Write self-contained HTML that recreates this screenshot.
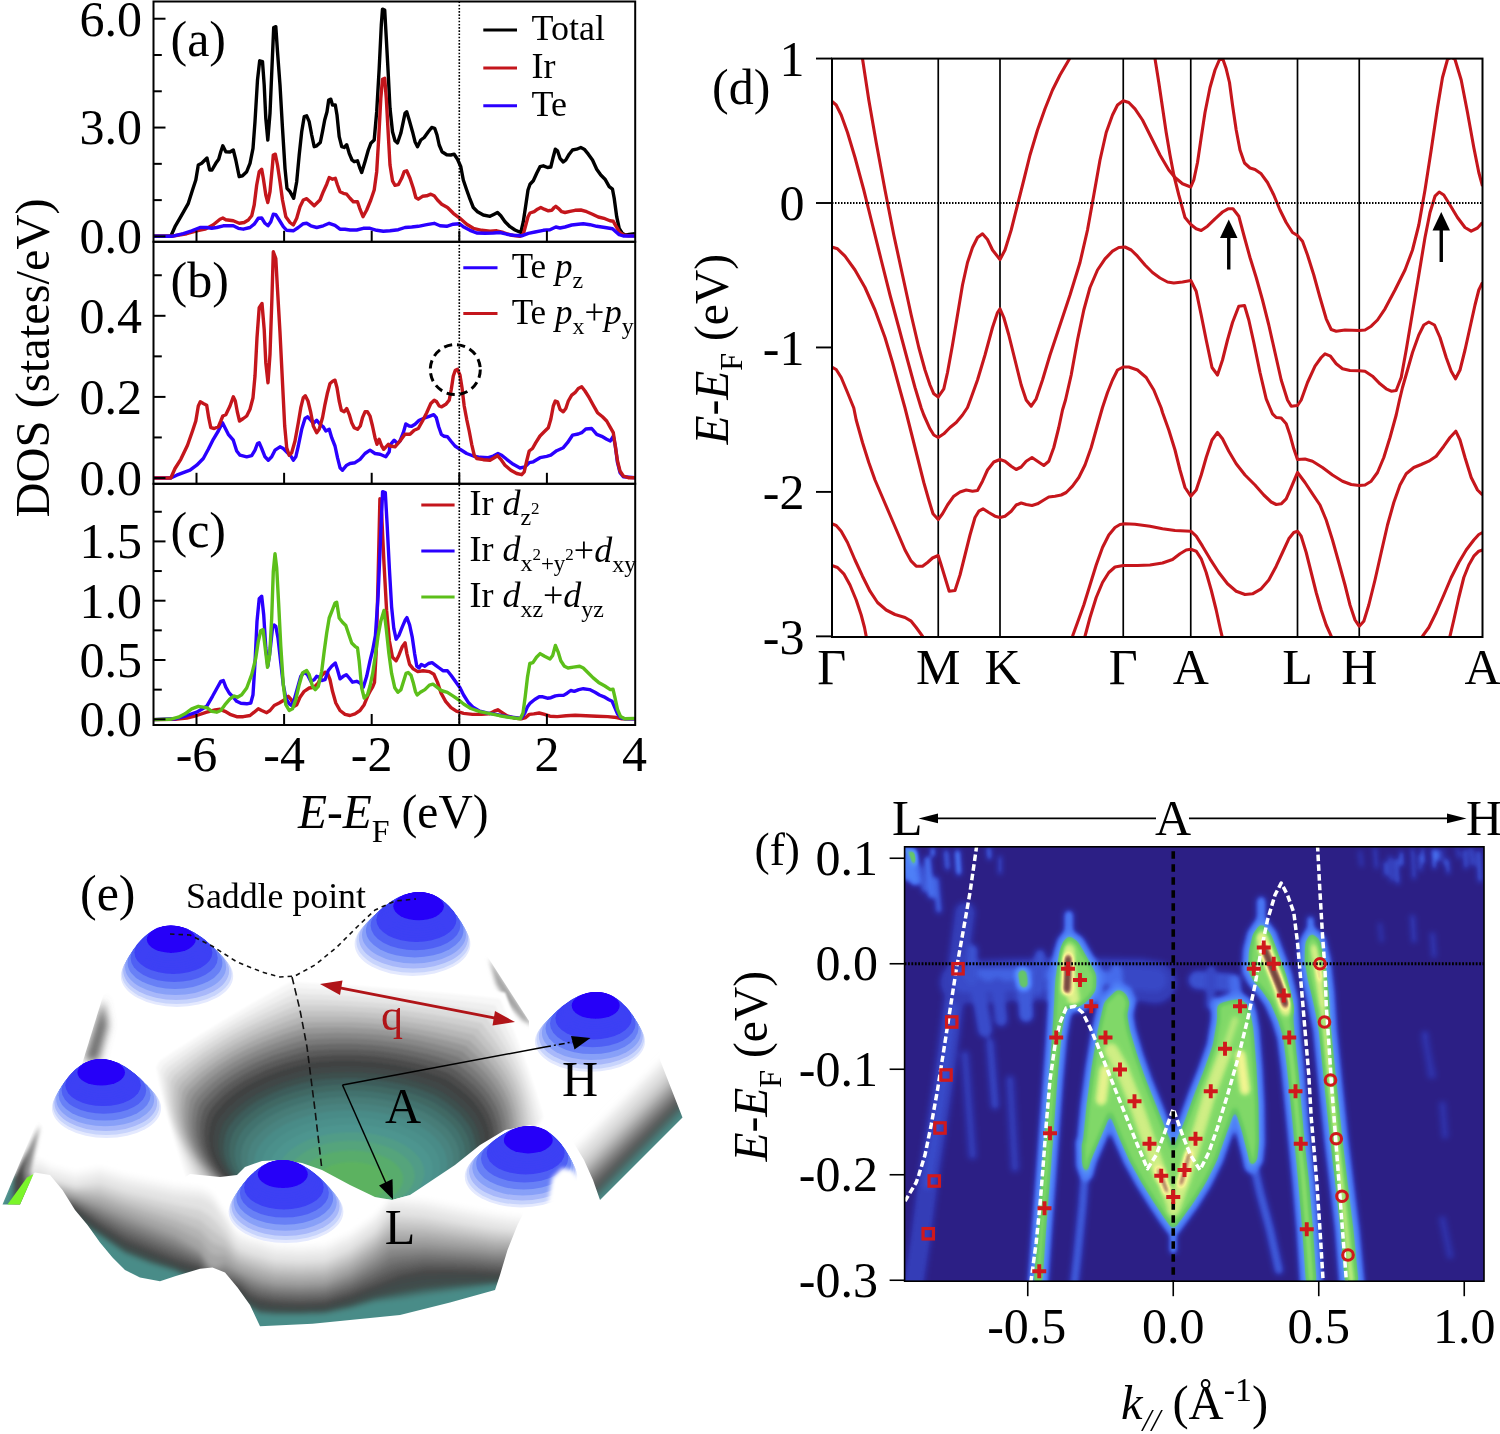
<!DOCTYPE html><html><head><meta charset="utf-8"><title>Figure</title>
<style>html,body{margin:0;padding:0;background:#fff}svg{display:block}text{font-family:"Liberation Serif",serif}</style></head><body>
<svg width="1500" height="1434" viewBox="0 0 1500 1434">
<rect width="1500" height="1434" fill="#fff"/>
<defs><clipPath id="ca"><rect x="153.5" y="1.5" width="481.70000000000005" height="240.3"/></clipPath><clipPath id="cb"><rect x="153.5" y="241.8" width="481.70000000000005" height="242.0"/></clipPath><clipPath id="cc"><rect x="153.5" y="483.8" width="481.70000000000005" height="241.2"/></clipPath></defs>
<g clip-path="url(#ca)">
<path d="M150.0 236.3 L170.8 236.3 L175.0 226.7 L180.8 216.7 L188.3 203.3 L192.5 190.0 L195.8 180.0 L198.3 165.0 L201.7 163.3 L204.2 160.8 L207.0 158.0 L209.7 170.0 L212.0 170.0 L215.8 163.3 L218.7 159.2 L220.8 151.7 L222.8 145.8 L225.8 151.7 L230.0 152.0 L233.3 150.0 L235.8 160.0 L239.2 176.7 L242.5 175.8 L246.7 171.7 L250.0 163.3 L253.0 148.3 L255.0 121.7 L257.5 80.0 L259.7 60.8 L262.5 61.7 L264.2 85.0 L265.8 118.3 L267.8 140.0 L270.0 113.3 L272.5 55.0 L273.7 27.5 L275.8 26.7 L277.5 51.7 L280.0 85.0 L282.5 128.3 L285.0 168.3 L287.0 188.3 L290.0 191.7 L293.7 198.3 L296.7 181.7 L299.2 155.0 L301.7 131.7 L304.2 116.7 L306.7 115.8 L309.2 121.7 L311.7 135.0 L314.2 146.7 L316.7 145.8 L320.3 142.5 L322.5 131.7 L324.7 120.0 L327.0 111.7 L328.7 100.0 L330.8 99.2 L332.5 105.0 L335.3 105.0 L337.0 115.0 L339.2 136.7 L341.7 146.7 L344.2 147.5 L346.7 144.7 L349.2 153.3 L352.0 160.0 L354.2 161.7 L357.5 160.8 L359.7 167.5 L361.7 172.5 L365.0 161.7 L368.3 150.0 L370.8 143.3 L374.2 140.0 L376.7 111.7 L379.2 68.3 L381.3 25.0 L382.5 9.2 L384.7 10.0 L386.3 38.3 L388.3 75.0 L390.0 108.3 L392.5 131.7 L395.0 140.8 L397.5 143.0 L400.8 133.3 L403.3 121.7 L405.0 113.3 L406.7 111.7 L409.2 120.0 L412.5 131.7 L415.0 141.7 L417.5 146.7 L420.8 140.0 L424.2 137.5 L428.3 131.7 L431.7 127.5 L434.7 128.3 L437.0 135.0 L439.2 145.0 L442.0 151.7 L446.7 154.7 L450.8 155.0 L454.2 154.2 L457.5 159.2 L460.8 166.7 L463.3 180.0 L466.7 190.0 L470.0 199.2 L473.3 207.5 L477.5 211.7 L483.3 215.0 L490.0 216.3 L494.2 214.2 L497.5 212.5 L500.8 215.8 L505.0 221.7 L510.0 226.7 L515.0 230.0 L520.8 232.5 L523.3 221.7 L525.8 205.0 L528.0 190.0 L530.0 184.2 L533.3 180.8 L536.7 173.3 L540.0 166.7 L543.3 165.8 L547.5 167.5 L550.8 167.0 L553.3 156.7 L555.3 149.2 L557.5 150.8 L560.0 158.3 L563.3 162.0 L565.8 160.0 L569.2 154.2 L572.5 150.0 L576.7 149.2 L580.8 147.5 L584.2 149.2 L588.3 154.2 L592.5 160.0 L596.7 169.2 L600.8 175.0 L605.0 179.2 L609.2 186.7 L612.5 189.2 L614.2 198.3 L616.7 216.7 L619.2 228.3 L622.5 233.7 L625.8 235.0 L630.8 234.2 L635.0 233.7" fill="none" stroke="#000" stroke-width="3.4" stroke-linejoin="round" stroke-linecap="butt" />
<path d="M150.0 236.3 L171.7 236.3 L186.7 233.7 L196.7 230.8 L205.0 229.2 L213.3 224.7 L220.0 219.2 L222.8 218.0 L225.8 219.7 L233.3 220.8 L239.2 223.3 L244.2 222.5 L248.3 220.0 L251.7 215.8 L254.2 205.0 L256.7 185.0 L259.2 171.7 L261.7 169.2 L263.3 178.3 L265.8 195.0 L267.8 202.5 L270.0 191.7 L272.5 165.0 L273.3 155.0 L275.3 154.2 L277.5 165.0 L280.0 181.7 L282.5 200.0 L285.8 216.7 L290.0 222.5 L293.3 225.0 L296.7 218.3 L300.0 206.7 L303.3 200.0 L306.7 198.7 L310.0 201.7 L314.2 205.8 L320.0 200.0 L323.3 191.7 L326.7 184.2 L329.2 177.5 L332.5 179.2 L335.3 178.3 L337.5 185.0 L340.0 191.7 L343.3 193.3 L346.7 194.2 L350.0 198.3 L353.3 201.7 L357.5 201.7 L359.7 208.3 L363.0 216.7 L366.7 210.0 L370.8 200.0 L374.2 190.0 L376.7 171.7 L378.7 138.3 L380.8 98.3 L382.5 79.2 L384.7 78.3 L386.3 98.3 L388.3 135.0 L390.0 165.0 L392.5 180.8 L395.0 185.3 L398.3 184.7 L401.7 178.3 L404.2 171.7 L406.7 170.8 L410.0 178.3 L413.3 188.3 L415.8 197.5 L418.3 199.2 L422.5 196.3 L426.7 195.8 L430.8 194.2 L434.2 195.8 L437.5 200.0 L441.7 204.2 L447.5 207.5 L453.3 213.3 L460.0 218.3 L466.7 224.2 L473.3 228.3 L481.7 230.3 L490.0 231.3 L496.7 230.8 L503.3 232.5 L511.7 235.3 L520.0 236.3 L523.3 234.2 L525.8 225.0 L528.0 216.7 L530.0 213.0 L534.2 211.7 L537.5 209.2 L540.8 207.5 L544.2 209.2 L548.3 210.8 L551.7 210.3 L554.2 207.5 L555.8 206.3 L558.3 208.3 L561.7 211.7 L565.0 212.5 L570.0 211.3 L575.0 210.3 L580.8 210.0 L586.7 211.7 L592.5 214.2 L598.3 217.0 L605.0 218.7 L610.0 220.8 L613.3 221.3 L615.8 225.8 L619.2 231.7 L623.3 235.0 L628.3 235.8 L635.0 235.8" fill="none" stroke="#c4161c" stroke-width="3.4" stroke-linejoin="round" stroke-linecap="butt" />
<path d="M150.0 236.3 L171.7 236.3 L183.3 233.7 L191.7 230.8 L200.0 227.5 L206.7 227.5 L211.7 228.3 L216.7 227.5 L223.3 225.8 L233.3 225.8 L238.3 228.3 L243.3 229.2 L250.0 227.5 L254.2 224.2 L258.3 218.3 L261.7 218.0 L265.0 223.3 L268.0 225.8 L270.8 221.7 L273.3 214.2 L275.8 214.7 L279.2 220.0 L283.3 226.7 L286.7 230.3 L293.3 230.8 L298.3 227.5 L303.3 223.7 L306.7 223.3 L310.8 225.8 L316.7 227.5 L323.3 225.8 L329.2 223.3 L335.0 225.3 L340.0 229.2 L345.0 229.2 L350.0 230.0 L356.7 230.0 L363.3 228.3 L370.0 228.3 L376.7 230.3 L383.3 231.3 L390.0 230.7 L398.3 229.7 L405.0 227.5 L411.7 227.0 L418.3 226.3 L426.7 224.7 L434.2 223.3 L440.0 225.8 L446.7 226.3 L453.3 224.2 L459.2 223.7 L463.3 226.7 L470.0 230.3 L476.7 233.0 L485.0 233.3 L493.3 233.0 L500.0 232.5 L506.7 234.2 L513.3 235.3 L521.7 235.8 L528.3 233.3 L535.0 232.0 L543.3 230.3 L550.0 229.7 L555.8 227.0 L560.0 228.0 L565.0 227.0 L571.7 225.0 L578.3 224.2 L583.3 223.7 L590.0 224.7 L596.7 226.3 L605.0 227.5 L612.5 228.7 L615.8 231.7 L619.2 234.7 L623.3 236.0 L635.0 236.0" fill="none" stroke="#2a00ff" stroke-width="3.4" stroke-linejoin="round" stroke-linecap="butt" />
</g>
<g clip-path="url(#cb)">
<path d="M150.0 478.0 L170.8 478.0 L176.7 475.2 L183.3 472.7 L190.0 470.2 L196.7 465.2 L203.3 458.5 L208.3 449.3 L213.3 439.3 L218.3 431.0 L222.5 422.7 L225.0 427.7 L228.3 434.3 L233.3 440.2 L236.7 451.0 L240.0 455.2 L246.7 456.8 L251.7 455.7 L255.0 450.2 L257.5 443.5 L259.2 442.7 L261.7 448.5 L265.0 456.8 L268.3 460.2 L271.7 456.8 L275.0 450.2 L280.0 446.8 L283.3 448.5 L287.5 452.7 L290.8 456.0 L293.3 460.2 L295.8 456.8 L298.3 446.0 L301.7 429.3 L305.0 418.5 L307.5 416.8 L310.0 419.3 L313.3 423.5 L316.7 420.2 L320.0 424.3 L323.3 426.8 L325.8 431.0 L329.2 429.3 L331.7 437.7 L335.0 446.0 L337.5 457.7 L340.0 467.7 L342.5 470.2 L346.7 465.2 L350.0 463.5 L355.0 462.7 L360.0 459.3 L365.0 453.5 L370.0 450.2 L375.0 453.5 L380.0 454.3 L385.8 456.8 L389.2 451.8 L390.0 445.2 L394.2 440.2 L397.5 443.5 L400.0 441.0 L403.3 432.7 L405.8 424.0 L409.2 426.0 L411.7 426.3 L415.0 424.3 L419.2 420.2 L423.3 418.5 L429.2 416.3 L433.7 414.7 L436.3 417.7 L438.7 426.8 L441.3 434.3 L444.2 436.3 L447.5 436.8 L450.8 441.0 L455.0 446.0 L460.0 449.3 L466.7 453.5 L473.3 456.0 L480.0 457.3 L488.3 457.7 L493.3 456.0 L498.0 453.5 L501.7 455.2 L506.7 459.3 L513.3 464.3 L520.0 468.0 L525.0 466.8 L529.2 462.7 L533.3 461.8 L540.0 457.7 L546.7 456.3 L550.8 455.2 L556.7 450.7 L563.3 447.7 L567.5 442.7 L572.5 435.2 L578.3 434.0 L581.7 432.7 L585.8 429.0 L591.7 428.5 L596.7 434.3 L601.7 436.3 L606.7 439.3 L610.3 441.0 L613.3 436.0 L615.3 446.0 L617.5 462.7 L620.0 472.7 L623.3 476.8 L635.0 477.7" fill="none" stroke="#2a00ff" stroke-width="3.4" stroke-linejoin="round" stroke-linecap="butt" />
<path d="M150.0 478.0 L170.8 478.0 L175.0 468.5 L180.8 459.3 L187.5 445.2 L192.5 431.0 L195.8 421.0 L198.3 406.0 L200.3 401.8 L203.3 403.5 L206.7 405.2 L208.7 417.7 L210.8 427.7 L214.2 428.5 L218.3 426.8 L220.8 421.0 L222.8 416.0 L225.8 414.7 L230.0 406.0 L233.3 396.8 L235.3 401.0 L237.5 412.7 L239.5 421.0 L243.3 418.5 L246.7 416.0 L250.0 409.3 L253.0 397.7 L255.0 376.0 L257.0 337.7 L259.2 307.7 L262.0 303.5 L264.2 329.3 L265.8 362.7 L268.0 382.7 L270.0 354.3 L272.0 296.0 L273.3 251.8 L275.8 258.5 L277.5 289.3 L280.0 332.7 L282.5 382.7 L284.7 426.0 L286.7 447.7 L289.2 455.2 L291.7 452.7 L295.0 441.0 L298.3 422.7 L300.8 407.7 L303.3 397.7 L305.3 395.7 L308.0 401.0 L310.8 412.7 L313.3 426.0 L316.7 432.7 L319.2 429.3 L322.5 417.7 L325.0 404.3 L327.5 392.7 L330.0 383.5 L333.0 381.0 L335.0 380.2 L337.0 387.7 L339.2 401.0 L341.3 410.2 L344.2 411.8 L346.7 408.5 L349.2 414.3 L351.7 422.7 L354.2 427.7 L357.5 429.3 L360.3 426.0 L362.5 417.7 L365.0 411.8 L367.5 411.8 L370.0 416.0 L372.5 426.0 L375.0 437.7 L377.0 444.3 L379.2 439.3 L381.7 446.0 L383.7 449.3 L388.3 444.3 L390.0 446.0 L395.0 446.8 L400.0 441.0 L405.0 434.3 L410.0 434.3 L414.2 430.2 L418.3 428.5 L422.5 421.0 L426.7 412.7 L430.8 403.5 L434.2 400.2 L436.7 401.8 L439.2 406.0 L441.7 406.8 L445.8 404.3 L449.2 400.2 L451.3 389.3 L453.3 376.0 L455.3 370.2 L457.5 369.3 L460.0 375.2 L462.0 387.7 L464.2 406.0 L466.7 419.3 L469.2 431.0 L471.7 444.3 L474.2 455.2 L476.7 458.5 L483.3 459.7 L490.0 460.2 L494.2 457.7 L497.5 455.7 L500.8 459.3 L505.0 465.2 L510.8 470.2 L516.7 473.5 L521.7 474.7 L524.2 471.8 L526.7 461.0 L529.2 451.0 L532.5 448.5 L535.8 442.7 L540.0 436.0 L544.2 431.8 L548.3 427.7 L550.8 419.3 L553.3 406.0 L555.3 401.0 L557.5 401.8 L560.0 409.3 L563.3 411.8 L565.8 408.5 L568.3 401.0 L571.7 395.2 L575.0 392.7 L578.3 388.5 L581.7 386.8 L585.0 391.0 L589.2 397.7 L593.3 405.2 L597.5 412.7 L602.5 416.8 L606.7 421.0 L610.0 426.8 L613.3 432.7 L615.3 446.0 L617.5 461.0 L620.0 471.0 L623.3 476.0 L628.3 477.7 L635.0 477.7" fill="none" stroke="#c4161c" stroke-width="3.4" stroke-linejoin="round" stroke-linecap="butt" />
</g>
<g clip-path="url(#cc)">
<path d="M150.0 719.7 L175.0 719.3 L186.7 718.0 L196.7 715.5 L206.7 712.2 L215.0 710.0 L220.0 709.3 L225.0 711.3 L230.0 714.3 L236.7 716.7 L243.3 716.7 L250.0 715.5 L254.2 712.2 L258.3 708.8 L261.7 710.5 L266.7 712.7 L270.0 710.5 L274.2 705.5 L279.2 703.0 L284.2 700.0 L288.3 696.3 L291.3 699.7 L294.2 706.3 L296.7 704.7 L300.0 697.2 L304.2 691.3 L309.2 688.0 L314.2 687.2 L318.3 683.0 L321.7 675.5 L325.0 672.2 L327.5 673.0 L330.0 679.7 L332.5 691.3 L335.8 703.0 L340.0 710.5 L345.0 714.3 L350.0 715.5 L355.0 713.8 L360.0 710.5 L364.2 704.7 L368.3 694.7 L370.0 691.4 L372.7 686.9 L374.5 682.4 L376.3 650.0 L378.1 578.0 L379.9 498.8 L381.7 515.0 L384.0 563.6 L386.6 610.4 L389.4 641.0 L392.5 657.2 L396.1 660.8 L398.8 655.4 L402.4 646.4 L405.1 642.8 L406.9 653.6 L409.6 664.4 L413.2 668.9 L417.7 671.6 L423.1 670.7 L429.4 671.6 L433.9 674.3 L437.5 682.4 L441.1 693.2 L445.6 701.3 L451.0 707.6 L456.4 711.2 L463.6 713.4 L472.6 714.4 L481.6 714.4 L488.8 713.9 L494.2 711.2 L497.8 709.8 L501.4 712.1 L506.8 715.7 L514.0 718.0 L521.2 718.8 L525.7 717.5 L529.3 714.4 L533.8 713.9 L539.2 713.0 L544.6 714.4 L550.0 716.2 L557.2 716.6 L566.2 715.7 L575.2 715.2 L586.0 715.7 L596.8 716.2 L607.6 716.6 L616.6 717.5 L622.0 718.8 L634.6 718.8" fill="none" stroke="#c4161c" stroke-width="3.4" stroke-linejoin="round" stroke-linecap="butt" />
<path d="M150.0 719.7 L175.0 718.8 L186.7 715.5 L196.7 712.2 L206.7 706.3 L212.5 696.3 L217.5 687.2 L220.8 681.3 L223.3 680.5 L225.8 687.2 L229.2 693.0 L233.3 697.2 L236.7 701.3 L240.8 703.3 L246.7 703.8 L250.8 703.0 L253.0 694.7 L255.0 663.0 L257.0 621.3 L259.2 598.8 L261.7 596.3 L263.7 614.7 L265.8 648.0 L267.8 666.3 L270.0 651.3 L272.5 628.0 L274.2 625.0 L275.8 626.3 L278.0 638.0 L280.8 663.0 L283.3 684.7 L285.8 698.0 L289.2 703.8 L291.7 705.5 L294.2 699.7 L297.5 688.0 L300.8 676.3 L304.2 672.2 L307.5 674.7 L310.8 681.3 L314.2 679.7 L316.7 676.3 L319.2 677.2 L321.7 680.5 L325.0 679.7 L328.3 670.5 L331.7 666.3 L335.3 663.0 L337.5 669.7 L340.0 678.8 L343.3 676.3 L346.3 674.7 L349.2 678.0 L352.5 682.2 L356.7 681.3 L360.0 683.0 L363.3 687.2 L366.7 676.3 L370.0 660.8 L372.7 650.0 L375.4 635.6 L378.1 596.0 L380.4 542.0 L382.6 491.6 L385.3 492.5 L387.1 524.0 L389.4 569.0 L391.6 606.8 L393.8 628.4 L396.1 639.2 L398.8 635.6 L402.4 626.6 L405.1 620.3 L406.9 617.6 L409.6 624.8 L412.3 637.4 L414.6 653.6 L416.8 666.2 L419.0 668.0 L421.3 664.4 L424.9 666.2 L428.5 663.5 L432.1 662.6 L435.7 665.3 L439.3 668.0 L442.9 670.7 L447.4 670.7 L451.0 675.2 L455.5 681.5 L460.0 687.8 L463.6 695.0 L468.1 702.2 L473.5 707.6 L479.8 711.2 L487.0 713.0 L496.0 714.4 L505.0 716.2 L514.0 717.5 L521.2 718.4 L524.8 713.0 L527.5 706.7 L530.2 703.1 L534.7 699.5 L539.2 696.8 L542.8 696.8 L547.3 698.2 L550.9 697.7 L555.4 695.9 L559.0 695.4 L563.5 695.4 L567.1 693.2 L570.7 690.5 L574.3 691.4 L578.8 689.6 L583.3 688.7 L589.6 689.6 L595.0 692.3 L599.5 695.0 L604.0 696.8 L608.5 699.5 L612.1 701.3 L614.4 706.7 L617.5 713.9 L621.1 718.0 L625.6 718.8 L634.6 718.8" fill="none" stroke="#2a00ff" stroke-width="3.4" stroke-linejoin="round" stroke-linecap="butt" />
<path d="M150.0 719.7 L170.0 719.3 L178.3 717.2 L185.0 713.8 L191.7 708.8 L198.3 706.3 L203.3 707.2 L207.5 708.0 L211.7 711.3 L216.7 712.2 L220.8 710.5 L225.0 704.7 L230.0 698.8 L234.2 696.0 L237.5 697.2 L241.7 694.7 L246.7 688.0 L251.7 674.7 L255.8 658.0 L258.3 641.3 L260.8 630.5 L263.0 629.7 L265.0 646.3 L267.5 667.2 L269.7 654.7 L271.7 618.0 L273.3 571.3 L275.0 553.8 L276.7 568.0 L278.7 604.7 L280.8 646.3 L283.3 684.7 L285.8 704.7 L289.2 710.5 L292.5 708.8 L295.8 699.7 L299.2 684.7 L302.5 673.0 L306.7 670.5 L309.2 674.7 L312.5 686.3 L315.3 689.7 L318.3 686.3 L321.7 671.3 L324.2 651.3 L326.7 633.0 L329.2 618.0 L332.5 609.7 L335.0 603.0 L336.7 602.2 L339.2 618.0 L342.5 622.2 L345.8 625.5 L348.3 633.0 L351.7 643.0 L355.0 646.3 L357.5 648.0 L359.2 661.3 L361.7 688.0 L364.2 698.0 L367.5 694.7 L370.0 686.0 L372.7 673.4 L375.4 655.4 L378.1 635.6 L380.8 621.2 L384.0 610.4 L386.2 628.4 L388.9 653.6 L391.6 673.4 L394.8 687.8 L397.9 692.3 L401.0 689.6 L403.8 680.6 L406.0 673.4 L408.2 672.5 L411.0 675.2 L413.2 682.4 L415.4 691.4 L417.2 695.0 L420.4 692.3 L424.9 689.6 L429.4 685.1 L433.0 684.2 L436.6 686.9 L441.1 690.5 L447.4 692.3 L452.8 695.9 L458.2 699.5 L463.6 704.0 L470.8 708.5 L479.8 711.6 L488.8 713.4 L499.6 715.7 L510.4 717.5 L520.3 718.8 L523.0 713.0 L525.2 696.8 L527.5 677.0 L529.8 663.5 L532.9 662.6 L536.5 657.2 L540.1 653.6 L544.6 656.3 L550.0 659.0 L552.7 655.4 L555.4 645.5 L558.1 651.8 L560.8 660.8 L564.4 666.2 L568.0 668.0 L573.4 667.1 L579.7 666.2 L583.3 668.0 L587.8 672.5 L593.2 677.9 L598.6 682.4 L604.9 686.0 L610.3 689.6 L613.0 689.2 L614.8 696.8 L617.5 709.4 L620.6 716.6 L624.7 718.8 L634.6 718.4" fill="none" stroke="#5cbf1a" stroke-width="3.4" stroke-linejoin="round" stroke-linecap="butt" />
</g>
<line x1="459.30" y1="1.50" x2="459.30" y2="725.00" stroke="#000" stroke-width="1.6" stroke-dasharray="1.6 1.6"/>
<rect x="153.5" y="1.5" width="481.70000000000005" height="240.3" fill="none" stroke="#000" stroke-width="2"/>
<rect x="153.5" y="241.8" width="481.70000000000005" height="242.0" fill="none" stroke="#000" stroke-width="2"/>
<rect x="153.5" y="483.8" width="481.70000000000005" height="241.2" fill="none" stroke="#000" stroke-width="2"/>
<line x1="196.50" y1="241.80" x2="196.50" y2="230.80" stroke="#000" stroke-width="2" />
<line x1="284.10" y1="241.80" x2="284.10" y2="230.80" stroke="#000" stroke-width="2" />
<line x1="371.70" y1="241.80" x2="371.70" y2="230.80" stroke="#000" stroke-width="2" />
<line x1="459.30" y1="241.80" x2="459.30" y2="230.80" stroke="#000" stroke-width="2" />
<line x1="546.90" y1="241.80" x2="546.90" y2="230.80" stroke="#000" stroke-width="2" />
<line x1="196.50" y1="483.80" x2="196.50" y2="472.80" stroke="#000" stroke-width="2" />
<line x1="284.10" y1="483.80" x2="284.10" y2="472.80" stroke="#000" stroke-width="2" />
<line x1="371.70" y1="483.80" x2="371.70" y2="472.80" stroke="#000" stroke-width="2" />
<line x1="459.30" y1="483.80" x2="459.30" y2="472.80" stroke="#000" stroke-width="2" />
<line x1="546.90" y1="483.80" x2="546.90" y2="472.80" stroke="#000" stroke-width="2" />
<line x1="196.50" y1="725.00" x2="196.50" y2="714.00" stroke="#000" stroke-width="2" />
<line x1="284.10" y1="725.00" x2="284.10" y2="714.00" stroke="#000" stroke-width="2" />
<line x1="371.70" y1="725.00" x2="371.70" y2="714.00" stroke="#000" stroke-width="2" />
<line x1="459.30" y1="725.00" x2="459.30" y2="714.00" stroke="#000" stroke-width="2" />
<line x1="546.90" y1="725.00" x2="546.90" y2="714.00" stroke="#000" stroke-width="2" />
<line x1="153.50" y1="236.40" x2="165.50" y2="236.40" stroke="#000" stroke-width="2" />
<line x1="153.50" y1="127.56" x2="165.50" y2="127.56" stroke="#000" stroke-width="2" />
<line x1="153.50" y1="18.72" x2="165.50" y2="18.72" stroke="#000" stroke-width="2" />
<line x1="153.50" y1="200.12" x2="161.80" y2="200.12" stroke="#000" stroke-width="2" />
<line x1="153.50" y1="163.84" x2="161.80" y2="163.84" stroke="#000" stroke-width="2" />
<line x1="153.50" y1="91.28" x2="161.80" y2="91.28" stroke="#000" stroke-width="2" />
<line x1="153.50" y1="55.00" x2="161.80" y2="55.00" stroke="#000" stroke-width="2" />
<line x1="153.50" y1="478.00" x2="165.50" y2="478.00" stroke="#000" stroke-width="2" />
<line x1="153.50" y1="396.90" x2="165.50" y2="396.90" stroke="#000" stroke-width="2" />
<line x1="153.50" y1="315.80" x2="165.50" y2="315.80" stroke="#000" stroke-width="2" />
<line x1="153.50" y1="437.45" x2="161.80" y2="437.45" stroke="#000" stroke-width="2" />
<line x1="153.50" y1="356.35" x2="161.80" y2="356.35" stroke="#000" stroke-width="2" />
<line x1="153.50" y1="275.25" x2="161.80" y2="275.25" stroke="#000" stroke-width="2" />
<line x1="153.50" y1="719.30" x2="165.50" y2="719.30" stroke="#000" stroke-width="2" />
<line x1="153.50" y1="660.00" x2="165.50" y2="660.00" stroke="#000" stroke-width="2" />
<line x1="153.50" y1="600.70" x2="165.50" y2="600.70" stroke="#000" stroke-width="2" />
<line x1="153.50" y1="541.40" x2="165.50" y2="541.40" stroke="#000" stroke-width="2" />
<line x1="153.50" y1="689.65" x2="161.80" y2="689.65" stroke="#000" stroke-width="2" />
<line x1="153.50" y1="630.35" x2="161.80" y2="630.35" stroke="#000" stroke-width="2" />
<line x1="153.50" y1="571.05" x2="161.80" y2="571.05" stroke="#000" stroke-width="2" />
<line x1="153.50" y1="511.75" x2="161.80" y2="511.75" stroke="#000" stroke-width="2" />
<text x="142.00" y="253.20" font-size="50" text-anchor="end" fill="#000" >0.0</text>
<text x="142.00" y="144.36" font-size="50" text-anchor="end" fill="#000" >3.0</text>
<text x="142.00" y="35.52" font-size="50" text-anchor="end" fill="#000" >6.0</text>
<text x="142.00" y="494.80" font-size="50" text-anchor="end" fill="#000" >0.0</text>
<text x="142.00" y="413.70" font-size="50" text-anchor="end" fill="#000" >0.2</text>
<text x="142.00" y="332.60" font-size="50" text-anchor="end" fill="#000" >0.4</text>
<text x="142.00" y="736.10" font-size="50" text-anchor="end" fill="#000" >0.0</text>
<text x="142.00" y="676.80" font-size="50" text-anchor="end" fill="#000" >0.5</text>
<text x="142.00" y="617.50" font-size="50" text-anchor="end" fill="#000" >1.0</text>
<text x="142.00" y="558.20" font-size="50" text-anchor="end" fill="#000" >1.5</text>
<text x="196.50" y="771.00" font-size="50" text-anchor="middle" fill="#000" >-6</text>
<text x="284.10" y="771.00" font-size="50" text-anchor="middle" fill="#000" >-4</text>
<text x="371.70" y="771.00" font-size="50" text-anchor="middle" fill="#000" >-2</text>
<text x="459.30" y="771.00" font-size="50" text-anchor="middle" fill="#000" >0</text>
<text x="546.90" y="771.00" font-size="50" text-anchor="middle" fill="#000" >2</text>
<text x="634.50" y="771.00" font-size="50" text-anchor="middle" fill="#000" >4</text>
<text x="170.50" y="56.00" font-size="50" text-anchor="start" fill="#000" >(a)</text>
<text x="170.50" y="297.00" font-size="50" text-anchor="start" fill="#000" >(b)</text>
<text x="170.50" y="547.00" font-size="50" text-anchor="start" fill="#000" >(c)</text>
<text transform="translate(49 517.5) rotate(-90)" font-size="48.5">DOS (states/eV)</text>
<text x="298" y="827.5" font-size="47.5"><tspan font-style="italic">E</tspan>-<tspan font-style="italic">E</tspan><tspan font-size="32" dy="14.5">F</tspan><tspan dy="-14.5"> (eV)</tspan></text>
<line x1="483.30" y1="30.00" x2="517.00" y2="30.00" stroke="#000" stroke-width="3" />
<text x="531.50" y="40.20" font-size="36" text-anchor="start" fill="#000" >Total</text>
<line x1="483.30" y1="67.90" x2="517.00" y2="67.90" stroke="#c4161c" stroke-width="3" />
<text x="531.50" y="78.10" font-size="36" text-anchor="start" fill="#000" >Ir</text>
<line x1="483.30" y1="105.80" x2="517.00" y2="105.80" stroke="#2a00ff" stroke-width="3" />
<text x="531.50" y="116.00" font-size="36" text-anchor="start" fill="#000" >Te</text>
<line x1="463.30" y1="267.70" x2="497.50" y2="267.70" stroke="#2a00ff" stroke-width="3" />
<line x1="463.30" y1="313.50" x2="497.50" y2="313.50" stroke="#c4161c" stroke-width="3" />
<text x="511.7" y="277.7" font-size="35">Te <tspan font-style="italic">p</tspan><tspan font-size="24" dy="10">z</tspan></text>
<text x="511.7" y="323.5" font-size="35">Te <tspan font-style="italic">p</tspan><tspan font-size="24" dy="10">x</tspan><tspan dy="-10">+</tspan><tspan font-style="italic">p</tspan><tspan font-size="24" dy="10">y</tspan></text>
<line x1="421.30" y1="505.10" x2="454.60" y2="505.10" stroke="#c4161c" stroke-width="3" />
<line x1="421.30" y1="551.00" x2="454.60" y2="551.00" stroke="#2a00ff" stroke-width="3" />
<line x1="421.30" y1="596.90" x2="454.60" y2="596.90" stroke="#5cbf1a" stroke-width="3" />
<text x="469.4" y="515" font-size="36">Ir <tspan font-style="italic">d</tspan><tspan font-size="24" dy="10">z</tspan><tspan font-size="17" dy="-11">2</tspan></text>
<text x="469.4" y="560.9" font-size="36">Ir <tspan font-style="italic">d</tspan><tspan font-size="24" dy="10">x</tspan><tspan font-size="17" dy="-11">2</tspan><tspan font-size="23" dy="11">+y</tspan><tspan font-size="17" dy="-11">2</tspan><tspan dy="2">+</tspan><tspan font-style="italic">d</tspan><tspan font-size="24" dy="10">xy</tspan></text>
<text x="469.4" y="606.8" font-size="36">Ir <tspan font-style="italic">d</tspan><tspan font-size="24" dy="10">xz</tspan><tspan dy="-10">+</tspan><tspan font-style="italic">d</tspan><tspan font-size="24" dy="10">yz</tspan></text>
<circle cx="455.3" cy="369.6" r="25" fill="none" stroke="#000" stroke-width="3" stroke-dasharray="8.2 5"/>
<defs>
<filter id="eb1" filterUnits="userSpaceOnUse" x="-50" y="850" width="800" height="600"><feGaussianBlur stdDeviation="1.1"/></filter>
<filter id="eb2" filterUnits="userSpaceOnUse" x="-50" y="850" width="800" height="600"><feGaussianBlur stdDeviation="2.2"/></filter>
<filter id="eb4" filterUnits="userSpaceOnUse" x="-50" y="850" width="800" height="600"><feGaussianBlur stdDeviation="4.5"/></filter>
<filter id="eb07" filterUnits="userSpaceOnUse" x="-50" y="850" width="800" height="600"><feGaussianBlur stdDeviation="0.7"/></filter>
<clipPath id="ce_sil"><path d="M2.5 1205.0 L15.0 1205.0 L25.0 1180.0 L35.0 1172.5 L50.0 1175.0 L62.5 1190.0 L75.0 1210.0 L87.5 1225.0 L100.0 1242.5 L112.5 1257.5 L125.0 1270.0 L140.0 1277.5 L160.0 1281.2 L175.0 1276.2 L187.5 1272.5 L200.0 1268.8 L212.5 1267.5 L225.0 1272.5 L237.5 1287.5 L250.0 1305.0 L260.0 1326.2 L312.5 1323.8 L325.0 1322.5 L400.0 1315.0 L450.0 1302.5 L495.0 1290.0 L500.0 1275.0 L507.5 1250.0 L517.5 1225.0 L525.0 1210.0 L540.0 1200.0 L600.0 1200.0 L600.0 1200.0 L585.0 1178.0 L565.0 1150.0 L550.0 1132.0 L530.0 1125.0 L505.0 1130.0 L480.0 1145.0 L455.0 1165.0 L425.0 1185.0 L410.0 1195.0 L392.0 1200.0 L375.0 1197.0 L350.0 1185.0 L322.0 1170.0 L302.0 1163.0 L282.0 1160.0 L262.0 1161.0 L245.0 1167.0 L237.0 1175.0 L220.0 1177.0 L190.0 1174.0 L150.0 1120.0 L60.0 1100.0 L38.0 1119.0 L2.0 1205.0Z"/></clipPath>
<clipPath id="ce_rf"><path d="M563.0 1128.0 L572.0 1140.0 L584.0 1160.0 L593.0 1180.0 L600.0 1200.0 L682.5 1117.5 L660.0 1060.0 L655.0 1000.0 L540.0 1000.0 L520.0 1100.0Z"/></clipPath>
<clipPath id="ce_br"><path d="M380.0 900.0 L488.0 957.5 L529.0 1021.0 L529.0 1080.0 L380.0 1080.0Z"/></clipPath>
<clipPath id="ce_bl"><path d="M103.0 996.0 L79.0 1074.0 L79.0 1120.0 L220.0 1120.0 L220.0 960.0 L140.0 960.0Z"/></clipPath>
<clipPath id="ce_lc"><path d="M38.0 1119.0 L2.5 1204.5 L20.0 1204.5 L34.0 1173.0 L60.0 1150.0Z"/></clipPath>
<linearGradient id="ge_rf" gradientUnits="userSpaceOnUse" x1="594" y1="1112" x2="641" y2="1158.5"><stop offset="0" stop-color="#fff"/><stop offset="0.22" stop-color="#e2e2e2"/><stop offset="0.48" stop-color="#a4a4a4"/><stop offset="0.70" stop-color="#565656"/><stop offset="0.84" stop-color="#44605e"/><stop offset="1" stop-color="#4c8e8a"/></linearGradient>
</defs>
<g clip-path="url(#ce_br)"><path d="M489 958 L533 1026 L522 1020 L508 1004 L496 984 Z" fill="#a4a4a4" filter="url(#eb2)"/></g>
<g clip-path="url(#ce_bl)"><path d="M103 1000 L84 1060 L98 1062 L108 1025 Z" fill="#6c6c6c" filter="url(#eb4)"/></g>
<g filter="url(#eb1)">
<path d="M539.2 1092.3 L541.6 1099.4 L544.1 1106.7 L546.7 1114.3 L543.2 1121.4 L534.5 1127.5 L526.2 1133.4 L518.2 1139.0 L510.4 1144.5 L502.8 1150.0 L495.2 1155.3 L487.6 1160.7 L480.0 1166.0 L472.3 1171.5 L464.3 1177.1 L456.1 1183.0 L447.5 1189.0 L438.4 1195.4 L428.8 1202.2 L418.4 1209.6 L407.0 1217.6 L393.3 1223.1 L376.6 1220.0 L360.9 1217.1 L346.0 1214.3 L331.8 1211.6 L318.1 1209.1 L304.7 1206.6 L291.5 1204.1 L278.5 1201.7 L265.5 1199.2 L252.4 1196.8 L239.0 1194.3 L225.3 1191.7 L211.1 1189.1 L196.2 1186.3 L183.4 1181.8 L180.9 1172.0 L178.6 1163.0 L176.4 1154.7 L174.4 1146.8 L172.5 1139.4 L170.7 1132.3 L168.9 1125.4 L167.1 1118.7 L165.4 1112.1 L163.7 1105.5 L162.1 1099.0 L160.3 1092.3 L158.6 1085.6 L156.8 1078.6 L155.0 1071.4 L153.0 1063.9 L156.9 1057.0 L166.1 1051.4 L174.9 1045.9 L183.5 1040.7 L191.7 1035.6 L199.9 1030.7 L207.9 1025.7 L215.9 1020.8 L224.0 1015.8 L232.2 1010.8 L240.7 1005.6 L249.4 1000.3 L258.5 994.7 L268.1 988.8 L278.3 982.6 L289.3 976.0 L304.3 977.1 L318.7 978.2 L332.5 979.2 L346.0 980.2 L359.2 981.2 L372.4 982.2 L385.5 983.1 L398.7 984.1 L412.2 985.1 L426.0 986.1 L440.3 987.2 L455.2 988.3 L471.0 989.5 L487.8 990.7 L505.2 992.5 L508.7 1002.8 L511.9 1012.3 L514.9 1021.0 L517.7 1029.2 L520.3 1037.0 L522.9 1044.4 L525.3 1051.5 L527.7 1058.4 L530.0 1065.2 L532.3 1072.0 L534.6 1078.7 L536.9 1085.5Z" fill="#ffffff"/>
<path d="M536.8 1095.4 L538.9 1102.4 L541.0 1109.5 L543.1 1117.0 L539.7 1123.9 L531.6 1130.0 L523.8 1135.9 L516.2 1141.5 L508.7 1147.0 L501.3 1152.4 L493.8 1157.7 L486.3 1163.0 L478.7 1168.3 L470.9 1173.6 L462.9 1179.0 L454.5 1184.6 L445.8 1190.4 L436.7 1196.4 L427.0 1202.7 L416.6 1209.5 L405.3 1216.8 L391.9 1221.8 L375.8 1219.2 L360.6 1216.6 L346.2 1214.2 L332.3 1211.8 L318.9 1209.5 L305.8 1207.1 L292.9 1204.8 L280.2 1202.4 L267.4 1200.0 L254.6 1197.6 L241.7 1195.0 L228.4 1192.4 L214.8 1189.6 L200.6 1186.7 L188.4 1182.2 L185.3 1173.0 L182.4 1164.5 L179.8 1156.6 L177.3 1149.0 L175.0 1141.8 L172.9 1134.9 L170.9 1128.2 L169.0 1121.5 L167.2 1115.0 L165.5 1108.5 L163.9 1102.0 L162.3 1095.4 L160.8 1088.7 L159.3 1081.9 L157.9 1074.8 L156.4 1067.5 L160.2 1060.7 L168.9 1055.0 L177.2 1049.6 L185.4 1044.4 L193.4 1039.3 L201.3 1034.3 L209.3 1029.4 L217.2 1024.5 L225.3 1019.6 L233.6 1014.7 L242.1 1009.7 L250.9 1004.6 L260.1 999.3 L269.7 993.8 L279.9 988.0 L291.0 982.0 L305.5 982.9 L319.5 983.7 L333.0 984.5 L346.2 985.4 L359.2 986.3 L372.1 987.2 L385.0 988.2 L397.9 989.2 L411.1 990.3 L424.5 991.5 L438.3 992.7 L452.7 994.0 L467.7 995.4 L483.7 996.9 L500.1 998.9 L504.1 1008.6 L507.9 1017.4 L511.3 1025.7 L514.5 1033.6 L517.5 1041.0 L520.3 1048.2 L523.0 1055.1 L525.5 1061.9 L528.0 1068.6 L530.3 1075.3 L532.5 1081.9 L534.7 1088.6Z" fill="#f7f7f7"/>
<path d="M534.3 1098.5 L536.1 1105.4 L537.8 1112.4 L539.5 1119.6 L536.2 1126.5 L528.7 1132.5 L521.3 1138.4 L514.1 1144.0 L506.8 1149.5 L499.6 1154.8 L492.3 1160.1 L484.8 1165.3 L477.2 1170.5 L469.4 1175.6 L461.3 1180.9 L452.9 1186.2 L444.2 1191.7 L435.0 1197.3 L425.2 1203.2 L414.9 1209.4 L403.7 1216.1 L390.6 1220.7 L375.1 1218.5 L360.4 1216.3 L346.4 1214.2 L332.9 1212.0 L319.7 1209.9 L306.9 1207.7 L294.3 1205.5 L281.8 1203.2 L269.3 1200.8 L256.9 1198.4 L244.3 1195.8 L231.5 1193.1 L218.4 1190.2 L204.9 1187.2 L193.2 1182.8 L189.6 1174.2 L186.2 1166.1 L183.2 1158.5 L180.3 1151.2 L177.7 1144.3 L175.3 1137.5 L173.1 1130.9 L171.0 1124.4 L169.1 1117.9 L167.4 1111.5 L165.9 1105.0 L164.4 1098.5 L163.2 1091.9 L162.0 1085.2 L160.9 1078.2 L159.9 1071.0 L163.6 1064.4 L171.7 1058.7 L179.6 1053.3 L187.4 1048.0 L195.2 1042.9 L202.9 1038.0 L210.8 1033.1 L218.7 1028.3 L226.8 1023.5 L235.1 1018.7 L243.6 1013.9 L252.4 1009.0 L261.7 1004.0 L271.4 998.9 L281.6 993.5 L292.5 988.0 L306.6 988.5 L320.2 989.2 L333.4 989.8 L346.4 990.6 L359.2 991.4 L371.8 992.3 L384.5 993.3 L397.2 994.3 L410.0 995.5 L423.0 996.7 L436.4 998.1 L450.2 999.6 L464.6 1001.2 L479.7 1002.9 L495.2 1005.2 L499.7 1014.2 L503.9 1022.5 L507.7 1030.4 L511.3 1037.9 L514.6 1045.1 L517.7 1052.0 L520.6 1058.8 L523.3 1065.5 L525.8 1072.1 L528.2 1078.6 L530.3 1085.2 L532.4 1091.8Z" fill="#efefef"/>
<path d="M531.7 1101.6 L533.2 1108.3 L534.6 1115.2 L535.9 1122.3 L532.6 1129.0 L525.7 1135.0 L518.7 1140.8 L511.8 1146.4 L504.8 1151.9 L497.8 1157.2 L490.6 1162.4 L483.2 1167.5 L475.6 1172.6 L467.8 1177.6 L459.7 1182.7 L451.3 1187.8 L442.5 1193.0 L433.3 1198.3 L423.5 1203.7 L413.2 1209.5 L402.1 1215.6 L389.3 1219.8 L374.4 1217.9 L360.2 1216.1 L346.6 1214.2 L333.4 1212.3 L320.6 1210.4 L308.0 1208.3 L295.6 1206.2 L283.4 1204.0 L271.2 1201.7 L259.1 1199.2 L246.9 1196.6 L234.5 1193.8 L222.0 1190.9 L209.1 1187.8 L197.8 1183.4 L193.8 1175.3 L190.0 1167.7 L186.6 1160.4 L183.4 1153.4 L180.5 1146.7 L177.8 1140.0 L175.4 1133.6 L173.2 1127.1 L171.3 1120.8 L169.6 1114.4 L168.1 1108.0 L166.8 1101.6 L165.7 1095.1 L164.8 1088.4 L164.0 1081.6 L163.5 1074.6 L167.1 1068.1 L174.7 1062.4 L182.2 1057.0 L189.7 1051.8 L197.2 1046.7 L204.7 1041.7 L212.4 1036.9 L220.3 1032.1 L228.3 1027.4 L236.6 1022.8 L245.2 1018.1 L254.1 1013.5 L263.3 1008.7 L273.0 1003.9 L283.2 998.9 L294.1 993.8 L307.8 994.2 L321.0 994.6 L333.9 995.2 L346.6 995.8 L359.1 996.5 L371.5 997.4 L383.9 998.4 L396.4 999.4 L408.9 1000.7 L421.6 1002.0 L434.5 1003.5 L447.8 1005.2 L461.6 1007.0 L475.9 1008.9 L490.6 1011.3 L495.5 1019.7 L500.0 1027.6 L504.2 1035.1 L508.1 1042.2 L511.7 1049.2 L515.0 1055.9 L518.1 1062.5 L520.9 1069.1 L523.5 1075.5 L525.9 1082.0 L528.0 1088.5 L529.9 1095.0Z" fill="#e5e5e5"/>
<path d="M528.9 1104.7 L530.2 1111.3 L531.3 1118.0 L532.2 1125.0 L529.1 1131.6 L522.6 1137.5 L516.1 1143.2 L509.5 1148.8 L502.7 1154.2 L495.8 1159.5 L488.8 1164.6 L481.5 1169.7 L474.0 1174.6 L466.2 1179.6 L458.1 1184.4 L449.6 1189.3 L440.8 1194.2 L431.6 1199.2 L421.8 1204.3 L411.6 1209.6 L400.6 1215.1 L388.1 1219.0 L373.8 1217.5 L360.1 1215.9 L346.8 1214.3 L333.9 1212.6 L321.4 1210.9 L309.1 1209.0 L297.0 1206.9 L285.0 1204.8 L273.1 1202.5 L261.3 1200.0 L249.5 1197.4 L237.5 1194.6 L225.5 1191.7 L213.2 1188.5 L202.3 1184.2 L197.9 1176.5 L193.8 1169.3 L190.0 1162.3 L186.5 1155.6 L183.4 1149.0 L180.5 1142.6 L177.9 1136.2 L175.6 1129.9 L173.6 1123.6 L171.9 1117.4 L170.5 1111.0 L169.3 1104.7 L168.4 1098.3 L167.7 1091.7 L167.3 1085.0 L167.1 1078.2 L170.6 1071.8 L177.7 1066.2 L184.8 1060.8 L192.0 1055.5 L199.3 1050.5 L206.7 1045.6 L214.3 1040.8 L222.0 1036.1 L230.0 1031.5 L238.3 1026.9 L246.9 1022.4 L255.8 1018.0 L265.0 1013.5 L274.7 1008.9 L284.9 1004.3 L295.6 999.7 L308.9 999.8 L321.8 1000.1 L334.4 1000.5 L346.8 1001.0 L359.1 1001.7 L371.3 1002.5 L383.4 1003.5 L395.6 1004.6 L407.8 1005.9 L420.1 1007.3 L432.7 1008.9 L445.5 1010.7 L458.6 1012.6 L472.3 1014.8 L486.1 1017.3 L491.4 1025.2 L496.2 1032.6 L500.7 1039.7 L504.9 1046.6 L508.7 1053.3 L512.3 1059.8 L515.5 1066.3 L518.4 1072.6 L521.1 1079.0 L523.4 1085.4 L525.5 1091.7 L527.3 1098.2Z" fill="#dbdbdb"/>
<path d="M526.0 1107.8 L527.1 1114.3 L527.9 1120.9 L528.5 1127.6 L525.5 1134.1 L519.4 1140.0 L513.3 1145.7 L507.0 1151.2 L500.5 1156.5 L493.8 1161.7 L486.8 1166.8 L479.7 1171.8 L472.2 1176.6 L464.4 1181.4 L456.3 1186.1 L447.9 1190.8 L439.1 1195.5 L429.9 1200.2 L420.2 1204.9 L410.0 1209.8 L399.2 1214.8 L387.0 1218.4 L373.2 1217.2 L359.9 1215.9 L347.0 1214.5 L334.5 1213.0 L322.2 1211.4 L310.2 1209.6 L298.3 1207.7 L286.6 1205.6 L275.0 1203.3 L263.5 1200.9 L252.0 1198.3 L240.5 1195.5 L228.9 1192.4 L217.1 1189.2 L206.7 1184.9 L201.9 1177.7 L197.5 1170.9 L193.5 1164.2 L189.7 1157.7 L186.4 1151.4 L183.3 1145.1 L180.6 1138.8 L178.2 1132.7 L176.2 1126.5 L174.5 1120.3 L173.1 1114.0 L172.0 1107.8 L171.2 1101.4 L170.8 1095.0 L170.6 1088.5 L170.7 1081.8 L174.2 1075.5 L180.9 1069.9 L187.6 1064.6 L194.5 1059.4 L201.5 1054.3 L208.8 1049.4 L216.2 1044.7 L223.9 1040.1 L231.8 1035.6 L240.1 1031.1 L248.6 1026.8 L257.5 1022.5 L266.7 1018.3 L276.4 1014.0 L286.5 1009.7 L297.2 1005.5 L310.0 1005.4 L322.5 1005.5 L334.8 1005.8 L347.0 1006.2 L359.0 1006.9 L371.0 1007.6 L382.9 1008.6 L394.8 1009.8 L406.7 1011.1 L418.7 1012.6 L430.8 1014.3 L443.1 1016.2 L455.7 1018.3 L468.7 1020.5 L481.8 1023.2 L487.3 1030.6 L492.5 1037.6 L497.3 1044.4 L501.7 1050.9 L505.7 1057.4 L509.4 1063.7 L512.8 1070.0 L515.8 1076.3 L518.5 1082.5 L520.9 1088.8 L522.9 1095.0 L524.6 1101.4Z" fill="#cfcfcf"/>
<path d="M523.0 1110.9 L523.9 1117.2 L524.5 1123.7 L524.7 1130.3 L521.8 1136.6 L516.2 1142.4 L510.4 1148.0 L504.4 1153.5 L498.1 1158.8 L491.6 1163.9 L484.8 1168.9 L477.7 1173.8 L470.3 1178.6 L462.6 1183.2 L454.5 1187.8 L446.1 1192.3 L437.3 1196.7 L428.1 1201.1 L418.5 1205.6 L408.4 1210.0 L397.7 1214.6 L385.9 1217.9 L372.6 1216.9 L359.7 1215.9 L347.2 1214.7 L335.0 1213.4 L323.0 1211.9 L311.3 1210.3 L299.7 1208.4 L288.2 1206.4 L276.9 1204.2 L265.7 1201.8 L254.5 1199.1 L243.4 1196.3 L232.3 1193.3 L221.0 1190.0 L211.0 1185.8 L206.0 1179.0 L201.3 1172.5 L197.0 1166.1 L193.0 1159.8 L189.4 1153.7 L186.2 1147.5 L183.4 1141.4 L181.0 1135.4 L178.9 1129.3 L177.2 1123.2 L175.9 1117.0 L174.9 1110.9 L174.3 1104.6 L174.0 1098.3 L174.1 1091.9 L174.5 1085.4 L177.9 1079.3 L184.2 1073.7 L190.6 1068.4 L197.2 1063.2 L204.0 1058.2 L211.0 1053.4 L218.3 1048.7 L225.9 1044.2 L233.8 1039.7 L242.0 1035.4 L250.5 1031.2 L259.3 1027.1 L268.5 1023.1 L278.1 1019.1 L288.1 1015.1 L298.7 1011.2 L311.1 1011.0 L323.3 1011.0 L335.3 1011.2 L347.2 1011.5 L359.0 1012.1 L370.7 1012.8 L382.3 1013.8 L393.9 1014.9 L405.6 1016.3 L417.2 1017.9 L429.0 1019.7 L440.9 1021.6 L452.9 1023.8 L465.3 1026.2 L477.7 1029.1 L483.4 1035.9 L488.8 1042.6 L493.8 1049.0 L498.4 1055.3 L502.6 1061.5 L506.5 1067.7 L510.0 1073.8 L513.1 1079.9 L515.8 1086.0 L518.1 1092.2 L520.1 1098.3 L521.7 1104.6Z" fill="#c3c3c3"/>
<path d="M519.9 1114.0 L520.6 1120.2 L521.0 1126.5 L521.0 1132.9 L518.1 1139.1 L512.9 1144.9 L507.4 1150.4 L501.6 1155.8 L495.6 1161.0 L489.3 1166.1 L482.6 1171.0 L475.6 1175.8 L468.3 1180.5 L460.7 1185.0 L452.6 1189.4 L444.3 1193.7 L435.6 1197.9 L426.4 1202.1 L416.9 1206.2 L406.9 1210.3 L396.4 1214.5 L384.8 1217.5 L372.0 1216.8 L359.6 1216.0 L347.4 1215.0 L335.5 1213.8 L323.8 1212.5 L312.3 1210.9 L301.0 1209.2 L289.9 1207.2 L278.8 1205.0 L267.9 1202.6 L257.1 1200.0 L246.3 1197.2 L235.6 1194.1 L224.9 1190.8 L215.2 1186.7 L209.9 1180.3 L205.0 1174.0 L200.5 1167.9 L196.4 1161.9 L192.7 1155.9 L189.3 1150.0 L186.4 1144.0 L183.9 1138.1 L181.8 1132.1 L180.1 1126.1 L178.8 1120.0 L177.9 1114.0 L177.5 1107.8 L177.4 1101.6 L177.7 1095.4 L178.3 1089.0 L181.7 1083.0 L187.5 1077.5 L193.6 1072.2 L199.9 1067.1 L206.5 1062.2 L213.4 1057.4 L220.6 1052.8 L228.1 1048.3 L235.8 1044.0 L244.0 1039.8 L252.4 1035.8 L261.2 1031.8 L270.3 1028.0 L279.8 1024.2 L289.7 1020.5 L300.1 1017.0 L312.2 1016.6 L324.1 1016.5 L335.8 1016.5 L347.4 1016.8 L358.9 1017.3 L370.4 1018.0 L381.7 1019.0 L393.1 1020.2 L404.4 1021.5 L415.8 1023.2 L427.1 1025.0 L438.6 1027.1 L450.2 1029.4 L461.9 1031.9 L473.6 1034.8 L479.6 1041.2 L485.2 1047.5 L490.4 1053.6 L495.1 1059.7 L499.5 1065.7 L503.5 1071.6 L507.0 1077.6 L510.2 1083.6 L512.9 1089.6 L515.3 1095.6 L517.2 1101.7 L518.7 1107.8Z" fill="#b6b6b6"/>
<path d="M516.6 1117.0 L517.2 1123.2 L517.4 1129.3 L517.1 1135.6 L514.4 1141.6 L509.5 1147.3 L504.3 1152.7 L498.8 1158.1 L493.0 1163.2 L486.8 1168.2 L480.3 1173.0 L473.4 1177.7 L466.2 1182.3 L458.6 1186.7 L450.7 1190.9 L442.4 1195.1 L433.7 1199.1 L424.7 1203.0 L415.3 1206.9 L405.4 1210.7 L395.1 1214.5 L383.8 1217.2 L371.5 1216.7 L359.4 1216.1 L347.6 1215.3 L336.0 1214.3 L324.6 1213.0 L313.4 1211.6 L302.4 1209.9 L291.5 1208.0 L280.7 1205.9 L270.1 1203.5 L259.6 1200.9 L249.2 1198.0 L238.9 1195.0 L228.6 1191.7 L219.3 1187.6 L213.9 1181.6 L208.8 1175.6 L204.1 1169.8 L199.8 1164.0 L196.0 1158.2 L192.6 1152.4 L189.6 1146.6 L187.0 1140.7 L184.9 1134.8 L183.2 1128.9 L182.0 1123.0 L181.2 1117.0 L180.8 1111.0 L180.9 1105.0 L181.3 1098.9 L182.2 1092.7 L185.5 1086.8 L191.0 1081.4 L196.8 1076.1 L202.9 1071.1 L209.3 1066.2 L216.0 1061.5 L223.0 1056.9 L230.3 1052.5 L238.0 1048.3 L246.0 1044.2 L254.4 1040.3 L263.1 1036.6 L272.2 1032.9 L281.6 1029.4 L291.4 1026.0 L301.6 1022.7 L313.3 1022.2 L324.8 1021.9 L336.3 1021.9 L347.6 1022.1 L358.9 1022.6 L370.0 1023.3 L381.2 1024.2 L392.2 1025.4 L403.3 1026.8 L414.3 1028.5 L425.3 1030.4 L436.3 1032.5 L447.4 1034.9 L458.6 1037.5 L469.7 1040.4 L475.9 1046.5 L481.6 1052.4 L486.9 1058.2 L491.8 1064.0 L496.3 1069.8 L500.4 1075.6 L504.0 1081.4 L507.2 1087.3 L509.9 1093.1 L512.2 1099.0 L514.1 1105.0 L515.6 1111.0Z" fill="#a7a7a7"/>
<path d="M513.2 1120.1 L513.6 1126.1 L513.7 1132.1 L513.2 1138.2 L510.6 1144.1 L506.0 1149.7 L501.1 1155.1 L495.8 1160.3 L490.2 1165.4 L484.2 1170.3 L477.8 1175.0 L471.1 1179.6 L464.0 1184.0 L456.5 1188.3 L448.7 1192.4 L440.5 1196.4 L431.9 1200.2 L423.0 1203.9 L413.6 1207.5 L403.9 1211.0 L393.8 1214.5 L382.8 1217.0 L370.9 1216.7 L359.3 1216.3 L347.8 1215.6 L336.5 1214.7 L325.4 1213.6 L314.5 1212.2 L303.7 1210.6 L293.1 1208.8 L282.6 1206.7 L272.3 1204.3 L262.1 1201.8 L252.1 1198.9 L242.1 1195.9 L232.3 1192.6 L223.4 1188.5 L217.8 1182.9 L212.5 1177.2 L207.7 1171.6 L203.3 1166.0 L199.4 1160.4 L195.9 1154.7 L192.9 1149.1 L190.3 1143.3 L188.2 1137.6 L186.5 1131.8 L185.3 1126.0 L184.6 1120.1 L184.3 1114.2 L184.5 1108.3 L185.1 1102.3 L186.2 1096.3 L189.4 1090.6 L194.6 1085.2 L200.1 1080.1 L205.9 1075.1 L212.1 1070.3 L218.6 1065.6 L225.5 1061.2 L232.7 1056.8 L240.3 1052.7 L248.2 1048.8 L256.5 1045.0 L265.1 1041.4 L274.1 1037.9 L283.4 1034.6 L293.0 1031.4 L303.1 1028.4 L314.4 1027.8 L325.6 1027.4 L336.7 1027.3 L347.8 1027.5 L358.8 1027.9 L369.7 1028.6 L380.6 1029.5 L391.4 1030.7 L402.1 1032.1 L412.8 1033.8 L423.5 1035.7 L434.1 1037.9 L444.7 1040.3 L455.4 1043.0 L466.0 1046.0 L472.2 1051.7 L478.1 1057.3 L483.5 1062.9 L488.5 1068.4 L493.0 1074.0 L497.2 1079.6 L500.8 1085.3 L504.0 1091.0 L506.8 1096.7 L509.1 1102.5 L510.9 1108.3 L512.3 1114.2Z" fill="#979797"/>
<path d="M509.7 1123.2 L510.0 1129.1 L509.9 1134.9 L509.3 1140.9 L506.7 1146.6 L502.4 1152.1 L497.8 1157.3 L492.7 1162.5 L487.3 1167.5 L481.5 1172.3 L475.3 1176.9 L468.7 1181.4 L461.7 1185.7 L454.3 1189.9 L446.6 1193.9 L438.5 1197.7 L430.0 1201.3 L421.2 1204.8 L412.0 1208.2 L402.4 1211.4 L392.5 1214.6 L381.9 1216.9 L370.4 1216.8 L359.1 1216.5 L348.0 1215.9 L337.0 1215.1 L326.2 1214.1 L315.6 1212.8 L305.1 1211.3 L294.7 1209.5 L284.5 1207.5 L274.5 1205.2 L264.7 1202.6 L254.9 1199.8 L245.4 1196.8 L236.0 1193.5 L227.4 1189.5 L221.7 1184.2 L216.3 1178.8 L211.4 1173.4 L207.0 1168.0 L203.0 1162.6 L199.4 1157.1 L196.3 1151.5 L193.7 1146.0 L191.6 1140.3 L190.0 1134.7 L188.8 1129.0 L188.2 1123.2 L188.0 1117.5 L188.3 1111.7 L189.1 1105.8 L190.3 1100.0 L193.4 1094.4 L198.3 1089.1 L203.6 1084.0 L209.2 1079.1 L215.1 1074.4 L221.5 1069.8 L228.2 1065.4 L235.3 1061.2 L242.7 1057.2 L250.5 1053.4 L258.7 1049.7 L267.2 1046.2 L276.0 1042.9 L285.2 1039.8 L294.7 1036.8 L304.5 1034.0 L315.5 1033.4 L326.4 1032.9 L337.2 1032.8 L348.0 1032.9 L358.7 1033.3 L369.4 1033.9 L380.0 1034.8 L390.5 1036.0 L400.9 1037.4 L411.3 1039.1 L421.6 1041.1 L431.9 1043.3 L442.1 1045.8 L452.3 1048.5 L462.3 1051.6 L468.6 1056.9 L474.5 1062.2 L480.0 1067.5 L485.1 1072.8 L489.7 1078.2 L493.9 1083.7 L497.5 1089.2 L500.8 1094.7 L503.5 1100.3 L505.8 1106.0 L507.6 1111.7 L508.8 1117.4Z" fill="#888888"/>
<path d="M506.0 1126.3 L506.2 1132.0 L506.0 1137.7 L505.2 1143.5 L502.8 1149.1 L498.7 1154.4 L494.3 1159.6 L489.5 1164.6 L484.3 1169.5 L478.6 1174.2 L472.6 1178.8 L466.1 1183.2 L459.2 1187.4 L452.0 1191.4 L444.4 1195.3 L436.4 1198.9 L428.1 1202.4 L419.4 1205.7 L410.4 1208.9 L401.0 1211.9 L391.3 1214.7 L380.9 1216.8 L369.9 1216.9 L359.0 1216.7 L348.2 1216.3 L337.6 1215.6 L327.1 1214.7 L316.7 1213.5 L306.5 1212.0 L296.4 1210.3 L286.5 1208.3 L276.8 1206.0 L267.2 1203.5 L257.8 1200.7 L248.6 1197.7 L239.6 1194.4 L231.4 1190.6 L225.6 1185.5 L220.2 1180.3 L215.2 1175.2 L210.7 1170.0 L206.6 1164.7 L203.1 1159.4 L200.0 1154.0 L197.4 1148.5 L195.2 1143.0 L193.6 1137.5 L192.5 1131.9 L191.9 1126.3 L191.8 1120.7 L192.2 1115.0 L193.1 1109.3 L194.5 1103.7 L197.5 1098.2 L202.1 1093.0 L207.1 1088.0 L212.5 1083.2 L218.3 1078.6 L224.5 1074.1 L231.0 1069.8 L237.9 1065.7 L245.3 1061.7 L252.9 1058.0 L260.9 1054.5 L269.3 1051.2 L278.0 1048.0 L287.0 1045.1 L296.3 1042.3 L306.0 1039.7 L316.6 1039.0 L327.2 1038.5 L337.7 1038.3 L348.2 1038.3 L358.6 1038.7 L369.0 1039.3 L379.3 1040.2 L389.6 1041.4 L399.7 1042.8 L409.8 1044.5 L419.8 1046.5 L429.6 1048.7 L439.4 1051.2 L449.1 1054.0 L458.7 1057.0 L465.0 1062.0 L471.0 1067.1 L476.5 1072.1 L481.6 1077.3 L486.3 1082.5 L490.4 1087.7 L494.1 1093.1 L497.4 1098.5 L500.1 1103.9 L502.3 1109.5 L504.0 1115.0 L505.3 1120.6Z" fill="#797979"/>
<path d="M502.2 1129.4 L502.3 1134.9 L502.0 1140.5 L501.1 1146.1 L498.7 1151.6 L495.0 1156.8 L490.8 1161.8 L486.1 1166.8 L481.1 1171.5 L475.6 1176.2 L469.7 1180.6 L463.4 1184.9 L456.7 1189.0 L449.6 1192.9 L442.1 1196.6 L434.3 1200.1 L426.1 1203.4 L417.6 1206.6 L408.7 1209.5 L399.6 1212.3 L390.0 1214.9 L380.0 1216.8 L369.4 1217.0 L358.8 1216.9 L348.4 1216.6 L338.1 1216.0 L327.9 1215.2 L317.8 1214.0 L307.9 1212.6 L298.1 1210.9 L288.5 1209.0 L279.0 1206.8 L269.8 1204.3 L260.7 1201.6 L251.9 1198.6 L243.3 1195.3 L235.3 1191.6 L229.5 1186.8 L224.0 1181.9 L219.0 1176.9 L214.5 1171.9 L210.4 1166.8 L206.9 1161.6 L203.8 1156.4 L201.2 1151.1 L199.1 1145.7 L197.5 1140.3 L196.4 1134.9 L195.9 1129.4 L195.8 1123.9 L196.3 1118.4 L197.3 1112.9 L198.8 1107.4 L201.7 1102.0 L206.1 1097.0 L210.8 1092.1 L216.0 1087.4 L221.6 1082.8 L227.6 1078.4 L234.0 1074.2 L240.8 1070.2 L247.9 1066.4 L255.4 1062.8 L263.3 1059.4 L271.5 1056.1 L280.0 1053.2 L288.9 1050.4 L298.0 1047.8 L307.5 1045.4 L317.7 1044.6 L328.0 1044.1 L338.2 1043.8 L348.4 1043.8 L358.6 1044.1 L368.7 1044.7 L378.7 1045.6 L388.7 1046.8 L398.5 1048.2 L408.3 1049.9 L417.9 1051.9 L427.4 1054.1 L436.8 1056.6 L446.1 1059.4 L455.1 1062.5 L461.5 1067.2 L467.5 1072.0 L473.0 1076.8 L478.1 1081.7 L482.8 1086.7 L486.9 1091.8 L490.6 1097.0 L493.8 1102.3 L496.5 1107.6 L498.7 1113.0 L500.4 1118.4 L501.5 1123.9Z" fill="#696969"/>
<path d="M498.2 1132.5 L498.3 1137.9 L497.8 1143.3 L496.9 1148.7 L494.6 1154.0 L491.0 1159.1 L487.1 1164.0 L482.6 1168.8 L477.8 1173.5 L472.5 1178.0 L466.7 1182.4 L460.6 1186.5 L454.0 1190.5 L447.1 1194.3 L439.8 1197.8 L432.1 1201.2 L424.1 1204.4 L415.7 1207.4 L407.1 1210.1 L398.1 1212.7 L388.8 1215.1 L379.1 1216.8 L368.9 1217.1 L358.7 1217.2 L348.6 1216.9 L338.6 1216.4 L328.7 1215.6 L318.9 1214.6 L309.3 1213.2 L299.8 1211.6 L290.4 1209.7 L281.3 1207.5 L272.4 1205.1 L263.6 1202.4 L255.1 1199.5 L246.9 1196.3 L239.2 1192.6 L233.4 1188.1 L228.0 1183.4 L223.0 1178.7 L218.4 1173.8 L214.4 1168.9 L210.8 1163.9 L207.7 1158.8 L205.1 1153.6 L203.1 1148.4 L201.5 1143.1 L200.5 1137.8 L200.0 1132.5 L200.0 1127.1 L200.6 1121.8 L201.6 1116.4 L203.2 1111.1 L206.1 1105.9 L210.2 1101.0 L214.7 1096.2 L219.7 1091.5 L225.1 1087.1 L230.9 1082.8 L237.1 1078.7 L243.7 1074.8 L250.7 1071.1 L258.0 1067.6 L265.7 1064.3 L273.8 1061.2 L282.1 1058.4 L290.8 1055.7 L299.7 1053.3 L309.0 1051.1 L318.9 1050.3 L328.8 1049.7 L338.7 1049.4 L348.6 1049.4 L358.5 1049.7 L368.3 1050.2 L378.0 1051.1 L387.7 1052.2 L397.3 1053.7 L406.7 1055.4 L416.0 1057.3 L425.1 1059.6 L434.1 1062.1 L443.0 1064.8 L451.6 1067.9 L458.0 1072.3 L463.9 1076.9 L469.4 1081.5 L474.5 1086.2 L479.1 1091.0 L483.3 1096.0 L486.9 1101.0 L490.1 1106.1 L492.8 1111.2 L494.9 1116.5 L496.5 1121.8 L497.6 1127.1Z" fill="#5a5a5a"/>
<path d="M494.1 1135.6 L494.1 1140.8 L493.6 1146.1 L492.6 1151.3 L490.3 1156.4 L487.0 1161.4 L483.2 1166.2 L479.0 1170.9 L474.3 1175.4 L469.2 1179.8 L463.6 1184.0 L457.6 1188.1 L451.3 1191.9 L444.5 1195.6 L437.3 1199.0 L429.8 1202.3 L422.0 1205.3 L413.8 1208.1 L405.4 1210.7 L396.6 1213.1 L387.6 1215.3 L378.2 1216.9 L368.4 1217.3 L358.6 1217.4 L348.8 1217.2 L339.1 1216.8 L329.5 1216.1 L320.1 1215.1 L310.7 1213.8 L301.5 1212.2 L292.5 1210.4 L283.6 1208.3 L275.0 1205.9 L266.6 1203.2 L258.4 1200.4 L250.5 1197.2 L243.2 1193.7 L237.4 1189.3 L232.0 1184.9 L227.0 1180.3 L222.5 1175.7 L218.5 1170.9 L214.9 1166.1 L211.9 1161.1 L209.3 1156.1 L207.3 1151.1 L205.8 1145.9 L204.8 1140.8 L204.3 1135.6 L204.4 1130.4 L205.0 1125.2 L206.1 1120.0 L207.7 1114.8 L210.5 1109.8 L214.4 1105.0 L218.7 1100.3 L223.5 1095.8 L228.7 1091.4 L234.3 1087.3 L240.3 1083.3 L246.8 1079.5 L253.6 1075.9 L260.8 1072.5 L268.3 1069.3 L276.1 1066.4 L284.3 1063.6 L292.7 1061.2 L301.5 1058.9 L310.5 1056.9 L320.0 1056.0 L329.6 1055.4 L339.2 1055.0 L348.8 1055.0 L358.4 1055.3 L367.9 1055.8 L377.3 1056.6 L386.7 1057.8 L396.0 1059.2 L405.1 1060.9 L414.0 1062.8 L422.8 1065.0 L431.5 1067.5 L439.9 1070.3 L448.1 1073.3 L454.4 1077.5 L460.3 1081.8 L465.8 1086.2 L470.8 1090.7 L475.4 1095.4 L479.5 1100.1 L483.1 1105.0 L486.3 1109.9 L488.9 1114.9 L491.0 1120.0 L492.5 1125.2 L493.6 1130.4Z" fill="#4c4c4c"/>
<path d="M489.8 1138.7 L489.8 1143.7 L489.2 1148.8 L488.1 1153.9 L486.0 1158.9 L482.8 1163.7 L479.3 1168.3 L475.2 1172.9 L470.7 1177.3 L465.7 1181.6 L460.4 1185.7 L454.6 1189.6 L448.3 1193.3 L441.8 1196.8 L434.8 1200.2 L427.5 1203.3 L419.8 1206.2 L411.9 1208.8 L403.7 1211.3 L395.2 1213.5 L386.4 1215.5 L377.3 1217.0 L367.9 1217.4 L358.4 1217.6 L349.0 1217.5 L339.7 1217.1 L330.4 1216.5 L321.2 1215.5 L312.2 1214.3 L303.3 1212.8 L294.5 1211.0 L286.0 1208.9 L277.7 1206.6 L269.6 1204.0 L261.7 1201.2 L254.2 1198.1 L247.1 1194.7 L241.4 1190.6 L236.0 1186.3 L231.1 1182.0 L226.7 1177.5 L222.7 1172.9 L219.2 1168.2 L216.2 1163.5 L213.7 1158.6 L211.7 1153.7 L210.2 1148.7 L209.3 1143.7 L208.8 1138.7 L209.0 1133.6 L209.6 1128.6 L210.7 1123.5 L212.4 1118.5 L215.1 1113.7 L218.8 1109.0 L222.9 1104.5 L227.5 1100.1 L232.5 1095.8 L237.9 1091.8 L243.8 1087.9 L250.0 1084.2 L256.6 1080.7 L263.6 1077.5 L270.9 1074.4 L278.6 1071.6 L286.5 1069.0 L294.8 1066.6 L303.2 1064.5 L312.0 1062.6 L321.2 1061.7 L330.4 1061.1 L339.7 1060.8 L349.0 1060.7 L358.3 1060.9 L367.5 1061.5 L376.6 1062.3 L385.7 1063.4 L394.6 1064.7 L403.4 1066.4 L412.1 1068.3 L420.5 1070.5 L428.8 1073.0 L436.9 1075.7 L444.7 1078.7 L450.9 1082.6 L456.7 1086.7 L462.1 1090.9 L467.1 1095.3 L471.6 1099.7 L475.6 1104.3 L479.2 1109.0 L482.2 1113.8 L484.8 1118.7 L486.8 1123.6 L488.4 1128.6 L489.4 1133.6Z" fill="#414343"/>
<path d="M485.4 1141.8 L485.3 1146.7 L484.6 1151.6 L483.5 1156.5 L481.4 1161.2 L478.5 1165.9 L475.1 1170.4 L471.2 1174.9 L466.9 1179.1 L462.1 1183.3 L456.9 1187.2 L451.3 1191.0 L445.3 1194.6 L438.9 1198.0 L432.1 1201.2 L425.0 1204.2 L417.6 1206.9 L409.9 1209.5 L401.9 1211.8 L393.7 1213.8 L385.2 1215.7 L376.4 1217.0 L367.3 1217.5 L358.3 1217.8 L349.2 1217.7 L340.2 1217.4 L331.2 1216.8 L322.4 1215.9 L313.7 1214.7 L305.1 1213.3 L296.6 1211.5 L288.4 1209.6 L280.4 1207.3 L272.6 1204.8 L265.1 1202.0 L257.9 1199.0 L251.1 1195.7 L245.5 1191.8 L240.2 1187.8 L235.4 1183.6 L231.0 1179.3 L227.1 1174.9 L223.6 1170.4 L220.7 1165.8 L218.2 1161.1 L216.3 1156.3 L214.9 1151.5 L214.0 1146.6 L213.6 1141.8 L213.7 1136.9 L214.4 1132.0 L215.6 1127.1 L217.2 1122.3 L219.8 1117.6 L223.3 1113.1 L227.2 1108.7 L231.6 1104.4 L236.4 1100.3 L241.7 1096.4 L247.3 1092.6 L253.4 1089.1 L259.8 1085.7 L266.6 1082.5 L273.7 1079.6 L281.1 1076.9 L288.8 1074.4 L296.8 1072.2 L305.0 1070.2 L313.5 1068.5 L322.4 1067.5 L331.3 1066.9 L340.2 1066.5 L349.2 1066.5 L358.1 1066.7 L367.1 1067.2 L375.9 1068.0 L384.6 1069.0 L393.2 1070.4 L401.7 1072.0 L410.0 1073.9 L418.2 1076.1 L426.1 1078.5 L433.8 1081.1 L441.2 1084.1 L447.3 1087.8 L453.0 1091.7 L458.3 1095.7 L463.2 1099.9 L467.6 1104.2 L471.6 1108.6 L475.0 1113.1 L478.0 1117.7 L480.5 1122.4 L482.5 1127.2 L484.0 1132.0 L484.9 1136.9Z" fill="#3f4646"/>
<path d="M480.7 1144.8 L480.6 1149.6 L479.9 1154.3 L478.8 1159.0 L476.8 1163.6 L474.0 1168.1 L470.8 1172.5 L467.1 1176.8 L462.9 1180.9 L458.4 1184.9 L453.3 1188.7 L447.9 1192.4 L442.1 1195.8 L435.9 1199.1 L429.4 1202.2 L422.5 1205.0 L415.3 1207.6 L407.8 1210.0 L400.1 1212.2 L392.2 1214.1 L384.0 1215.8 L375.5 1217.1 L366.8 1217.6 L358.1 1217.9 L349.4 1217.9 L340.7 1217.6 L332.1 1217.0 L323.6 1216.2 L315.2 1215.1 L306.9 1213.7 L298.8 1212.0 L290.9 1210.1 L283.2 1207.9 L275.7 1205.5 L268.5 1202.8 L261.6 1199.9 L255.2 1196.7 L249.6 1193.0 L244.5 1189.1 L239.8 1185.1 L235.5 1181.0 L231.6 1176.8 L228.3 1172.4 L225.4 1168.0 L223.0 1163.5 L221.1 1158.9 L219.7 1154.2 L218.9 1149.6 L218.5 1144.8 L218.7 1140.1 L219.4 1135.4 L220.5 1130.7 L222.2 1126.1 L224.7 1121.6 L228.0 1117.2 L231.8 1112.9 L236.0 1108.8 L240.6 1104.9 L245.6 1101.0 L251.1 1097.4 L256.9 1094.0 L263.1 1090.7 L269.7 1087.7 L276.6 1084.9 L283.8 1082.3 L291.2 1080.0 L298.9 1077.8 L306.9 1076.0 L315.1 1074.4 L323.6 1073.4 L332.2 1072.8 L340.8 1072.4 L349.4 1072.3 L358.0 1072.5 L366.6 1073.0 L375.1 1073.8 L383.5 1074.8 L391.8 1076.1 L400.0 1077.7 L407.9 1079.6 L415.7 1081.7 L423.3 1084.0 L430.6 1086.6 L437.7 1089.5 L443.6 1093.0 L449.2 1096.7 L454.4 1100.5 L459.2 1104.5 L463.5 1108.6 L467.3 1112.9 L470.7 1117.2 L473.7 1121.6 L476.1 1126.2 L478.0 1130.8 L479.4 1135.4 L480.3 1140.1Z" fill="#3d4f4e"/>
<path d="M475.8 1147.9 L475.7 1152.5 L475.0 1157.0 L473.8 1161.5 L471.9 1166.0 L469.3 1170.3 L466.3 1174.5 L462.8 1178.6 L458.8 1182.6 L454.4 1186.4 L449.6 1190.1 L444.3 1193.6 L438.7 1197.0 L432.8 1200.1 L426.5 1203.0 L419.8 1205.7 L412.9 1208.2 L405.7 1210.5 L398.3 1212.5 L390.6 1214.3 L382.7 1215.9 L374.6 1217.1 L366.3 1217.7 L357.9 1218.0 L349.6 1218.0 L341.3 1217.7 L333.0 1217.2 L324.8 1216.4 L316.8 1215.4 L308.8 1214.0 L301.0 1212.4 L293.4 1210.6 L286.1 1208.5 L278.9 1206.1 L272.1 1203.5 L265.5 1200.7 L259.3 1197.6 L253.9 1194.1 L248.9 1190.4 L244.3 1186.6 L240.1 1182.7 L236.4 1178.6 L233.1 1174.5 L230.3 1170.2 L228.0 1165.9 L226.2 1161.4 L224.8 1157.0 L224.0 1152.5 L223.7 1147.9 L223.9 1143.4 L224.6 1138.9 L225.7 1134.4 L227.4 1129.9 L229.8 1125.6 L232.9 1121.4 L236.5 1117.3 L240.5 1113.3 L244.9 1109.5 L249.8 1105.8 L255.0 1102.3 L260.6 1099.0 L266.6 1095.9 L272.9 1093.0 L279.6 1090.3 L286.5 1087.8 L293.7 1085.6 L301.1 1083.6 L308.8 1081.8 L316.7 1080.3 L324.8 1079.4 L333.0 1078.8 L341.3 1078.4 L349.6 1078.3 L357.9 1078.5 L366.1 1078.9 L374.3 1079.6 L382.4 1080.7 L390.3 1081.9 L398.1 1083.5 L405.8 1085.3 L413.2 1087.3 L420.4 1089.6 L427.4 1092.2 L434.1 1094.9 L439.9 1098.3 L445.3 1101.8 L450.4 1105.4 L455.0 1109.2 L459.2 1113.1 L462.9 1117.2 L466.2 1121.4 L469.1 1125.6 L471.4 1130.0 L473.3 1134.4 L474.6 1138.9 L475.5 1143.4Z" fill="#3c5c5a"/>
<path d="M470.7 1151.0 L470.5 1155.4 L469.9 1159.7 L468.7 1164.0 L466.9 1168.3 L464.5 1172.4 L461.6 1176.5 L458.2 1180.4 L454.4 1184.2 L450.2 1187.9 L445.6 1191.5 L440.6 1194.8 L435.2 1198.0 L429.5 1201.0 L423.4 1203.8 L417.1 1206.4 L410.4 1208.7 L403.5 1210.9 L396.3 1212.8 L389.0 1214.5 L381.4 1215.9 L373.7 1217.0 L365.7 1217.6 L357.8 1217.9 L349.8 1218.0 L341.8 1217.8 L333.9 1217.3 L326.1 1216.5 L318.4 1215.5 L310.8 1214.3 L303.3 1212.7 L296.1 1210.9 L289.0 1208.9 L282.2 1206.6 L275.7 1204.1 L269.4 1201.4 L263.5 1198.5 L258.3 1195.2 L253.5 1191.7 L249.0 1188.1 L245.0 1184.3 L241.4 1180.4 L238.2 1176.4 L235.5 1172.4 L233.2 1168.2 L231.5 1164.0 L230.2 1159.7 L229.4 1155.4 L229.1 1151.0 L229.3 1146.7 L230.0 1142.3 L231.2 1138.0 L232.8 1133.8 L235.1 1129.6 L238.1 1125.6 L241.4 1121.6 L245.2 1117.8 L249.5 1114.1 L254.1 1110.6 L259.1 1107.3 L264.5 1104.1 L270.2 1101.1 L276.3 1098.3 L282.7 1095.8 L289.3 1093.4 L296.3 1091.3 L303.4 1089.4 L310.8 1087.8 L318.3 1086.4 L326.1 1085.5 L334.0 1084.8 L341.9 1084.5 L349.8 1084.4 L357.7 1084.5 L365.6 1085.0 L373.4 1085.7 L381.2 1086.6 L388.8 1087.9 L396.2 1089.3 L403.5 1091.1 L410.6 1093.1 L417.5 1095.3 L424.1 1097.8 L430.5 1100.4 L436.1 1103.6 L441.3 1106.9 L446.2 1110.3 L450.7 1114.0 L454.7 1117.7 L458.3 1121.6 L461.5 1125.6 L464.2 1129.7 L466.5 1133.8 L468.3 1138.1 L469.6 1142.3 L470.4 1146.7Z" fill="#3f6764"/>
<path d="M465.3 1154.1 L465.1 1158.3 L464.5 1162.4 L463.3 1166.5 L461.6 1170.6 L459.3 1174.5 L456.6 1178.4 L453.4 1182.2 L449.8 1185.8 L445.8 1189.3 L441.4 1192.7 L436.6 1195.9 L431.5 1198.9 L426.0 1201.8 L420.2 1204.4 L414.1 1206.9 L407.8 1209.1 L401.2 1211.2 L394.3 1213.0 L387.3 1214.5 L380.1 1215.9 L372.7 1216.9 L365.2 1217.5 L357.6 1217.8 L350.0 1217.9 L342.4 1217.7 L334.9 1217.2 L327.4 1216.5 L320.1 1215.6 L312.8 1214.4 L305.7 1212.9 L298.8 1211.2 L292.1 1209.3 L285.6 1207.1 L279.4 1204.7 L273.5 1202.1 L267.9 1199.3 L262.9 1196.1 L258.2 1192.9 L253.9 1189.4 L250.0 1185.9 L246.6 1182.2 L243.5 1178.4 L240.9 1174.5 L238.8 1170.5 L237.1 1166.5 L235.9 1162.4 L235.1 1158.3 L234.8 1154.1 L235.0 1150.0 L235.7 1145.8 L236.9 1141.7 L238.5 1137.7 L240.7 1133.7 L243.4 1129.8 L246.6 1126.1 L250.2 1122.4 L254.2 1118.9 L258.7 1115.6 L263.4 1112.4 L268.6 1109.3 L274.1 1106.5 L279.9 1103.8 L286.0 1101.4 L292.3 1099.2 L298.9 1097.2 L305.8 1095.4 L312.8 1093.9 L320.0 1092.6 L327.4 1091.7 L334.9 1091.0 L342.4 1090.7 L350.0 1090.6 L357.6 1090.7 L365.1 1091.1 L372.5 1091.8 L379.9 1092.7 L387.2 1093.9 L394.3 1095.3 L401.2 1097.0 L407.9 1098.9 L414.4 1101.1 L420.7 1103.4 L426.7 1106.0 L432.1 1109.0 L437.1 1112.1 L441.8 1115.4 L446.1 1118.8 L450.0 1122.3 L453.5 1126.0 L456.6 1129.8 L459.2 1133.7 L461.3 1137.7 L463.0 1141.7 L464.3 1145.8 L465.0 1150.0Z" fill="#43726e"/>
<path d="M459.6 1157.2 L459.5 1161.1 L458.8 1165.1 L457.7 1169.0 L456.1 1172.8 L453.9 1176.6 L451.3 1180.2 L448.3 1183.8 L444.9 1187.3 L441.1 1190.6 L437.0 1193.8 L432.4 1196.9 L427.6 1199.7 L422.3 1202.4 L416.8 1205.0 L411.0 1207.3 L405.0 1209.4 L398.7 1211.3 L392.2 1213.0 L385.5 1214.4 L378.7 1215.7 L371.7 1216.6 L364.6 1217.2 L357.4 1217.5 L350.2 1217.6 L343.0 1217.5 L335.9 1217.0 L328.8 1216.4 L321.8 1215.5 L314.9 1214.3 L308.2 1212.9 L301.7 1211.3 L295.3 1209.5 L289.2 1207.4 L283.3 1205.1 L277.7 1202.7 L272.4 1200.0 L267.6 1197.0 L263.2 1193.9 L259.1 1190.7 L255.4 1187.3 L252.0 1183.8 L249.1 1180.2 L246.7 1176.5 L244.6 1172.8 L243.0 1168.9 L241.8 1165.0 L241.1 1161.1 L240.9 1157.2 L241.1 1153.3 L241.7 1149.3 L242.8 1145.5 L244.4 1141.6 L246.5 1137.8 L249.1 1134.2 L252.1 1130.6 L255.5 1127.1 L259.3 1123.8 L263.5 1120.6 L268.0 1117.6 L272.9 1114.7 L278.1 1112.0 L283.6 1109.5 L289.4 1107.2 L295.5 1105.1 L301.8 1103.2 L308.3 1101.5 L314.9 1100.1 L321.8 1098.9 L328.8 1098.0 L335.9 1097.4 L343.0 1097.0 L350.2 1096.9 L357.4 1097.1 L364.5 1097.4 L371.6 1098.1 L378.6 1099.0 L385.4 1100.1 L392.2 1101.5 L398.7 1103.1 L405.1 1104.9 L411.3 1106.9 L417.2 1109.2 L422.8 1111.6 L428.0 1114.4 L432.8 1117.4 L437.3 1120.5 L441.4 1123.7 L445.1 1127.1 L448.4 1130.6 L451.3 1134.2 L453.8 1137.9 L455.9 1141.6 L457.5 1145.5 L458.7 1149.3 L459.4 1153.3Z" fill="#467b77"/>
<path d="M453.6 1160.3 L453.4 1164.0 L452.8 1167.7 L451.7 1171.4 L450.2 1175.0 L448.2 1178.5 L445.8 1182.0 L443.0 1185.4 L439.8 1188.7 L436.2 1191.8 L432.2 1194.8 L428.0 1197.7 L423.4 1200.4 L418.4 1203.0 L413.2 1205.3 L407.8 1207.5 L402.1 1209.5 L396.1 1211.3 L390.0 1212.8 L383.7 1214.2 L377.2 1215.3 L370.6 1216.2 L363.9 1216.8 L357.2 1217.1 L350.4 1217.2 L343.6 1217.1 L336.9 1216.7 L330.2 1216.1 L323.6 1215.2 L317.2 1214.1 L310.8 1212.8 L304.7 1211.3 L298.7 1209.5 L292.9 1207.6 L287.4 1205.4 L282.1 1203.1 L277.2 1200.6 L272.6 1197.8 L268.4 1194.9 L264.5 1191.9 L261.0 1188.7 L257.8 1185.4 L255.1 1182.0 L252.7 1178.5 L250.8 1175.0 L249.3 1171.4 L248.2 1167.7 L247.5 1164.0 L247.3 1160.3 L247.5 1156.6 L248.1 1152.9 L249.2 1149.2 L250.6 1145.6 L252.6 1142.0 L255.0 1138.6 L257.9 1135.2 L261.1 1131.9 L264.6 1128.8 L268.6 1125.8 L272.9 1122.9 L277.5 1120.2 L282.4 1117.6 L287.6 1115.3 L293.1 1113.1 L298.8 1111.1 L304.7 1109.4 L310.9 1107.8 L317.2 1106.4 L323.6 1105.3 L330.2 1104.5 L336.9 1103.9 L343.6 1103.6 L350.4 1103.5 L357.2 1103.6 L363.9 1104.0 L370.6 1104.6 L377.1 1105.4 L383.6 1106.5 L390.0 1107.8 L396.1 1109.3 L402.1 1111.0 L407.9 1112.9 L413.5 1115.1 L418.8 1117.4 L423.6 1120.0 L428.2 1122.8 L432.4 1125.7 L436.3 1128.7 L439.9 1131.9 L443.0 1135.2 L445.8 1138.6 L448.1 1142.0 L450.1 1145.6 L451.6 1149.2 L452.7 1152.9 L453.4 1156.6Z" fill="#48837f"/>
<path d="M447.2 1163.4 L447.0 1166.9 L446.4 1170.3 L445.4 1173.7 L443.9 1177.1 L442.1 1180.5 L439.8 1183.7 L437.2 1186.9 L434.2 1189.9 L430.9 1192.9 L427.2 1195.7 L423.2 1198.4 L418.9 1200.9 L414.3 1203.3 L409.4 1205.5 L404.3 1207.6 L398.9 1209.4 L393.4 1211.1 L387.6 1212.5 L381.7 1213.8 L375.7 1214.8 L369.5 1215.6 L363.2 1216.2 L356.9 1216.5 L350.6 1216.6 L344.3 1216.5 L338.0 1216.1 L331.7 1215.5 L325.6 1214.7 L319.5 1213.7 L313.6 1212.5 L307.8 1211.1 L302.3 1209.4 L296.9 1207.6 L291.7 1205.6 L286.8 1203.4 L282.2 1201.0 L277.9 1198.5 L273.9 1195.7 L270.3 1192.9 L266.9 1189.9 L264.0 1186.9 L261.4 1183.7 L259.2 1180.4 L257.4 1177.1 L255.9 1173.7 L254.9 1170.3 L254.3 1166.8 L254.1 1163.4 L254.3 1159.9 L254.9 1156.4 L255.9 1153.0 L257.3 1149.6 L259.1 1146.3 L261.4 1143.1 L264.0 1139.9 L267.0 1136.8 L270.3 1133.9 L274.0 1131.1 L278.0 1128.4 L282.4 1125.8 L287.0 1123.5 L291.8 1121.3 L297.0 1119.2 L302.3 1117.4 L307.9 1115.7 L313.6 1114.3 L319.5 1113.0 L325.6 1112.0 L331.7 1111.2 L338.0 1110.7 L344.3 1110.3 L350.6 1110.2 L356.9 1110.3 L363.2 1110.7 L369.5 1111.3 L375.6 1112.0 L381.7 1113.0 L387.6 1114.3 L393.4 1115.7 L399.0 1117.3 L404.4 1119.1 L409.5 1121.1 L414.5 1123.3 L419.0 1125.7 L423.3 1128.3 L427.3 1131.0 L431.0 1133.8 L434.3 1136.8 L437.2 1139.9 L439.8 1143.1 L442.0 1146.3 L443.9 1149.6 L445.3 1153.0 L446.3 1156.4 L446.9 1159.9Z" fill="#4a8b87"/>
<path d="M440.2 1166.5 L440.0 1169.7 L439.5 1172.9 L438.5 1176.1 L437.2 1179.2 L435.5 1182.3 L433.4 1185.3 L431.0 1188.2 L428.2 1191.1 L425.1 1193.8 L421.7 1196.4 L418.0 1198.9 L414.0 1201.2 L409.8 1203.4 L405.2 1205.5 L400.5 1207.4 L395.5 1209.1 L390.4 1210.6 L385.1 1211.9 L379.6 1213.1 L374.0 1214.1 L368.3 1214.8 L362.5 1215.3 L356.7 1215.6 L350.8 1215.7 L344.9 1215.6 L339.1 1215.3 L333.3 1214.7 L327.6 1214.0 L322.0 1213.1 L316.6 1211.9 L311.2 1210.6 L306.1 1209.1 L301.1 1207.4 L296.3 1205.5 L291.8 1203.5 L287.5 1201.3 L283.5 1198.9 L279.8 1196.4 L276.4 1193.8 L273.3 1191.1 L270.6 1188.2 L268.2 1185.3 L266.1 1182.3 L264.5 1179.2 L263.1 1176.1 L262.2 1172.9 L261.6 1169.7 L261.4 1166.5 L261.6 1163.3 L262.2 1160.0 L263.1 1156.9 L264.4 1153.7 L266.1 1150.7 L268.2 1147.6 L270.6 1144.7 L273.4 1141.9 L276.5 1139.2 L279.9 1136.5 L283.6 1134.1 L287.6 1131.7 L291.9 1129.5 L296.4 1127.5 L301.1 1125.6 L306.1 1123.9 L311.2 1122.4 L316.6 1121.0 L322.0 1119.9 L327.6 1118.9 L333.3 1118.2 L339.1 1117.7 L344.9 1117.4 L350.8 1117.3 L356.7 1117.4 L362.5 1117.7 L368.3 1118.2 L374.0 1118.9 L379.6 1119.9 L385.0 1121.0 L390.4 1122.3 L395.6 1123.8 L400.5 1125.5 L405.3 1127.4 L409.9 1129.4 L414.1 1131.6 L418.1 1134.0 L421.8 1136.5 L425.2 1139.1 L428.3 1141.9 L431.0 1144.7 L433.4 1147.6 L435.5 1150.7 L437.2 1153.7 L438.5 1156.9 L439.4 1160.0 L440.0 1163.3Z" fill="#4c908b"/>
<path d="M432.6 1169.6 L432.5 1172.5 L432.0 1175.4 L431.1 1178.3 L429.9 1181.2 L428.3 1184.0 L426.4 1186.7 L424.2 1189.4 L421.7 1192.0 L418.9 1194.5 L415.8 1196.9 L412.4 1199.2 L408.7 1201.3 L404.8 1203.3 L400.7 1205.2 L396.4 1206.9 L391.8 1208.4 L387.1 1209.8 L382.3 1211.1 L377.3 1212.1 L372.2 1213.0 L366.9 1213.6 L361.7 1214.1 L356.3 1214.4 L351.0 1214.5 L345.7 1214.4 L340.3 1214.1 L335.1 1213.6 L329.9 1212.9 L324.7 1212.1 L319.7 1211.1 L314.9 1209.8 L310.2 1208.5 L305.6 1206.9 L301.3 1205.2 L297.1 1203.3 L293.2 1201.3 L289.6 1199.2 L286.2 1196.9 L283.1 1194.5 L280.3 1192.0 L277.8 1189.4 L275.6 1186.7 L273.7 1184.0 L272.2 1181.2 L270.9 1178.3 L270.1 1175.4 L269.6 1172.5 L269.4 1169.6 L269.5 1166.6 L270.1 1163.7 L270.9 1160.8 L272.1 1157.9 L273.7 1155.1 L275.6 1152.4 L277.8 1149.7 L280.3 1147.1 L283.1 1144.6 L286.2 1142.2 L289.6 1140.0 L293.3 1137.8 L297.2 1135.8 L301.3 1133.9 L305.6 1132.2 L310.2 1130.7 L314.9 1129.3 L319.8 1128.1 L324.7 1127.0 L329.9 1126.2 L335.1 1125.5 L340.3 1125.0 L345.7 1124.7 L351.0 1124.6 L356.3 1124.7 L361.7 1125.0 L366.9 1125.5 L372.1 1126.2 L377.2 1127.0 L382.3 1128.1 L387.1 1129.3 L391.8 1130.6 L396.4 1132.2 L400.7 1133.9 L404.9 1135.8 L408.8 1137.8 L412.4 1139.9 L415.8 1142.2 L418.9 1144.6 L421.7 1147.1 L424.2 1149.7 L426.4 1152.4 L428.3 1155.1 L429.9 1157.9 L431.1 1160.8 L431.9 1163.7 L432.5 1166.6Z" fill="#4e958f"/>
<path d="M424.2 1172.6 L424.1 1175.3 L423.6 1177.9 L422.8 1180.5 L421.7 1183.0 L420.4 1185.6 L418.7 1188.0 L416.7 1190.4 L414.4 1192.7 L411.9 1195.0 L409.1 1197.1 L406.1 1199.1 L402.8 1201.0 L399.3 1202.8 L395.7 1204.5 L391.8 1206.0 L387.7 1207.4 L383.5 1208.7 L379.2 1209.8 L374.7 1210.7 L370.1 1211.5 L365.5 1212.1 L360.7 1212.5 L356.0 1212.7 L351.2 1212.8 L346.4 1212.7 L341.7 1212.5 L337.0 1212.0 L332.3 1211.4 L327.7 1210.7 L323.2 1209.8 L318.9 1208.7 L314.7 1207.4 L310.6 1206.0 L306.7 1204.5 L303.0 1202.9 L299.5 1201.1 L296.3 1199.1 L293.3 1197.1 L290.5 1195.0 L288.0 1192.7 L285.7 1190.4 L283.7 1188.0 L282.1 1185.6 L280.7 1183.0 L279.6 1180.5 L278.8 1177.9 L278.3 1175.3 L278.2 1172.6 L278.3 1170.0 L278.8 1167.4 L279.6 1164.8 L280.7 1162.2 L282.0 1159.7 L283.7 1157.3 L285.7 1154.9 L288.0 1152.6 L290.5 1150.3 L293.3 1148.2 L296.3 1146.2 L299.6 1144.2 L303.1 1142.5 L306.7 1140.8 L310.6 1139.3 L314.7 1137.9 L318.9 1136.6 L323.3 1135.5 L327.7 1134.6 L332.3 1133.8 L337.0 1133.2 L341.7 1132.8 L346.4 1132.6 L351.2 1132.5 L356.0 1132.6 L360.7 1132.8 L365.4 1133.2 L370.1 1133.8 L374.7 1134.6 L379.2 1135.5 L383.5 1136.6 L387.7 1137.9 L391.8 1139.2 L395.7 1140.8 L399.4 1142.4 L402.9 1144.2 L406.1 1146.2 L409.1 1148.2 L411.9 1150.3 L414.4 1152.6 L416.7 1154.9 L418.7 1157.3 L420.3 1159.7 L421.7 1162.2 L422.8 1164.8 L423.6 1167.4 L424.1 1170.0Z" fill="#519c87"/>
<path d="M414.6 1175.7 L414.5 1178.0 L414.1 1180.3 L413.4 1182.5 L412.5 1184.7 L411.3 1186.9 L409.8 1189.0 L408.1 1191.1 L406.2 1193.1 L404.0 1195.1 L401.6 1196.9 L398.9 1198.7 L396.1 1200.3 L393.1 1201.9 L389.9 1203.3 L386.5 1204.7 L383.0 1205.9 L379.4 1206.9 L375.6 1207.9 L371.7 1208.7 L367.8 1209.3 L363.7 1209.9 L359.7 1210.2 L355.5 1210.4 L351.4 1210.5 L347.3 1210.4 L343.1 1210.2 L339.1 1209.9 L335.0 1209.3 L331.1 1208.7 L327.2 1207.9 L323.4 1206.9 L319.8 1205.9 L316.3 1204.7 L312.9 1203.3 L309.7 1201.9 L306.7 1200.3 L303.8 1198.7 L301.2 1196.9 L298.8 1195.1 L296.6 1193.1 L294.7 1191.1 L293.0 1189.0 L291.5 1186.9 L290.3 1184.7 L289.4 1182.5 L288.7 1180.3 L288.3 1178.0 L288.2 1175.7 L288.3 1173.5 L288.7 1171.2 L289.4 1168.9 L290.3 1166.7 L291.5 1164.6 L293.0 1162.4 L294.7 1160.3 L296.6 1158.3 L298.8 1156.4 L301.2 1154.6 L303.9 1152.8 L306.7 1151.1 L309.7 1149.6 L312.9 1148.1 L316.3 1146.8 L319.8 1145.6 L323.4 1144.5 L327.2 1143.6 L331.1 1142.8 L335.0 1142.1 L339.1 1141.6 L343.1 1141.2 L347.3 1141.0 L351.4 1140.9 L355.5 1141.0 L359.7 1141.2 L363.7 1141.6 L367.8 1142.1 L371.7 1142.8 L375.6 1143.6 L379.4 1144.5 L383.0 1145.6 L386.5 1146.8 L389.9 1148.1 L393.1 1149.6 L396.1 1151.1 L399.0 1152.8 L401.6 1154.6 L404.0 1156.4 L406.2 1158.3 L408.1 1160.3 L409.8 1162.4 L411.3 1164.6 L412.5 1166.7 L413.4 1168.9 L414.1 1171.2 L414.5 1173.5Z" fill="#54a47c"/>
<path d="M403.2 1178.8 L403.1 1180.7 L402.8 1182.5 L402.2 1184.4 L401.5 1186.2 L400.5 1188.0 L399.3 1189.7 L397.9 1191.4 L396.3 1193.0 L394.5 1194.6 L392.6 1196.1 L390.4 1197.5 L388.1 1198.9 L385.6 1200.2 L383.0 1201.4 L380.3 1202.4 L377.4 1203.4 L374.4 1204.3 L371.4 1205.1 L368.2 1205.7 L365.0 1206.3 L361.7 1206.7 L358.3 1207.0 L355.0 1207.2 L351.6 1207.2 L348.2 1207.2 L344.9 1207.0 L341.5 1206.7 L338.2 1206.3 L335.0 1205.7 L331.8 1205.1 L328.8 1204.3 L325.8 1203.4 L322.9 1202.4 L320.2 1201.4 L317.6 1200.2 L315.1 1198.9 L312.8 1197.5 L310.6 1196.1 L308.7 1194.6 L306.9 1193.0 L305.3 1191.4 L303.9 1189.7 L302.7 1188.0 L301.7 1186.2 L301.0 1184.4 L300.4 1182.5 L300.1 1180.7 L300.0 1178.8 L300.1 1177.0 L300.4 1175.1 L301.0 1173.3 L301.7 1171.5 L302.7 1169.7 L303.9 1168.0 L305.3 1166.3 L306.9 1164.6 L308.7 1163.0 L310.6 1161.5 L312.8 1160.1 L315.1 1158.7 L317.6 1157.5 L320.2 1156.3 L322.9 1155.2 L325.8 1154.2 L328.8 1153.3 L331.8 1152.6 L335.0 1151.9 L338.2 1151.4 L341.5 1151.0 L344.9 1150.7 L348.2 1150.5 L351.6 1150.4 L355.0 1150.5 L358.3 1150.7 L361.7 1151.0 L365.0 1151.4 L368.2 1151.9 L371.4 1152.6 L374.4 1153.3 L377.4 1154.2 L380.3 1155.2 L383.0 1156.3 L385.7 1157.5 L388.1 1158.7 L390.4 1160.1 L392.6 1161.5 L394.5 1163.0 L396.3 1164.6 L397.9 1166.3 L399.3 1168.0 L400.5 1169.7 L401.5 1171.5 L402.2 1173.3 L402.8 1175.1 L403.1 1177.0Z" fill="#58ac6c"/>
<path d="M388.3 1181.9 L388.2 1183.2 L388.0 1184.5 L387.6 1185.8 L387.1 1187.1 L386.4 1188.4 L385.5 1189.6 L384.5 1190.8 L383.4 1192.0 L382.2 1193.1 L380.8 1194.1 L379.3 1195.2 L377.6 1196.1 L375.9 1197.0 L374.0 1197.8 L372.1 1198.6 L370.1 1199.3 L368.0 1199.9 L365.8 1200.5 L363.5 1200.9 L361.3 1201.3 L358.9 1201.6 L356.6 1201.8 L354.2 1202.0 L351.8 1202.0 L349.4 1202.0 L347.0 1201.8 L344.7 1201.6 L342.3 1201.3 L340.1 1200.9 L337.8 1200.5 L335.6 1199.9 L333.5 1199.3 L331.5 1198.6 L329.6 1197.8 L327.7 1197.0 L326.0 1196.1 L324.3 1195.2 L322.8 1194.1 L321.4 1193.1 L320.2 1192.0 L319.1 1190.8 L318.1 1189.6 L317.2 1188.4 L316.5 1187.1 L316.0 1185.8 L315.6 1184.5 L315.4 1183.2 L315.3 1181.9 L315.4 1180.6 L315.6 1179.3 L316.0 1178.0 L316.5 1176.7 L317.2 1175.5 L318.1 1174.2 L319.1 1173.0 L320.2 1171.9 L321.4 1170.8 L322.8 1169.7 L324.3 1168.7 L326.0 1167.7 L327.7 1166.8 L329.6 1166.0 L331.5 1165.2 L333.5 1164.5 L335.6 1163.9 L337.8 1163.4 L340.1 1162.9 L342.3 1162.5 L344.7 1162.2 L347.0 1162.0 L349.4 1161.9 L351.8 1161.8 L354.2 1161.9 L356.6 1162.0 L358.9 1162.2 L361.3 1162.5 L363.5 1162.9 L365.8 1163.4 L368.0 1163.9 L370.1 1164.5 L372.1 1165.2 L374.0 1166.0 L375.9 1166.8 L377.6 1167.7 L379.3 1168.7 L380.8 1169.7 L382.2 1170.8 L383.4 1171.9 L384.5 1173.0 L385.5 1174.2 L386.4 1175.5 L387.1 1176.7 L387.6 1178.0 L388.0 1179.3 L388.2 1180.6Z" fill="#5bb261"/>
</g>
<g filter="url(#eb07)">
<ellipse cx="177.0" cy="976.0" rx="56.2" ry="30.9" fill="#e4e9fe"/>
<ellipse cx="176.8" cy="974.5" rx="55.3" ry="30.4" fill="#e4e9fe"/>
<ellipse cx="176.7" cy="973.8" rx="54.9" ry="30.2" fill="#c8d4fc"/>
<ellipse cx="176.6" cy="973.1" rx="54.4" ry="29.9" fill="#c8d4fc"/>
<ellipse cx="176.3" cy="971.6" rx="53.5" ry="29.4" fill="#c8d4fc"/>
<ellipse cx="176.2" cy="970.8" rx="52.9" ry="29.1" fill="#a8b8fa"/>
<ellipse cx="176.1" cy="970.2" rx="52.5" ry="28.9" fill="#a8b8fa"/>
<ellipse cx="175.9" cy="968.7" rx="51.5" ry="28.3" fill="#a8b8fa"/>
<ellipse cx="175.7" cy="967.3" rx="50.5" ry="27.8" fill="#a8b8fa"/>
<ellipse cx="175.6" cy="967.2" rx="50.5" ry="27.8" fill="#88a0f8"/>
<ellipse cx="175.4" cy="965.8" rx="49.5" ry="27.2" fill="#88a0f8"/>
<ellipse cx="175.2" cy="964.4" rx="48.5" ry="26.7" fill="#88a0f8"/>
<ellipse cx="175.0" cy="962.9" rx="47.4" ry="26.1" fill="#88a0f8"/>
<ellipse cx="175.0" cy="962.9" rx="47.4" ry="26.1" fill="#6880f6"/>
<ellipse cx="174.8" cy="961.5" rx="46.4" ry="25.5" fill="#6880f6"/>
<ellipse cx="174.5" cy="960.0" rx="45.2" ry="24.9" fill="#6880f6"/>
<ellipse cx="174.3" cy="958.6" rx="44.1" ry="24.3" fill="#6880f6"/>
<ellipse cx="174.2" cy="958.0" rx="43.6" ry="24.0" fill="#5060f4"/>
<ellipse cx="174.1" cy="957.1" rx="42.9" ry="23.6" fill="#5060f4"/>
<ellipse cx="173.9" cy="955.7" rx="41.7" ry="23.0" fill="#5060f4"/>
<ellipse cx="173.6" cy="954.2" rx="40.5" ry="22.3" fill="#5060f4"/>
<ellipse cx="173.4" cy="952.8" rx="39.2" ry="21.6" fill="#5060f4"/>
<ellipse cx="173.4" cy="952.5" rx="39.0" ry="21.4" fill="#3c40f4"/>
<ellipse cx="173.2" cy="951.3" rx="37.9" ry="20.9" fill="#3c40f4"/>
<ellipse cx="173.0" cy="949.9" rx="36.6" ry="20.1" fill="#3c40f4"/>
<ellipse cx="172.7" cy="948.4" rx="35.1" ry="19.3" fill="#3c40f4"/>
<ellipse cx="172.5" cy="947.0" rx="33.7" ry="18.5" fill="#3c40f4"/>
<ellipse cx="172.3" cy="945.5" rx="32.1" ry="17.7" fill="#3c40f4"/>
<ellipse cx="172.1" cy="944.1" rx="30.5" ry="16.8" fill="#3c40f4"/>
<ellipse cx="171.8" cy="942.6" rx="28.8" ry="15.8" fill="#3c40f4"/>
<ellipse cx="171.6" cy="941.2" rx="27.0" ry="14.8" fill="#3c40f4"/>
<ellipse cx="171.4" cy="939.7" rx="25.0" ry="13.8" fill="#3c40f4"/>
<ellipse cx="171.3" cy="939.4" rx="24.5" ry="13.5" fill="#2800f8"/>
<ellipse cx="171.2" cy="938.3" rx="22.9" ry="12.6" fill="#2800f8"/>
<ellipse cx="170.9" cy="936.8" rx="20.6" ry="11.3" fill="#2800f8"/>
<ellipse cx="170.7" cy="935.4" rx="17.9" ry="9.9" fill="#2800f8"/>
<ellipse cx="170.5" cy="933.9" rx="14.8" ry="8.2" fill="#2800f8"/>
<ellipse cx="170.3" cy="932.5" rx="10.9" ry="6.0" fill="#2800f8"/>
</g>
<g filter="url(#eb07)">
<ellipse cx="412.5" cy="944.0" rx="57.9" ry="31.9" fill="#e4e9fe"/>
<ellipse cx="412.7" cy="942.5" rx="57.0" ry="31.4" fill="#e4e9fe"/>
<ellipse cx="412.9" cy="941.7" rx="56.5" ry="31.1" fill="#c8d4fc"/>
<ellipse cx="413.0" cy="941.0" rx="56.0" ry="30.8" fill="#c8d4fc"/>
<ellipse cx="413.2" cy="939.5" rx="55.1" ry="30.3" fill="#c8d4fc"/>
<ellipse cx="413.4" cy="938.6" rx="54.5" ry="30.0" fill="#a8b8fa"/>
<ellipse cx="413.5" cy="938.0" rx="54.1" ry="29.8" fill="#a8b8fa"/>
<ellipse cx="413.7" cy="936.5" rx="53.1" ry="29.2" fill="#a8b8fa"/>
<ellipse cx="413.9" cy="935.0" rx="52.1" ry="28.6" fill="#a8b8fa"/>
<ellipse cx="414.0" cy="934.9" rx="52.0" ry="28.6" fill="#88a0f8"/>
<ellipse cx="414.2" cy="933.5" rx="51.0" ry="28.1" fill="#88a0f8"/>
<ellipse cx="414.4" cy="932.1" rx="50.0" ry="27.5" fill="#88a0f8"/>
<ellipse cx="414.7" cy="930.6" rx="48.9" ry="26.9" fill="#88a0f8"/>
<ellipse cx="414.7" cy="930.5" rx="48.8" ry="26.9" fill="#6880f6"/>
<ellipse cx="414.9" cy="929.1" rx="47.7" ry="26.3" fill="#6880f6"/>
<ellipse cx="415.1" cy="927.6" rx="46.6" ry="25.6" fill="#6880f6"/>
<ellipse cx="415.4" cy="926.1" rx="45.4" ry="25.0" fill="#6880f6"/>
<ellipse cx="415.5" cy="925.5" rx="44.9" ry="24.7" fill="#5060f4"/>
<ellipse cx="415.6" cy="924.6" rx="44.2" ry="24.3" fill="#5060f4"/>
<ellipse cx="415.9" cy="923.1" rx="43.0" ry="23.7" fill="#5060f4"/>
<ellipse cx="416.1" cy="921.6" rx="41.7" ry="23.0" fill="#5060f4"/>
<ellipse cx="416.3" cy="920.1" rx="40.4" ry="22.2" fill="#5060f4"/>
<ellipse cx="416.4" cy="919.8" rx="40.1" ry="22.1" fill="#3c40f4"/>
<ellipse cx="416.6" cy="918.6" rx="39.1" ry="21.5" fill="#3c40f4"/>
<ellipse cx="416.8" cy="917.1" rx="37.7" ry="20.7" fill="#3c40f4"/>
<ellipse cx="417.1" cy="915.6" rx="36.2" ry="19.9" fill="#3c40f4"/>
<ellipse cx="417.3" cy="914.1" rx="34.7" ry="19.1" fill="#3c40f4"/>
<ellipse cx="417.6" cy="912.6" rx="33.1" ry="18.2" fill="#3c40f4"/>
<ellipse cx="417.8" cy="911.1" rx="31.4" ry="17.3" fill="#3c40f4"/>
<ellipse cx="418.0" cy="909.6" rx="29.7" ry="16.3" fill="#3c40f4"/>
<ellipse cx="418.3" cy="908.2" rx="27.8" ry="15.3" fill="#3c40f4"/>
<ellipse cx="418.5" cy="906.7" rx="25.8" ry="14.2" fill="#3c40f4"/>
<ellipse cx="418.6" cy="906.3" rx="25.3" ry="13.9" fill="#2800f8"/>
<ellipse cx="418.8" cy="905.2" rx="23.6" ry="13.0" fill="#2800f8"/>
<ellipse cx="419.0" cy="903.7" rx="21.2" ry="11.7" fill="#2800f8"/>
<ellipse cx="419.2" cy="902.2" rx="18.5" ry="10.2" fill="#2800f8"/>
<ellipse cx="419.5" cy="900.7" rx="15.3" ry="8.4" fill="#2800f8"/>
<ellipse cx="419.7" cy="899.2" rx="11.2" ry="6.2" fill="#2800f8"/>
</g>
<g filter="url(#eb07)">
<ellipse cx="106.5" cy="1108.0" rx="54.6" ry="30.0" fill="#e4e9fe"/>
<ellipse cx="106.3" cy="1106.6" rx="53.7" ry="29.5" fill="#e4e9fe"/>
<ellipse cx="106.2" cy="1105.8" rx="53.2" ry="29.3" fill="#c8d4fc"/>
<ellipse cx="106.1" cy="1105.2" rx="52.8" ry="29.0" fill="#c8d4fc"/>
<ellipse cx="105.9" cy="1103.8" rx="51.9" ry="28.5" fill="#c8d4fc"/>
<ellipse cx="105.8" cy="1102.9" rx="51.3" ry="28.2" fill="#a8b8fa"/>
<ellipse cx="105.7" cy="1102.3" rx="50.9" ry="28.0" fill="#a8b8fa"/>
<ellipse cx="105.5" cy="1100.9" rx="50.0" ry="27.5" fill="#a8b8fa"/>
<ellipse cx="105.2" cy="1099.5" rx="49.0" ry="27.0" fill="#a8b8fa"/>
<ellipse cx="105.2" cy="1099.4" rx="49.0" ry="26.9" fill="#88a0f8"/>
<ellipse cx="105.0" cy="1098.1" rx="48.0" ry="26.4" fill="#88a0f8"/>
<ellipse cx="104.8" cy="1096.7" rx="47.0" ry="25.9" fill="#88a0f8"/>
<ellipse cx="104.6" cy="1095.3" rx="46.0" ry="25.3" fill="#88a0f8"/>
<ellipse cx="104.6" cy="1095.3" rx="46.0" ry="25.3" fill="#6880f6"/>
<ellipse cx="104.4" cy="1093.9" rx="45.0" ry="24.7" fill="#6880f6"/>
<ellipse cx="104.2" cy="1092.5" rx="43.9" ry="24.1" fill="#6880f6"/>
<ellipse cx="104.0" cy="1091.1" rx="42.8" ry="23.5" fill="#6880f6"/>
<ellipse cx="103.9" cy="1090.5" rx="42.3" ry="23.3" fill="#5060f4"/>
<ellipse cx="103.8" cy="1089.7" rx="41.7" ry="22.9" fill="#5060f4"/>
<ellipse cx="103.6" cy="1088.3" rx="40.5" ry="22.3" fill="#5060f4"/>
<ellipse cx="103.4" cy="1086.9" rx="39.3" ry="21.6" fill="#5060f4"/>
<ellipse cx="103.2" cy="1085.5" rx="38.1" ry="20.9" fill="#5060f4"/>
<ellipse cx="103.1" cy="1085.2" rx="37.8" ry="20.8" fill="#3c40f4"/>
<ellipse cx="103.0" cy="1084.1" rx="36.8" ry="20.2" fill="#3c40f4"/>
<ellipse cx="102.7" cy="1082.7" rx="35.5" ry="19.5" fill="#3c40f4"/>
<ellipse cx="102.5" cy="1081.2" rx="34.1" ry="18.8" fill="#3c40f4"/>
<ellipse cx="102.3" cy="1079.8" rx="32.7" ry="18.0" fill="#3c40f4"/>
<ellipse cx="102.1" cy="1078.4" rx="31.2" ry="17.1" fill="#3c40f4"/>
<ellipse cx="101.9" cy="1077.0" rx="29.6" ry="16.3" fill="#3c40f4"/>
<ellipse cx="101.7" cy="1075.6" rx="27.9" ry="15.4" fill="#3c40f4"/>
<ellipse cx="101.5" cy="1074.2" rx="26.2" ry="14.4" fill="#3c40f4"/>
<ellipse cx="101.3" cy="1072.8" rx="24.3" ry="13.4" fill="#3c40f4"/>
<ellipse cx="101.2" cy="1072.5" rx="23.8" ry="13.1" fill="#2800f8"/>
<ellipse cx="101.1" cy="1071.4" rx="22.2" ry="12.2" fill="#2800f8"/>
<ellipse cx="100.9" cy="1070.0" rx="20.0" ry="11.0" fill="#2800f8"/>
<ellipse cx="100.7" cy="1068.6" rx="17.4" ry="9.6" fill="#2800f8"/>
<ellipse cx="100.5" cy="1067.2" rx="14.4" ry="7.9" fill="#2800f8"/>
<ellipse cx="100.2" cy="1065.8" rx="10.6" ry="5.8" fill="#2800f8"/>
</g>
<g filter="url(#eb07)">
<ellipse cx="590.0" cy="1041.5" rx="55.1" ry="30.3" fill="#e4e9fe"/>
<ellipse cx="590.2" cy="1040.1" rx="54.2" ry="29.8" fill="#e4e9fe"/>
<ellipse cx="590.3" cy="1039.3" rx="53.8" ry="29.6" fill="#c8d4fc"/>
<ellipse cx="590.4" cy="1038.6" rx="53.3" ry="29.3" fill="#c8d4fc"/>
<ellipse cx="590.7" cy="1037.2" rx="52.4" ry="28.8" fill="#c8d4fc"/>
<ellipse cx="590.8" cy="1036.4" rx="51.9" ry="28.5" fill="#a8b8fa"/>
<ellipse cx="590.9" cy="1035.8" rx="51.5" ry="28.3" fill="#a8b8fa"/>
<ellipse cx="591.1" cy="1034.4" rx="50.5" ry="27.8" fill="#a8b8fa"/>
<ellipse cx="591.3" cy="1032.9" rx="49.5" ry="27.2" fill="#a8b8fa"/>
<ellipse cx="591.4" cy="1032.9" rx="49.5" ry="27.2" fill="#88a0f8"/>
<ellipse cx="591.6" cy="1031.5" rx="48.5" ry="26.7" fill="#88a0f8"/>
<ellipse cx="591.8" cy="1030.1" rx="47.5" ry="26.1" fill="#88a0f8"/>
<ellipse cx="592.0" cy="1028.7" rx="46.5" ry="25.6" fill="#88a0f8"/>
<ellipse cx="592.0" cy="1028.6" rx="46.5" ry="25.5" fill="#6880f6"/>
<ellipse cx="592.2" cy="1027.3" rx="45.4" ry="25.0" fill="#6880f6"/>
<ellipse cx="592.5" cy="1025.8" rx="44.3" ry="24.4" fill="#6880f6"/>
<ellipse cx="592.7" cy="1024.4" rx="43.2" ry="23.8" fill="#6880f6"/>
<ellipse cx="592.8" cy="1023.8" rx="42.8" ry="23.5" fill="#5060f4"/>
<ellipse cx="592.9" cy="1023.0" rx="42.1" ry="23.1" fill="#5060f4"/>
<ellipse cx="593.1" cy="1021.6" rx="40.9" ry="22.5" fill="#5060f4"/>
<ellipse cx="593.4" cy="1020.2" rx="39.7" ry="21.8" fill="#5060f4"/>
<ellipse cx="593.6" cy="1018.7" rx="38.5" ry="21.2" fill="#5060f4"/>
<ellipse cx="593.6" cy="1018.4" rx="38.2" ry="21.0" fill="#3c40f4"/>
<ellipse cx="593.8" cy="1017.3" rx="37.2" ry="20.4" fill="#3c40f4"/>
<ellipse cx="594.0" cy="1015.9" rx="35.8" ry="19.7" fill="#3c40f4"/>
<ellipse cx="594.3" cy="1014.5" rx="34.4" ry="18.9" fill="#3c40f4"/>
<ellipse cx="594.5" cy="1013.1" rx="33.0" ry="18.2" fill="#3c40f4"/>
<ellipse cx="594.7" cy="1011.6" rx="31.5" ry="17.3" fill="#3c40f4"/>
<ellipse cx="594.9" cy="1010.2" rx="29.9" ry="16.4" fill="#3c40f4"/>
<ellipse cx="595.2" cy="1008.8" rx="28.2" ry="15.5" fill="#3c40f4"/>
<ellipse cx="595.4" cy="1007.4" rx="26.4" ry="14.5" fill="#3c40f4"/>
<ellipse cx="595.6" cy="1006.0" rx="24.5" ry="13.5" fill="#3c40f4"/>
<ellipse cx="595.7" cy="1005.6" rx="24.0" ry="13.2" fill="#2800f8"/>
<ellipse cx="595.8" cy="1004.5" rx="22.5" ry="12.4" fill="#2800f8"/>
<ellipse cx="596.1" cy="1003.1" rx="20.2" ry="11.1" fill="#2800f8"/>
<ellipse cx="596.3" cy="1001.7" rx="17.6" ry="9.7" fill="#2800f8"/>
<ellipse cx="596.5" cy="1000.3" rx="14.6" ry="8.0" fill="#2800f8"/>
<ellipse cx="596.7" cy="998.8" rx="10.7" ry="5.9" fill="#2800f8"/>
</g>
<path d="M190.0 1174.0 L220.0 1177.0 L237.0 1175.0 L245.0 1167.0 L262.0 1161.0 L282.0 1160.0 L302.0 1163.0 L322.0 1170.0 L350.0 1185.0 L375.0 1197.0 L392.0 1200.0 L410.0 1195.0 L425.0 1185.0 L455.0 1165.0 L480.0 1145.0 L505.0 1130.0 L530.0 1125.0 L550.0 1132.0 L565.0 1150.0 L585.0 1178.0 L600.0 1200.0 L640.0 1200.0 L640.0 1345.0 L120.0 1345.0 L120.0 1220.0 L150.0 1200.0Z" fill="#fff"/>
<g clip-path="url(#ce_sil)"><g filter="url(#eb2)">
<path d="M40.0 1157.0 L45.0 1160.0 L50.0 1163.0 L55.0 1164.4 L60.0 1165.8 L65.0 1167.2 L70.0 1168.6 L75.0 1170.0 L80.0 1169.0 L85.0 1168.0 L90.0 1167.0 L95.0 1166.0 L100.0 1165.0 L105.0 1166.5 L110.0 1168.0 L115.0 1169.5 L120.0 1171.0 L125.0 1172.5 L130.0 1173.5 L135.0 1174.5 L140.0 1175.5 L145.0 1176.5 L150.0 1177.5 L155.0 1178.5 L160.0 1179.5 L165.0 1180.5 L170.0 1181.5 L175.0 1182.5 L180.0 1183.0 L185.0 1183.5 L190.0 1184.0 L195.0 1184.5 L200.0 1185.0 L205.0 1187.1 L210.0 1189.2 L215.0 1194.6 L220.0 1202.3 L225.0 1210.0 L230.0 1218.3 L235.0 1226.7 L240.0 1231.2 L245.0 1233.1 L250.0 1235.0 L255.0 1236.2 L260.0 1237.5 L265.0 1239.2 L270.0 1240.8 L275.0 1242.5 L280.0 1242.8 L285.0 1243.0 L290.0 1243.2 L295.0 1243.5 L300.0 1243.8 L305.0 1243.5 L310.0 1243.2 L315.0 1243.0 L320.0 1242.8 L325.0 1242.5 L330.0 1240.2 L335.0 1237.9 L340.0 1235.6 L345.0 1233.3 L350.0 1231.0 L355.0 1227.4 L360.0 1223.8 L365.0 1220.2 L370.0 1216.6 L375.0 1213.0 L380.0 1207.0 L385.0 1201.0 L390.0 1195.0 L395.0 1195.0 L400.0 1195.0 L405.0 1195.5 L410.0 1196.0 L415.0 1196.5 L420.0 1197.0 L425.0 1197.5 L430.0 1198.5 L435.0 1199.5 L440.0 1200.5 L445.0 1201.5 L450.0 1202.5 L455.0 1203.5 L460.0 1204.5 L465.0 1205.5 L470.0 1206.5 L475.0 1207.5 L480.0 1208.4 L485.0 1209.2 L490.0 1210.1 L495.0 1211.0 L500.0 1211.6 L505.0 1212.2 L510.0 1212.9 L515.0 1213.4 L520.0 1214.0 L525.0 1214.6 L530.0 1215.2 L535.0 1215.8 L540.0 1216.4 L545.0 1217.0 L560.0 1217.0 L560.0 1400.0 L20.0 1400.0 L20.0 1157.0Z" fill="#fcfcfc"/>
<path d="M40.0 1160.0 L45.0 1163.0 L50.0 1166.0 L55.0 1167.4 L60.0 1168.8 L65.0 1170.2 L70.0 1171.6 L75.0 1173.0 L80.0 1172.0 L85.0 1171.0 L90.0 1170.0 L95.0 1169.0 L100.0 1168.0 L105.0 1169.5 L110.0 1171.0 L115.0 1172.5 L120.0 1174.0 L125.0 1175.5 L130.0 1176.5 L135.0 1177.5 L140.0 1178.5 L145.0 1179.5 L150.0 1180.5 L155.0 1181.5 L160.0 1182.5 L165.0 1183.5 L170.0 1184.5 L175.0 1185.5 L180.0 1186.0 L185.0 1186.5 L190.0 1187.0 L195.0 1187.5 L200.0 1188.0 L205.0 1190.1 L210.0 1192.2 L215.0 1197.6 L220.0 1205.3 L225.0 1213.0 L230.0 1221.3 L235.0 1229.7 L240.0 1234.2 L245.0 1236.1 L250.0 1238.0 L255.0 1239.2 L260.0 1240.5 L265.0 1242.2 L270.0 1243.8 L275.0 1245.5 L280.0 1245.8 L285.0 1246.0 L290.0 1246.2 L295.0 1246.5 L300.0 1246.8 L305.0 1246.5 L310.0 1246.2 L315.0 1246.0 L320.0 1245.8 L325.0 1245.5 L330.0 1243.2 L335.0 1240.9 L340.0 1238.6 L345.0 1236.3 L350.0 1234.0 L355.0 1230.4 L360.0 1226.8 L365.0 1223.2 L370.0 1219.6 L375.0 1216.0 L380.0 1210.0 L385.0 1204.0 L390.0 1198.0 L395.0 1198.0 L400.0 1198.0 L405.0 1198.5 L410.0 1199.0 L415.0 1199.5 L420.0 1200.0 L425.0 1200.5 L430.0 1201.5 L435.0 1202.5 L440.0 1203.5 L445.0 1204.5 L450.0 1205.5 L455.0 1206.5 L460.0 1207.5 L465.0 1208.5 L470.0 1209.5 L475.0 1210.5 L480.0 1211.4 L485.0 1212.2 L490.0 1213.1 L495.0 1214.0 L500.0 1214.6 L505.0 1215.2 L510.0 1215.9 L515.0 1216.4 L520.0 1217.0 L525.0 1217.6 L530.0 1218.2 L535.0 1218.8 L540.0 1219.4 L545.0 1220.0 L560.0 1220.0 L560.0 1400.0 L20.0 1400.0 L20.0 1160.0Z" fill="#f7f7f7"/>
<path d="M40.0 1163.0 L45.0 1166.0 L50.0 1169.0 L55.0 1170.4 L60.0 1171.8 L65.0 1173.2 L70.0 1174.6 L75.0 1176.0 L80.0 1175.0 L85.0 1174.0 L90.0 1173.0 L95.0 1172.0 L100.0 1171.0 L105.0 1172.5 L110.0 1174.0 L115.0 1175.5 L120.0 1177.0 L125.0 1178.5 L130.0 1179.5 L135.0 1180.5 L140.0 1181.5 L145.0 1182.5 L150.0 1183.5 L155.0 1184.5 L160.0 1185.5 L165.0 1186.5 L170.0 1187.5 L175.0 1188.5 L180.0 1189.0 L185.0 1189.5 L190.0 1190.0 L195.0 1190.5 L200.0 1191.0 L205.0 1193.1 L210.0 1195.2 L215.0 1200.6 L220.0 1208.3 L225.0 1216.0 L230.0 1224.3 L235.0 1232.7 L240.0 1237.2 L245.0 1239.1 L250.0 1241.0 L255.0 1242.2 L260.0 1243.5 L265.0 1245.2 L270.0 1246.8 L275.0 1248.5 L280.0 1248.8 L285.0 1249.0 L290.0 1249.2 L295.0 1249.5 L300.0 1249.8 L305.0 1249.5 L310.0 1249.2 L315.0 1249.0 L320.0 1248.8 L325.0 1248.5 L330.0 1246.2 L335.0 1243.9 L340.0 1241.6 L345.0 1239.3 L350.0 1237.0 L355.0 1233.4 L360.0 1229.8 L365.0 1226.2 L370.0 1222.6 L375.0 1219.0 L380.0 1213.0 L385.0 1207.0 L390.0 1201.0 L395.0 1201.0 L400.0 1201.0 L405.0 1201.5 L410.0 1202.0 L415.0 1202.5 L420.0 1203.0 L425.0 1203.5 L430.0 1204.5 L435.0 1205.5 L440.0 1206.5 L445.0 1207.5 L450.0 1208.5 L455.0 1209.5 L460.0 1210.5 L465.0 1211.5 L470.0 1212.5 L475.0 1213.5 L480.0 1214.4 L485.0 1215.2 L490.0 1216.1 L495.0 1217.0 L500.0 1217.6 L505.0 1218.2 L510.0 1218.9 L515.0 1219.4 L520.0 1220.0 L525.0 1220.6 L530.0 1221.2 L535.0 1221.8 L540.0 1222.4 L545.0 1223.0 L560.0 1223.0 L560.0 1400.0 L20.0 1400.0 L20.0 1163.0Z" fill="#f2f2f2"/>
<path d="M40.0 1166.0 L45.0 1169.0 L50.0 1172.0 L55.0 1173.4 L60.0 1174.8 L65.0 1176.2 L70.0 1177.6 L75.0 1179.0 L80.0 1178.0 L85.0 1177.0 L90.0 1176.0 L95.0 1175.0 L100.0 1174.0 L105.0 1175.5 L110.0 1177.0 L115.0 1178.5 L120.0 1180.0 L125.0 1181.5 L130.0 1182.5 L135.0 1183.5 L140.0 1184.5 L145.0 1185.5 L150.0 1186.5 L155.0 1187.5 L160.0 1188.5 L165.0 1189.5 L170.0 1190.5 L175.0 1191.5 L180.0 1192.0 L185.0 1192.5 L190.0 1193.0 L195.0 1193.5 L200.0 1194.0 L205.0 1196.1 L210.0 1198.2 L215.0 1203.6 L220.0 1211.3 L225.0 1219.0 L230.0 1227.3 L235.0 1235.7 L240.0 1240.2 L245.0 1242.1 L250.0 1244.0 L255.0 1245.2 L260.0 1246.5 L265.0 1248.2 L270.0 1249.8 L275.0 1251.5 L280.0 1251.8 L285.0 1252.0 L290.0 1252.2 L295.0 1252.5 L300.0 1252.8 L305.0 1252.5 L310.0 1252.2 L315.0 1252.0 L320.0 1251.8 L325.0 1251.5 L330.0 1249.2 L335.0 1246.9 L340.0 1244.6 L345.0 1242.3 L350.0 1240.0 L355.0 1236.4 L360.0 1232.8 L365.0 1229.2 L370.0 1225.6 L375.0 1222.0 L380.0 1216.0 L385.0 1210.0 L390.0 1204.0 L395.0 1204.0 L400.0 1204.0 L405.0 1204.5 L410.0 1205.0 L415.0 1205.5 L420.0 1206.0 L425.0 1206.5 L430.0 1207.5 L435.0 1208.5 L440.0 1209.5 L445.0 1210.5 L450.0 1211.5 L455.0 1212.5 L460.0 1213.5 L465.0 1214.5 L470.0 1215.5 L475.0 1216.5 L480.0 1217.4 L485.0 1218.2 L490.0 1219.1 L495.0 1220.0 L500.0 1220.6 L505.0 1221.2 L510.0 1221.9 L515.0 1222.4 L520.0 1223.0 L525.0 1223.6 L530.0 1224.2 L535.0 1224.8 L540.0 1225.4 L545.0 1226.0 L560.0 1226.0 L560.0 1400.0 L20.0 1400.0 L20.0 1166.0Z" fill="#ececec"/>
<path d="M40.0 1169.0 L45.0 1172.0 L50.0 1175.0 L55.0 1176.4 L60.0 1177.8 L65.0 1179.2 L70.0 1180.6 L75.0 1182.0 L80.0 1181.0 L85.0 1180.0 L90.0 1179.0 L95.0 1178.0 L100.0 1177.0 L105.0 1178.5 L110.0 1180.0 L115.0 1181.5 L120.0 1183.0 L125.0 1184.5 L130.0 1185.5 L135.0 1186.5 L140.0 1187.5 L145.0 1188.5 L150.0 1189.5 L155.0 1190.5 L160.0 1191.5 L165.0 1192.5 L170.0 1193.5 L175.0 1194.5 L180.0 1195.0 L185.0 1195.5 L190.0 1196.0 L195.0 1196.5 L200.0 1197.0 L205.0 1199.1 L210.0 1201.2 L215.0 1206.6 L220.0 1214.3 L225.0 1222.0 L230.0 1230.3 L235.0 1238.7 L240.0 1243.2 L245.0 1245.1 L250.0 1247.0 L255.0 1248.2 L260.0 1249.5 L265.0 1251.2 L270.0 1252.8 L275.0 1254.5 L280.0 1254.8 L285.0 1255.0 L290.0 1255.2 L295.0 1255.5 L300.0 1255.8 L305.0 1255.5 L310.0 1255.2 L315.0 1255.0 L320.0 1254.8 L325.0 1254.5 L330.0 1252.2 L335.0 1249.9 L340.0 1247.6 L345.0 1245.3 L350.0 1243.0 L355.0 1239.4 L360.0 1235.8 L365.0 1232.2 L370.0 1228.6 L375.0 1225.0 L380.0 1219.0 L385.0 1213.0 L390.0 1207.0 L395.0 1207.0 L400.0 1207.0 L405.0 1207.5 L410.0 1208.0 L415.0 1208.5 L420.0 1209.0 L425.0 1209.5 L430.0 1210.5 L435.0 1211.5 L440.0 1212.5 L445.0 1213.5 L450.0 1214.5 L455.0 1215.5 L460.0 1216.5 L465.0 1217.5 L470.0 1218.5 L475.0 1219.5 L480.0 1220.4 L485.0 1221.2 L490.0 1222.1 L495.0 1223.0 L500.0 1223.6 L505.0 1224.2 L510.0 1224.9 L515.0 1225.4 L520.0 1226.0 L525.0 1226.6 L530.0 1227.2 L535.0 1227.8 L540.0 1228.4 L545.0 1229.0 L560.0 1229.0 L560.0 1400.0 L20.0 1400.0 L20.0 1169.0Z" fill="#e7e7e7"/>
<path d="M40.0 1172.0 L45.0 1175.0 L50.0 1178.0 L55.0 1179.4 L60.0 1180.8 L65.0 1182.2 L70.0 1183.6 L75.0 1185.0 L80.0 1184.0 L85.0 1183.0 L90.0 1182.0 L95.0 1181.0 L100.0 1180.0 L105.0 1181.5 L110.0 1183.0 L115.0 1184.5 L120.0 1186.0 L125.0 1187.5 L130.0 1188.5 L135.0 1189.5 L140.0 1190.5 L145.0 1191.5 L150.0 1192.5 L155.0 1193.5 L160.0 1194.5 L165.0 1195.5 L170.0 1196.5 L175.0 1197.5 L180.0 1198.0 L185.0 1198.5 L190.0 1199.0 L195.0 1199.5 L200.0 1200.0 L205.0 1202.1 L210.0 1204.2 L215.0 1209.6 L220.0 1217.3 L225.0 1225.0 L230.0 1233.3 L235.0 1241.7 L240.0 1246.2 L245.0 1248.1 L250.0 1250.0 L255.0 1251.2 L260.0 1252.5 L265.0 1254.2 L270.0 1255.8 L275.0 1257.5 L280.0 1257.8 L285.0 1258.0 L290.0 1258.2 L295.0 1258.5 L300.0 1258.8 L305.0 1258.5 L310.0 1258.2 L315.0 1258.0 L320.0 1257.8 L325.0 1257.5 L330.0 1255.2 L335.0 1252.9 L340.0 1250.6 L345.0 1248.3 L350.0 1246.0 L355.0 1242.4 L360.0 1238.8 L365.0 1235.2 L370.0 1231.6 L375.0 1228.0 L380.0 1222.0 L385.0 1216.0 L390.0 1210.0 L395.0 1210.0 L400.0 1210.0 L405.0 1210.5 L410.0 1211.0 L415.0 1211.5 L420.0 1212.0 L425.0 1212.5 L430.0 1213.5 L435.0 1214.5 L440.0 1215.5 L445.0 1216.5 L450.0 1217.5 L455.0 1218.5 L460.0 1219.5 L465.0 1220.5 L470.0 1221.5 L475.0 1222.5 L480.0 1223.4 L485.0 1224.2 L490.0 1225.1 L495.0 1226.0 L500.0 1226.6 L505.0 1227.2 L510.0 1227.9 L515.0 1228.4 L520.0 1229.0 L525.0 1229.6 L530.0 1230.2 L535.0 1230.8 L540.0 1231.4 L545.0 1232.0 L560.0 1232.0 L560.0 1400.0 L20.0 1400.0 L20.0 1172.0Z" fill="#e2e2e2"/>
<path d="M40.0 1174.4 L45.0 1177.4 L50.0 1180.4 L55.0 1181.8 L60.0 1183.2 L65.0 1184.7 L70.0 1186.1 L75.0 1187.5 L80.0 1187.0 L85.0 1186.5 L90.0 1186.0 L95.0 1185.5 L100.0 1185.0 L105.0 1186.6 L110.0 1188.2 L115.0 1189.8 L120.0 1191.4 L125.0 1193.0 L130.0 1194.2 L135.0 1195.4 L140.0 1196.6 L145.0 1197.8 L150.0 1199.0 L155.0 1200.2 L160.0 1201.4 L165.0 1202.6 L170.0 1203.8 L175.0 1205.0 L180.0 1206.0 L185.0 1207.0 L190.0 1208.0 L195.0 1209.0 L200.0 1210.0 L205.0 1213.2 L210.0 1216.3 L215.0 1221.0 L220.0 1226.8 L225.0 1232.5 L230.0 1239.8 L235.0 1247.1 L240.0 1251.2 L245.0 1253.1 L250.0 1255.0 L255.0 1256.4 L260.0 1257.8 L265.0 1259.3 L270.0 1260.9 L275.0 1262.5 L280.0 1262.8 L285.0 1263.0 L290.0 1263.2 L295.0 1263.5 L300.0 1263.8 L305.0 1263.5 L310.0 1263.2 L315.0 1263.0 L320.0 1262.8 L325.0 1262.5 L330.0 1260.2 L335.0 1258.0 L340.0 1255.7 L345.0 1253.5 L350.0 1251.2 L355.0 1247.6 L360.0 1244.1 L365.0 1240.5 L370.0 1237.0 L375.0 1233.4 L380.0 1227.8 L385.0 1222.1 L390.0 1216.5 L395.0 1216.5 L400.0 1216.5 L405.0 1216.9 L410.0 1217.3 L415.0 1217.7 L420.0 1218.1 L425.0 1218.5 L430.0 1219.4 L435.0 1220.3 L440.0 1221.2 L445.0 1222.1 L450.0 1223.0 L455.0 1223.9 L460.0 1224.8 L465.0 1225.7 L470.0 1226.6 L475.0 1227.5 L480.0 1228.3 L485.0 1229.2 L490.0 1230.0 L495.0 1230.8 L500.0 1231.3 L505.0 1231.8 L510.0 1232.3 L515.0 1232.9 L520.0 1233.5 L525.0 1234.1 L530.0 1234.7 L535.0 1235.2 L540.0 1235.8 L545.0 1236.4 L560.0 1236.4 L560.0 1400.0 L20.0 1400.0 L20.0 1174.4Z" fill="#d3d3d3"/>
<path d="M40.0 1176.8 L45.0 1179.8 L50.0 1182.8 L55.0 1184.2 L60.0 1185.7 L65.0 1187.1 L70.0 1188.6 L75.0 1190.0 L80.0 1190.0 L85.0 1190.0 L90.0 1190.0 L95.0 1190.0 L100.0 1190.0 L105.0 1191.7 L110.0 1193.4 L115.0 1195.1 L120.0 1196.8 L125.0 1198.5 L130.0 1199.9 L135.0 1201.3 L140.0 1202.7 L145.0 1204.1 L150.0 1205.5 L155.0 1206.9 L160.0 1208.3 L165.0 1209.7 L170.0 1211.1 L175.0 1212.5 L180.0 1214.0 L185.0 1215.5 L190.0 1217.0 L195.0 1218.5 L200.0 1220.0 L205.0 1224.2 L210.0 1228.5 L215.0 1232.5 L220.0 1236.2 L225.0 1240.0 L230.0 1246.2 L235.0 1252.5 L240.0 1256.2 L245.0 1258.1 L250.0 1260.0 L255.0 1261.5 L260.0 1263.0 L265.0 1264.5 L270.0 1266.0 L275.0 1267.5 L280.0 1267.8 L285.0 1268.0 L290.0 1268.2 L295.0 1268.5 L300.0 1268.8 L305.0 1268.5 L310.0 1268.2 L315.0 1268.0 L320.0 1267.8 L325.0 1267.5 L330.0 1265.3 L335.0 1263.1 L340.0 1260.8 L345.0 1258.6 L350.0 1256.4 L355.0 1252.9 L360.0 1249.4 L365.0 1245.8 L370.0 1242.3 L375.0 1238.8 L380.0 1233.5 L385.0 1228.3 L390.0 1223.0 L395.0 1223.0 L400.0 1223.0 L405.0 1223.3 L410.0 1223.6 L415.0 1223.9 L420.0 1224.2 L425.0 1224.5 L430.0 1225.3 L435.0 1226.1 L440.0 1226.9 L445.0 1227.7 L450.0 1228.5 L455.0 1229.3 L460.0 1230.1 L465.0 1230.9 L470.0 1231.7 L475.0 1232.5 L480.0 1233.3 L485.0 1234.0 L490.0 1234.8 L495.0 1235.6 L500.0 1236.0 L505.0 1236.3 L510.0 1236.8 L515.0 1237.4 L520.0 1238.0 L525.0 1238.5 L530.0 1239.1 L535.0 1239.7 L540.0 1240.2 L545.0 1240.8 L560.0 1240.8 L560.0 1400.0 L20.0 1400.0 L20.0 1176.8Z" fill="#c4c4c4"/>
<path d="M40.0 1179.2 L45.0 1182.2 L50.0 1185.2 L55.0 1186.7 L60.0 1188.1 L65.0 1189.6 L70.0 1191.0 L75.0 1192.5 L80.0 1193.0 L85.0 1193.5 L90.0 1194.0 L95.0 1194.5 L100.0 1195.0 L105.0 1196.8 L110.0 1198.6 L115.0 1200.4 L120.0 1202.2 L125.0 1204.0 L130.0 1205.6 L135.0 1207.2 L140.0 1208.8 L145.0 1210.4 L150.0 1212.0 L155.0 1213.6 L160.0 1215.2 L165.0 1216.8 L170.0 1218.4 L175.0 1220.0 L180.0 1222.0 L185.0 1224.0 L190.0 1226.0 L195.0 1228.0 L200.0 1230.0 L205.0 1235.3 L210.0 1240.7 L215.0 1243.9 L220.0 1245.7 L225.0 1247.5 L230.0 1252.7 L235.0 1257.9 L240.0 1261.2 L245.0 1263.1 L250.0 1265.0 L255.0 1266.6 L260.0 1268.2 L265.0 1269.7 L270.0 1271.1 L275.0 1272.5 L280.0 1272.8 L285.0 1273.0 L290.0 1273.2 L295.0 1273.5 L300.0 1273.8 L305.0 1273.5 L310.0 1273.2 L315.0 1273.0 L320.0 1272.8 L325.0 1272.5 L330.0 1270.3 L335.0 1268.1 L340.0 1266.0 L345.0 1263.8 L350.0 1261.6 L355.0 1258.1 L360.0 1254.6 L365.0 1251.2 L370.0 1247.7 L375.0 1244.2 L380.0 1239.3 L385.0 1234.4 L390.0 1229.5 L395.0 1229.5 L400.0 1229.5 L405.0 1229.7 L410.0 1229.9 L415.0 1230.1 L420.0 1230.3 L425.0 1230.5 L430.0 1231.2 L435.0 1231.9 L440.0 1232.6 L445.0 1233.3 L450.0 1234.0 L455.0 1234.7 L460.0 1235.4 L465.0 1236.1 L470.0 1236.8 L475.0 1237.5 L480.0 1238.2 L485.0 1239.0 L490.0 1239.7 L495.0 1240.4 L500.0 1240.7 L505.0 1240.9 L510.0 1241.3 L515.0 1241.9 L520.0 1242.4 L525.0 1243.0 L530.0 1243.5 L535.0 1244.1 L540.0 1244.6 L545.0 1245.2 L560.0 1245.2 L560.0 1400.0 L20.0 1400.0 L20.0 1179.2Z" fill="#b4b4b4"/>
<path d="M40.0 1181.6 L45.0 1184.6 L50.0 1187.6 L55.0 1189.1 L60.0 1190.6 L65.0 1192.0 L70.0 1193.5 L75.0 1195.0 L80.0 1196.0 L85.0 1197.0 L90.0 1198.0 L95.0 1199.0 L100.0 1200.0 L105.0 1201.9 L110.0 1203.8 L115.0 1205.7 L120.0 1207.6 L125.0 1209.5 L130.0 1211.3 L135.0 1213.1 L140.0 1214.9 L145.0 1216.7 L150.0 1218.5 L155.0 1220.3 L160.0 1222.1 L165.0 1223.9 L170.0 1225.7 L175.0 1227.5 L180.0 1230.0 L185.0 1232.5 L190.0 1235.0 L195.0 1237.5 L200.0 1240.0 L205.0 1246.4 L210.0 1252.8 L215.0 1255.3 L220.0 1255.2 L225.0 1255.0 L230.0 1259.2 L235.0 1263.3 L240.0 1266.2 L245.0 1268.1 L250.0 1270.0 L255.0 1271.8 L260.0 1273.5 L265.0 1274.8 L270.0 1276.2 L275.0 1277.5 L280.0 1277.8 L285.0 1278.0 L290.0 1278.2 L295.0 1278.5 L300.0 1278.8 L305.0 1278.5 L310.0 1278.2 L315.0 1278.0 L320.0 1277.8 L325.0 1277.5 L330.0 1275.4 L335.0 1273.2 L340.0 1271.1 L345.0 1268.9 L350.0 1266.8 L355.0 1263.4 L360.0 1259.9 L365.0 1256.5 L370.0 1253.0 L375.0 1249.6 L380.0 1245.1 L385.0 1240.5 L390.0 1236.0 L395.0 1236.0 L400.0 1236.0 L405.0 1236.1 L410.0 1236.2 L415.0 1236.3 L420.0 1236.4 L425.0 1236.5 L430.0 1237.1 L435.0 1237.7 L440.0 1238.3 L445.0 1238.9 L450.0 1239.5 L455.0 1240.1 L460.0 1240.7 L465.0 1241.3 L470.0 1241.9 L475.0 1242.5 L480.0 1243.2 L485.0 1243.8 L490.0 1244.5 L495.0 1245.2 L500.0 1245.3 L505.0 1245.5 L510.0 1245.8 L515.0 1246.4 L520.0 1246.9 L525.0 1247.4 L530.0 1248.0 L535.0 1248.5 L540.0 1249.1 L545.0 1249.6 L560.0 1249.6 L560.0 1400.0 L20.0 1400.0 L20.0 1181.6Z" fill="#a5a5a5"/>
<path d="M40.0 1184.0 L45.0 1187.0 L50.0 1190.0 L55.0 1191.5 L60.0 1193.0 L65.0 1194.5 L70.0 1196.0 L75.0 1197.5 L80.0 1199.0 L85.0 1200.5 L90.0 1202.0 L95.0 1203.5 L100.0 1205.0 L105.0 1207.0 L110.0 1209.0 L115.0 1211.0 L120.0 1213.0 L125.0 1215.0 L130.0 1217.0 L135.0 1219.0 L140.0 1221.0 L145.0 1223.0 L150.0 1225.0 L155.0 1227.0 L160.0 1229.0 L165.0 1231.0 L170.0 1233.0 L175.0 1235.0 L180.0 1238.0 L185.0 1241.0 L190.0 1244.0 L195.0 1247.0 L200.0 1250.0 L205.0 1257.5 L210.0 1265.0 L215.0 1266.7 L220.0 1264.6 L225.0 1262.5 L230.0 1265.6 L235.0 1268.8 L240.0 1271.2 L245.0 1273.1 L250.0 1275.0 L255.0 1276.9 L260.0 1278.8 L265.0 1280.0 L270.0 1281.2 L275.0 1282.5 L280.0 1282.8 L285.0 1283.0 L290.0 1283.2 L295.0 1283.5 L300.0 1283.8 L305.0 1283.5 L310.0 1283.2 L315.0 1283.0 L320.0 1282.8 L325.0 1282.5 L330.0 1280.4 L335.0 1278.3 L340.0 1276.2 L345.0 1274.1 L350.0 1272.0 L355.0 1268.6 L360.0 1265.2 L365.0 1261.8 L370.0 1258.4 L375.0 1255.0 L380.0 1250.8 L385.0 1246.7 L390.0 1242.5 L395.0 1242.5 L400.0 1242.5 L405.0 1242.5 L410.0 1242.5 L415.0 1242.5 L420.0 1242.5 L425.0 1242.5 L430.0 1243.0 L435.0 1243.5 L440.0 1244.0 L445.0 1244.5 L450.0 1245.0 L455.0 1245.5 L460.0 1246.0 L465.0 1246.5 L470.0 1247.0 L475.0 1247.5 L480.0 1248.1 L485.0 1248.8 L490.0 1249.4 L495.0 1250.0 L500.0 1250.0 L505.0 1250.0 L510.0 1250.3 L515.0 1250.8 L520.0 1251.4 L525.0 1251.9 L530.0 1252.4 L535.0 1252.9 L540.0 1253.5 L545.0 1254.0 L560.0 1254.0 L560.0 1400.0 L20.0 1400.0 L20.0 1184.0Z" fill="#969696"/>
<path d="M40.0 1186.0 L45.0 1189.0 L50.0 1192.0 L55.0 1193.5 L60.0 1195.0 L65.0 1196.5 L70.0 1198.0 L75.0 1199.5 L80.0 1201.4 L85.0 1203.3 L90.0 1205.2 L95.0 1207.1 L100.0 1209.0 L105.0 1211.2 L110.0 1213.4 L115.0 1215.6 L120.0 1217.8 L125.0 1220.0 L130.0 1222.0 L135.0 1224.0 L140.0 1226.0 L145.0 1228.0 L150.0 1230.0 L155.0 1232.0 L160.0 1234.0 L165.0 1236.0 L170.0 1238.0 L175.0 1240.0 L180.0 1242.7 L185.0 1245.4 L190.0 1248.1 L195.0 1250.8 L200.0 1253.5 L205.0 1260.8 L210.0 1268.1 L215.0 1270.1 L220.0 1268.5 L225.0 1267.0 L230.0 1269.5 L235.0 1272.0 L240.0 1274.4 L245.0 1276.8 L250.0 1279.2 L255.0 1281.1 L260.0 1283.0 L265.0 1284.2 L270.0 1285.3 L275.0 1286.5 L280.0 1286.8 L285.0 1287.0 L290.0 1287.2 L295.0 1287.5 L300.0 1287.8 L305.0 1287.5 L310.0 1287.2 L315.0 1287.0 L320.0 1286.8 L325.0 1286.5 L330.0 1284.5 L335.0 1282.5 L340.0 1280.6 L345.0 1278.6 L350.0 1276.6 L355.0 1273.5 L360.0 1270.4 L365.0 1267.2 L370.0 1264.1 L375.0 1261.0 L380.0 1257.3 L385.0 1253.5 L390.0 1249.8 L395.0 1249.4 L400.0 1249.0 L405.0 1248.8 L410.0 1248.6 L415.0 1248.4 L420.0 1248.2 L425.0 1248.0 L430.0 1248.4 L435.0 1248.8 L440.0 1249.2 L445.0 1249.6 L450.0 1250.0 L455.0 1250.4 L460.0 1250.9 L465.0 1251.3 L470.0 1251.8 L475.0 1252.2 L480.0 1252.8 L485.0 1253.3 L490.0 1253.9 L495.0 1254.5 L500.0 1254.5 L505.0 1254.6 L510.0 1254.9 L515.0 1255.4 L520.0 1256.0 L525.0 1256.5 L530.0 1257.0 L535.0 1257.5 L540.0 1258.1 L545.0 1258.6 L560.0 1258.6 L560.0 1400.0 L20.0 1400.0 L20.0 1186.0Z" fill="#868686"/>
<path d="M40.0 1188.0 L45.0 1191.0 L50.0 1194.0 L55.0 1195.5 L60.0 1197.0 L65.0 1198.5 L70.0 1200.0 L75.0 1201.5 L80.0 1203.8 L85.0 1206.1 L90.0 1208.4 L95.0 1210.7 L100.0 1213.0 L105.0 1215.4 L110.0 1217.8 L115.0 1220.2 L120.0 1222.6 L125.0 1225.0 L130.0 1227.0 L135.0 1229.0 L140.0 1231.0 L145.0 1233.0 L150.0 1235.0 L155.0 1237.0 L160.0 1239.0 L165.0 1241.0 L170.0 1243.0 L175.0 1245.0 L180.0 1247.4 L185.0 1249.8 L190.0 1252.2 L195.0 1254.6 L200.0 1257.0 L205.0 1264.1 L210.0 1271.2 L215.0 1273.4 L220.0 1272.5 L225.0 1271.5 L230.0 1273.4 L235.0 1275.2 L240.0 1277.7 L245.0 1280.6 L250.0 1283.4 L255.0 1285.3 L260.0 1287.2 L265.0 1288.3 L270.0 1289.4 L275.0 1290.5 L280.0 1290.8 L285.0 1291.0 L290.0 1291.2 L295.0 1291.5 L300.0 1291.8 L305.0 1291.5 L310.0 1291.2 L315.0 1291.0 L320.0 1290.8 L325.0 1290.5 L330.0 1288.6 L335.0 1286.8 L340.0 1284.9 L345.0 1283.1 L350.0 1281.2 L355.0 1278.4 L360.0 1275.5 L365.0 1272.7 L370.0 1269.8 L375.0 1267.0 L380.0 1263.7 L385.0 1260.4 L390.0 1257.1 L395.0 1256.3 L400.0 1255.5 L405.0 1255.1 L410.0 1254.7 L415.0 1254.3 L420.0 1253.9 L425.0 1253.5 L430.0 1253.8 L435.0 1254.1 L440.0 1254.4 L445.0 1254.7 L450.0 1255.0 L455.0 1255.4 L460.0 1255.8 L465.0 1256.1 L470.0 1256.5 L475.0 1256.9 L480.0 1257.4 L485.0 1258.0 L490.0 1258.5 L495.0 1259.0 L500.0 1259.1 L505.0 1259.2 L510.0 1259.5 L515.0 1260.0 L520.0 1260.6 L525.0 1261.1 L530.0 1261.6 L535.0 1262.1 L540.0 1262.7 L545.0 1263.2 L560.0 1263.2 L560.0 1400.0 L20.0 1400.0 L20.0 1188.0Z" fill="#767676"/>
<path d="M40.0 1190.0 L45.0 1193.0 L50.0 1196.0 L55.0 1197.5 L60.0 1199.0 L65.0 1200.5 L70.0 1202.0 L75.0 1203.5 L80.0 1206.2 L85.0 1208.9 L90.0 1211.6 L95.0 1214.3 L100.0 1217.0 L105.0 1219.6 L110.0 1222.2 L115.0 1224.8 L120.0 1227.4 L125.0 1230.0 L130.0 1232.0 L135.0 1234.0 L140.0 1236.0 L145.0 1238.0 L150.0 1240.0 L155.0 1242.0 L160.0 1244.0 L165.0 1246.0 L170.0 1248.0 L175.0 1250.0 L180.0 1252.1 L185.0 1254.2 L190.0 1256.3 L195.0 1258.4 L200.0 1260.5 L205.0 1267.4 L210.0 1274.2 L215.0 1276.8 L220.0 1276.4 L225.0 1276.0 L230.0 1277.2 L235.0 1278.5 L240.0 1281.0 L245.0 1284.3 L250.0 1287.6 L255.0 1289.5 L260.0 1291.5 L265.0 1292.5 L270.0 1293.5 L275.0 1294.5 L280.0 1294.8 L285.0 1295.0 L290.0 1295.2 L295.0 1295.5 L300.0 1295.8 L305.0 1295.5 L310.0 1295.2 L315.0 1295.0 L320.0 1294.8 L325.0 1294.5 L330.0 1292.8 L335.0 1291.0 L340.0 1289.3 L345.0 1287.5 L350.0 1285.8 L355.0 1283.2 L360.0 1280.7 L365.0 1278.1 L370.0 1275.6 L375.0 1273.0 L380.0 1270.1 L385.0 1267.3 L390.0 1264.4 L395.0 1263.2 L400.0 1262.0 L405.0 1261.4 L410.0 1260.8 L415.0 1260.2 L420.0 1259.6 L425.0 1259.0 L430.0 1259.2 L435.0 1259.4 L440.0 1259.6 L445.0 1259.8 L450.0 1260.0 L455.0 1260.3 L460.0 1260.6 L465.0 1261.0 L470.0 1261.3 L475.0 1261.6 L480.0 1262.1 L485.0 1262.5 L490.0 1263.0 L495.0 1263.5 L500.0 1263.6 L505.0 1263.8 L510.0 1264.1 L515.0 1264.6 L520.0 1265.2 L525.0 1265.7 L530.0 1266.2 L535.0 1266.7 L540.0 1267.3 L545.0 1267.8 L560.0 1267.8 L560.0 1400.0 L20.0 1400.0 L20.0 1190.0Z" fill="#666666"/>
<path d="M40.0 1192.0 L45.0 1195.0 L50.0 1198.0 L55.0 1199.5 L60.0 1201.0 L65.0 1202.5 L70.0 1204.0 L75.0 1205.5 L80.0 1208.6 L85.0 1211.7 L90.0 1214.8 L95.0 1217.9 L100.0 1221.0 L105.0 1223.8 L110.0 1226.6 L115.0 1229.4 L120.0 1232.2 L125.0 1235.0 L130.0 1237.0 L135.0 1239.0 L140.0 1241.0 L145.0 1243.0 L150.0 1245.0 L155.0 1247.0 L160.0 1249.0 L165.0 1251.0 L170.0 1253.0 L175.0 1255.0 L180.0 1256.8 L185.0 1258.6 L190.0 1260.4 L195.0 1262.2 L200.0 1264.0 L205.0 1270.7 L210.0 1277.3 L215.0 1280.1 L220.0 1280.3 L225.0 1280.5 L230.0 1281.1 L235.0 1281.8 L240.0 1284.3 L245.0 1288.0 L250.0 1291.8 L255.0 1293.8 L260.0 1295.8 L265.0 1296.7 L270.0 1297.6 L275.0 1298.5 L280.0 1298.8 L285.0 1299.0 L290.0 1299.2 L295.0 1299.5 L300.0 1299.8 L305.0 1299.5 L310.0 1299.2 L315.0 1299.0 L320.0 1298.8 L325.0 1298.5 L330.0 1296.9 L335.0 1295.3 L340.0 1293.6 L345.0 1292.0 L350.0 1290.4 L355.0 1288.1 L360.0 1285.8 L365.0 1283.6 L370.0 1281.3 L375.0 1279.0 L380.0 1276.6 L385.0 1274.1 L390.0 1271.7 L395.0 1270.1 L400.0 1268.5 L405.0 1267.7 L410.0 1266.9 L415.0 1266.1 L420.0 1265.3 L425.0 1264.5 L430.0 1264.6 L435.0 1264.7 L440.0 1264.8 L445.0 1264.9 L450.0 1265.0 L455.0 1265.3 L460.0 1265.5 L465.0 1265.8 L470.0 1266.0 L475.0 1266.3 L480.0 1266.7 L485.0 1267.2 L490.0 1267.6 L495.0 1268.0 L500.0 1268.2 L505.0 1268.3 L510.0 1268.7 L515.0 1269.2 L520.0 1269.8 L525.0 1270.3 L530.0 1270.8 L535.0 1271.3 L540.0 1271.9 L545.0 1272.4 L560.0 1272.4 L560.0 1400.0 L20.0 1400.0 L20.0 1192.0Z" fill="#565656"/>
<path d="M40.0 1194.0 L45.0 1197.0 L50.0 1200.0 L55.0 1201.5 L60.0 1203.0 L65.0 1204.5 L70.0 1206.0 L75.0 1207.5 L80.0 1211.0 L85.0 1214.5 L90.0 1218.0 L95.0 1221.5 L100.0 1225.0 L105.0 1228.0 L110.0 1231.0 L115.0 1234.0 L120.0 1237.0 L125.0 1240.0 L130.0 1242.0 L135.0 1244.0 L140.0 1246.0 L145.0 1248.0 L150.0 1250.0 L155.0 1252.0 L160.0 1254.0 L165.0 1256.0 L170.0 1258.0 L175.0 1260.0 L180.0 1261.5 L185.0 1263.0 L190.0 1264.5 L195.0 1266.0 L200.0 1267.5 L205.0 1274.0 L210.0 1280.4 L215.0 1283.5 L220.0 1284.2 L225.0 1285.0 L230.0 1285.0 L235.0 1285.0 L240.0 1287.5 L245.0 1291.8 L250.0 1296.0 L255.0 1298.0 L260.0 1300.0 L265.0 1300.8 L270.0 1301.7 L275.0 1302.5 L280.0 1302.8 L285.0 1303.0 L290.0 1303.2 L295.0 1303.5 L300.0 1303.8 L305.0 1303.5 L310.0 1303.2 L315.0 1303.0 L320.0 1302.8 L325.0 1302.5 L330.0 1301.0 L335.0 1299.5 L340.0 1298.0 L345.0 1296.5 L350.0 1295.0 L355.0 1293.0 L360.0 1291.0 L365.0 1289.0 L370.0 1287.0 L375.0 1285.0 L380.0 1283.0 L385.0 1281.0 L390.0 1279.0 L395.0 1277.0 L400.0 1275.0 L405.0 1274.0 L410.0 1273.0 L415.0 1272.0 L420.0 1271.0 L425.0 1270.0 L430.0 1270.0 L435.0 1270.0 L440.0 1270.0 L445.0 1270.0 L450.0 1270.0 L455.0 1270.2 L460.0 1270.4 L465.0 1270.6 L470.0 1270.8 L475.0 1271.0 L480.0 1271.4 L485.0 1271.8 L490.0 1272.1 L495.0 1272.5 L500.0 1272.7 L505.0 1272.9 L510.0 1273.3 L515.0 1273.8 L520.0 1274.4 L525.0 1274.9 L530.0 1275.4 L535.0 1275.9 L540.0 1276.5 L545.0 1277.0 L560.0 1277.0 L560.0 1400.0 L20.0 1400.0 L20.0 1194.0Z" fill="#464646"/>
<path d="M40.0 1195.7 L45.0 1198.7 L50.0 1201.8 L55.0 1203.3 L60.0 1204.8 L65.0 1206.3 L70.0 1207.8 L75.0 1209.2 L80.0 1212.7 L85.0 1216.1 L90.0 1219.6 L95.0 1223.0 L100.0 1226.5 L105.0 1229.6 L110.0 1232.6 L115.0 1235.7 L120.0 1238.7 L125.0 1241.8 L130.0 1243.8 L135.0 1245.8 L140.0 1247.8 L145.0 1249.8 L150.0 1251.8 L155.0 1253.7 L160.0 1255.7 L165.0 1257.6 L170.0 1259.6 L175.0 1261.5 L180.0 1263.1 L185.0 1264.7 L190.0 1266.4 L195.0 1268.0 L200.0 1269.6 L205.0 1275.8 L210.0 1282.0 L215.0 1285.0 L220.0 1285.9 L225.0 1286.8 L230.0 1287.0 L235.0 1287.1 L240.0 1289.6 L245.0 1293.6 L250.0 1297.7 L255.0 1299.7 L260.0 1301.8 L265.0 1302.6 L270.0 1303.3 L275.0 1304.1 L280.0 1304.3 L285.0 1304.6 L290.0 1304.8 L295.0 1305.0 L300.0 1305.2 L305.0 1305.0 L310.0 1304.7 L315.0 1304.5 L320.0 1304.2 L325.0 1304.0 L330.0 1302.6 L335.0 1301.1 L340.0 1299.7 L345.0 1298.2 L350.0 1296.8 L355.0 1294.9 L360.0 1292.9 L365.0 1291.0 L370.0 1289.1 L375.0 1287.2 L380.0 1285.3 L385.0 1283.5 L390.0 1281.7 L395.0 1279.8 L400.0 1278.0 L405.0 1277.0 L410.0 1276.0 L415.0 1275.1 L420.0 1274.1 L425.0 1273.1 L430.0 1273.0 L435.0 1273.0 L440.0 1272.9 L445.0 1272.8 L450.0 1272.7 L455.0 1272.8 L460.0 1272.9 L465.0 1273.0 L470.0 1273.1 L475.0 1273.2 L480.0 1273.4 L485.0 1273.6 L490.0 1273.9 L495.0 1274.1 L500.0 1274.3 L505.0 1274.5 L510.0 1274.9 L515.0 1275.4 L520.0 1275.9 L525.0 1276.5 L530.0 1277.0 L535.0 1277.5 L540.0 1278.0 L545.0 1278.6 L560.0 1278.6 L560.0 1400.0 L20.0 1400.0 L20.0 1195.7Z" fill="#444848"/>
<path d="M40.0 1197.4 L45.0 1200.5 L50.0 1203.6 L55.0 1205.1 L60.0 1206.6 L65.0 1208.0 L70.0 1209.5 L75.0 1211.0 L80.0 1214.4 L85.0 1217.8 L90.0 1221.2 L95.0 1224.6 L100.0 1228.0 L105.0 1231.1 L110.0 1234.2 L115.0 1237.4 L120.0 1240.5 L125.0 1243.6 L130.0 1245.6 L135.0 1247.6 L140.0 1249.6 L145.0 1251.6 L150.0 1253.6 L155.0 1255.5 L160.0 1257.4 L165.0 1259.2 L170.0 1261.1 L175.0 1263.0 L180.0 1264.7 L185.0 1266.5 L190.0 1268.2 L195.0 1270.0 L200.0 1271.7 L205.0 1277.6 L210.0 1283.5 L215.0 1286.5 L220.0 1287.6 L225.0 1288.6 L230.0 1288.9 L235.0 1289.2 L240.0 1291.6 L245.0 1295.5 L250.0 1299.4 L255.0 1301.5 L260.0 1303.6 L265.0 1304.3 L270.0 1305.0 L275.0 1305.7 L280.0 1305.9 L285.0 1306.1 L290.0 1306.3 L295.0 1306.5 L300.0 1306.7 L305.0 1306.5 L310.0 1306.2 L315.0 1306.0 L320.0 1305.7 L325.0 1305.5 L330.0 1304.1 L335.0 1302.7 L340.0 1301.4 L345.0 1300.0 L350.0 1298.6 L355.0 1296.7 L360.0 1294.9 L365.0 1293.0 L370.0 1291.2 L375.0 1289.3 L380.0 1287.7 L385.0 1286.0 L390.0 1284.3 L395.0 1282.7 L400.0 1281.0 L405.0 1280.0 L410.0 1279.1 L415.0 1278.1 L420.0 1277.2 L425.0 1276.2 L430.0 1276.1 L435.0 1275.9 L440.0 1275.7 L445.0 1275.6 L450.0 1275.4 L455.0 1275.4 L460.0 1275.4 L465.0 1275.4 L470.0 1275.3 L475.0 1275.3 L480.0 1275.4 L485.0 1275.5 L490.0 1275.6 L495.0 1275.7 L500.0 1275.9 L505.0 1276.1 L510.0 1276.4 L515.0 1277.0 L520.0 1277.5 L525.0 1278.0 L530.0 1278.5 L535.0 1279.1 L540.0 1279.6 L545.0 1280.1 L560.0 1280.1 L560.0 1400.0 L20.0 1400.0 L20.0 1197.4Z" fill="#434a49"/>
<path d="M40.0 1199.0 L45.0 1202.2 L50.0 1205.4 L55.0 1206.9 L60.0 1208.3 L65.0 1209.8 L70.0 1211.3 L75.0 1212.7 L80.0 1216.1 L85.0 1219.4 L90.0 1222.8 L95.0 1226.1 L100.0 1229.5 L105.0 1232.7 L110.0 1235.9 L115.0 1239.0 L120.0 1242.2 L125.0 1245.4 L130.0 1247.4 L135.0 1249.4 L140.0 1251.4 L145.0 1253.4 L150.0 1255.4 L155.0 1257.2 L160.0 1259.0 L165.0 1260.9 L170.0 1262.7 L175.0 1264.5 L180.0 1266.4 L185.0 1268.2 L190.0 1270.1 L195.0 1271.9 L200.0 1273.8 L205.0 1279.4 L210.0 1285.1 L215.0 1288.0 L220.0 1289.2 L225.0 1290.4 L230.0 1290.8 L235.0 1291.3 L240.0 1293.7 L245.0 1297.4 L250.0 1301.0 L255.0 1303.2 L260.0 1305.4 L265.0 1306.1 L270.0 1306.7 L275.0 1307.4 L280.0 1307.5 L285.0 1307.7 L290.0 1307.8 L295.0 1308.0 L300.0 1308.2 L305.0 1307.9 L310.0 1307.7 L315.0 1307.5 L320.0 1307.2 L325.0 1307.0 L330.0 1305.7 L335.0 1304.4 L340.0 1303.0 L345.0 1301.7 L350.0 1300.4 L355.0 1298.6 L360.0 1296.8 L365.0 1295.0 L370.0 1293.3 L375.0 1291.5 L380.0 1290.0 L385.0 1288.5 L390.0 1287.0 L395.0 1285.5 L400.0 1284.0 L405.0 1283.1 L410.0 1282.1 L415.0 1281.2 L420.0 1280.3 L425.0 1279.4 L430.0 1279.1 L435.0 1278.9 L440.0 1278.6 L445.0 1278.4 L450.0 1278.1 L455.0 1278.0 L460.0 1277.9 L465.0 1277.7 L470.0 1277.6 L475.0 1277.5 L480.0 1277.5 L485.0 1277.4 L490.0 1277.4 L495.0 1277.4 L500.0 1277.5 L505.0 1277.6 L510.0 1278.0 L515.0 1278.5 L520.0 1279.0 L525.0 1279.6 L530.0 1280.1 L535.0 1280.6 L540.0 1281.2 L545.0 1281.7 L560.0 1281.7 L560.0 1400.0 L20.0 1400.0 L20.0 1199.0Z" fill="#414c4b"/>
<path d="M40.0 1200.7 L45.0 1204.0 L50.0 1207.2 L55.0 1208.7 L60.0 1210.1 L65.0 1211.6 L70.0 1213.0 L75.0 1214.5 L80.0 1217.8 L85.0 1221.1 L90.0 1224.4 L95.0 1227.7 L100.0 1231.0 L105.0 1234.2 L110.0 1237.5 L115.0 1240.7 L120.0 1244.0 L125.0 1247.2 L130.0 1249.2 L135.0 1251.2 L140.0 1253.2 L145.0 1255.2 L150.0 1257.2 L155.0 1259.0 L160.0 1260.7 L165.0 1262.5 L170.0 1264.2 L175.0 1266.0 L180.0 1268.0 L185.0 1270.0 L190.0 1271.9 L195.0 1273.9 L200.0 1275.9 L205.0 1281.3 L210.0 1286.6 L215.0 1289.6 L220.0 1290.9 L225.0 1292.2 L230.0 1292.8 L235.0 1293.4 L240.0 1295.7 L245.0 1299.2 L250.0 1302.7 L255.0 1305.0 L260.0 1307.2 L265.0 1307.8 L270.0 1308.4 L275.0 1309.0 L280.0 1309.1 L285.0 1309.2 L290.0 1309.4 L295.0 1309.5 L300.0 1309.6 L305.0 1309.4 L310.0 1309.2 L315.0 1309.0 L320.0 1308.7 L325.0 1308.5 L330.0 1307.2 L335.0 1306.0 L340.0 1304.7 L345.0 1303.5 L350.0 1302.2 L355.0 1300.5 L360.0 1298.8 L365.0 1297.1 L370.0 1295.4 L375.0 1293.6 L380.0 1292.3 L385.0 1291.0 L390.0 1289.7 L395.0 1288.3 L400.0 1287.0 L405.0 1286.1 L410.0 1285.2 L415.0 1284.3 L420.0 1283.4 L425.0 1282.5 L430.0 1282.1 L435.0 1281.8 L440.0 1281.5 L445.0 1281.1 L450.0 1280.8 L455.0 1280.6 L460.0 1280.3 L465.0 1280.1 L470.0 1279.9 L475.0 1279.6 L480.0 1279.5 L485.0 1279.3 L490.0 1279.1 L495.0 1279.0 L500.0 1279.1 L505.0 1279.2 L510.0 1279.6 L515.0 1280.1 L520.0 1280.6 L525.0 1281.1 L530.0 1281.7 L535.0 1282.2 L540.0 1282.7 L545.0 1283.2 L560.0 1283.2 L560.0 1400.0 L20.0 1400.0 L20.0 1200.7Z" fill="#404e4c"/>
<path d="M40.0 1202.4 L45.0 1205.7 L50.0 1209.0 L55.0 1210.4 L60.0 1211.9 L65.0 1213.3 L70.0 1214.8 L75.0 1216.2 L80.0 1219.5 L85.0 1222.7 L90.0 1226.0 L95.0 1229.2 L100.0 1232.5 L105.0 1235.8 L110.0 1239.1 L115.0 1242.4 L120.0 1245.7 L125.0 1249.0 L130.0 1251.0 L135.0 1253.0 L140.0 1255.0 L145.0 1257.0 L150.0 1259.0 L155.0 1260.7 L160.0 1262.4 L165.0 1264.1 L170.0 1265.8 L175.0 1267.5 L180.0 1269.6 L185.0 1271.7 L190.0 1273.8 L195.0 1275.9 L200.0 1278.0 L205.0 1283.1 L210.0 1288.2 L215.0 1291.1 L220.0 1292.5 L225.0 1294.0 L230.0 1294.8 L235.0 1295.5 L240.0 1297.8 L245.0 1301.1 L250.0 1304.4 L255.0 1306.7 L260.0 1309.0 L265.0 1309.5 L270.0 1310.1 L275.0 1310.6 L280.0 1310.7 L285.0 1310.8 L290.0 1310.9 L295.0 1311.0 L300.0 1311.1 L305.0 1310.9 L310.0 1310.7 L315.0 1310.4 L320.0 1310.2 L325.0 1310.0 L330.0 1308.8 L335.0 1307.6 L340.0 1306.4 L345.0 1305.2 L350.0 1304.0 L355.0 1302.4 L360.0 1300.7 L365.0 1299.1 L370.0 1297.4 L375.0 1295.8 L380.0 1294.6 L385.0 1293.5 L390.0 1292.3 L395.0 1291.2 L400.0 1290.0 L405.0 1289.1 L410.0 1288.2 L415.0 1287.4 L420.0 1286.5 L425.0 1285.6 L430.0 1285.2 L435.0 1284.8 L440.0 1284.3 L445.0 1283.9 L450.0 1283.5 L455.0 1283.2 L460.0 1282.8 L465.0 1282.5 L470.0 1282.1 L475.0 1281.8 L480.0 1281.5 L485.0 1281.2 L490.0 1280.9 L495.0 1280.6 L500.0 1280.7 L505.0 1280.8 L510.0 1281.1 L515.0 1281.6 L520.0 1282.2 L525.0 1282.7 L530.0 1283.2 L535.0 1283.7 L540.0 1284.3 L545.0 1284.8 L560.0 1284.8 L560.0 1400.0 L20.0 1400.0 L20.0 1202.4Z" fill="#3e504e"/>
<path d="M40.0 1203.5 L45.0 1206.9 L50.0 1210.2 L55.0 1211.6 L60.0 1213.1 L65.0 1214.5 L70.0 1215.9 L75.0 1217.4 L80.0 1220.6 L85.0 1223.8 L90.0 1227.0 L95.0 1230.3 L100.0 1233.5 L105.0 1236.8 L110.0 1240.2 L115.0 1243.5 L120.0 1246.9 L125.0 1250.2 L130.0 1252.2 L135.0 1254.2 L140.0 1256.2 L145.0 1258.2 L150.0 1260.2 L155.0 1261.9 L160.0 1263.5 L165.0 1265.2 L170.0 1266.8 L175.0 1268.5 L180.0 1270.7 L185.0 1272.9 L190.0 1275.0 L195.0 1277.2 L200.0 1279.4 L205.0 1284.3 L210.0 1289.2 L215.0 1292.1 L220.0 1293.6 L225.0 1295.2 L230.0 1296.0 L235.0 1296.9 L240.0 1299.2 L245.0 1302.3 L250.0 1305.5 L255.0 1307.9 L260.0 1310.2 L265.0 1310.7 L270.0 1311.2 L275.0 1311.7 L280.0 1311.8 L285.0 1311.8 L290.0 1311.9 L295.0 1312.0 L300.0 1312.1 L305.0 1311.9 L310.0 1311.6 L315.0 1311.4 L320.0 1311.2 L325.0 1311.0 L330.0 1309.8 L335.0 1308.7 L340.0 1307.5 L345.0 1306.4 L350.0 1305.2 L355.0 1303.6 L360.0 1302.0 L365.0 1300.4 L370.0 1298.8 L375.0 1297.2 L380.0 1296.2 L385.0 1295.1 L390.0 1294.1 L395.0 1293.0 L400.0 1292.0 L405.0 1291.1 L410.0 1290.3 L415.0 1289.4 L420.0 1288.5 L425.0 1287.7 L430.0 1287.2 L435.0 1286.7 L440.0 1286.3 L445.0 1285.8 L450.0 1285.3 L455.0 1284.9 L460.0 1284.5 L465.0 1284.1 L470.0 1283.7 L475.0 1283.2 L480.0 1282.8 L485.0 1282.5 L490.0 1282.1 L495.0 1281.7 L500.0 1281.7 L505.0 1281.8 L510.0 1282.2 L515.0 1282.7 L520.0 1283.2 L525.0 1283.7 L530.0 1284.3 L535.0 1284.8 L540.0 1285.3 L545.0 1285.8 L560.0 1285.8 L560.0 1400.0 L20.0 1400.0 L20.0 1203.5Z" fill="#405c5a"/>
<path d="M40.0 1204.6 L45.0 1208.0 L50.0 1211.4 L55.0 1212.8 L60.0 1214.2 L65.0 1215.7 L70.0 1217.1 L75.0 1218.5 L80.0 1221.7 L85.0 1224.9 L90.0 1228.1 L95.0 1231.3 L100.0 1234.5 L105.0 1237.9 L110.0 1241.3 L115.0 1244.6 L120.0 1248.0 L125.0 1251.4 L130.0 1253.4 L135.0 1255.4 L140.0 1257.4 L145.0 1259.4 L150.0 1261.4 L155.0 1263.0 L160.0 1264.6 L165.0 1266.3 L170.0 1267.9 L175.0 1269.5 L180.0 1271.8 L185.0 1274.0 L190.0 1276.3 L195.0 1278.5 L200.0 1280.8 L205.0 1285.5 L210.0 1290.2 L215.0 1293.1 L220.0 1294.8 L225.0 1296.4 L230.0 1297.3 L235.0 1298.3 L240.0 1300.5 L245.0 1303.6 L250.0 1306.6 L255.0 1309.0 L260.0 1311.4 L265.0 1311.9 L270.0 1312.3 L275.0 1312.8 L280.0 1312.8 L285.0 1312.9 L290.0 1312.9 L295.0 1313.0 L300.0 1313.1 L305.0 1312.8 L310.0 1312.6 L315.0 1312.4 L320.0 1312.2 L325.0 1312.0 L330.0 1310.9 L335.0 1309.8 L340.0 1308.6 L345.0 1307.5 L350.0 1306.4 L355.0 1304.9 L360.0 1303.3 L365.0 1301.8 L370.0 1300.2 L375.0 1298.7 L380.0 1297.7 L385.0 1296.8 L390.0 1295.9 L395.0 1294.9 L400.0 1294.0 L405.0 1293.2 L410.0 1292.3 L415.0 1291.5 L420.0 1290.6 L425.0 1289.8 L430.0 1289.2 L435.0 1288.7 L440.0 1288.2 L445.0 1287.6 L450.0 1287.1 L455.0 1286.6 L460.0 1286.1 L465.0 1285.6 L470.0 1285.2 L475.0 1284.7 L480.0 1284.2 L485.0 1283.7 L490.0 1283.2 L495.0 1282.8 L500.0 1282.8 L505.0 1282.9 L510.0 1283.2 L515.0 1283.7 L520.0 1284.2 L525.0 1284.8 L530.0 1285.3 L535.0 1285.8 L540.0 1286.4 L545.0 1286.9 L560.0 1286.9 L560.0 1400.0 L20.0 1400.0 L20.0 1204.6Z" fill="#436865"/>
<path d="M40.0 1205.8 L45.0 1209.2 L50.0 1212.6 L55.0 1214.0 L60.0 1215.4 L65.0 1216.8 L70.0 1218.3 L75.0 1219.7 L80.0 1222.8 L85.0 1226.0 L90.0 1229.2 L95.0 1232.3 L100.0 1235.5 L105.0 1238.9 L110.0 1242.3 L115.0 1245.8 L120.0 1249.2 L125.0 1252.6 L130.0 1254.6 L135.0 1256.6 L140.0 1258.6 L145.0 1260.6 L150.0 1262.6 L155.0 1264.2 L160.0 1265.8 L165.0 1267.3 L170.0 1268.9 L175.0 1270.5 L180.0 1272.8 L185.0 1275.2 L190.0 1277.5 L195.0 1279.9 L200.0 1282.2 L205.0 1286.7 L210.0 1291.3 L215.0 1294.1 L220.0 1295.9 L225.0 1297.6 L230.0 1298.7 L235.0 1299.7 L240.0 1301.9 L245.0 1304.8 L250.0 1307.8 L255.0 1310.2 L260.0 1312.6 L265.0 1313.0 L270.0 1313.4 L275.0 1313.8 L280.0 1313.9 L285.0 1313.9 L290.0 1314.0 L295.0 1314.0 L300.0 1314.0 L305.0 1313.8 L310.0 1313.6 L315.0 1313.4 L320.0 1313.2 L325.0 1313.0 L330.0 1311.9 L335.0 1310.8 L340.0 1309.8 L345.0 1308.7 L350.0 1307.6 L355.0 1306.1 L360.0 1304.6 L365.0 1303.1 L370.0 1301.6 L375.0 1300.1 L380.0 1299.3 L385.0 1298.5 L390.0 1297.6 L395.0 1296.8 L400.0 1296.0 L405.0 1295.2 L410.0 1294.3 L415.0 1293.5 L420.0 1292.7 L425.0 1291.8 L430.0 1291.3 L435.0 1290.7 L440.0 1290.1 L445.0 1289.5 L450.0 1288.9 L455.0 1288.3 L460.0 1287.8 L465.0 1287.2 L470.0 1286.7 L475.0 1286.1 L480.0 1285.5 L485.0 1285.0 L490.0 1284.4 L495.0 1283.8 L500.0 1283.9 L505.0 1283.9 L510.0 1284.2 L515.0 1284.8 L520.0 1285.3 L525.0 1285.8 L530.0 1286.3 L535.0 1286.9 L540.0 1287.4 L545.0 1287.9 L560.0 1287.9 L560.0 1400.0 L20.0 1400.0 L20.0 1205.8Z" fill="#457471"/>
<path d="M40.0 1206.9 L45.0 1210.3 L50.0 1213.8 L55.0 1215.2 L60.0 1216.6 L65.0 1218.0 L70.0 1219.4 L75.0 1220.8 L80.0 1224.0 L85.0 1227.1 L90.0 1230.2 L95.0 1233.4 L100.0 1236.5 L105.0 1240.0 L110.0 1243.4 L115.0 1246.9 L120.0 1250.3 L125.0 1253.8 L130.0 1255.8 L135.0 1257.8 L140.0 1259.8 L145.0 1261.8 L150.0 1263.8 L155.0 1265.3 L160.0 1266.9 L165.0 1268.4 L170.0 1270.0 L175.0 1271.5 L180.0 1273.9 L185.0 1276.3 L190.0 1278.8 L195.0 1281.2 L200.0 1283.6 L205.0 1288.0 L210.0 1292.3 L215.0 1295.1 L220.0 1297.0 L225.0 1298.8 L230.0 1300.0 L235.0 1301.1 L240.0 1303.2 L245.0 1306.1 L250.0 1308.9 L255.0 1311.3 L260.0 1313.8 L265.0 1314.2 L270.0 1314.5 L275.0 1314.9 L280.0 1314.9 L285.0 1315.0 L290.0 1315.0 L295.0 1315.0 L300.0 1315.0 L305.0 1314.8 L310.0 1314.6 L315.0 1314.4 L320.0 1314.2 L325.0 1314.0 L330.0 1313.0 L335.0 1311.9 L340.0 1310.9 L345.0 1309.8 L350.0 1308.8 L355.0 1307.4 L360.0 1305.9 L365.0 1304.5 L370.0 1303.0 L375.0 1301.6 L380.0 1300.8 L385.0 1300.1 L390.0 1299.4 L395.0 1298.7 L400.0 1298.0 L405.0 1297.2 L410.0 1296.4 L415.0 1295.6 L420.0 1294.7 L425.0 1293.9 L430.0 1293.3 L435.0 1292.6 L440.0 1292.0 L445.0 1291.3 L450.0 1290.7 L455.0 1290.1 L460.0 1289.4 L465.0 1288.8 L470.0 1288.2 L475.0 1287.6 L480.0 1286.9 L485.0 1286.2 L490.0 1285.6 L495.0 1284.9 L500.0 1284.9 L505.0 1285.0 L510.0 1285.3 L515.0 1285.8 L520.0 1286.3 L525.0 1286.9 L530.0 1287.4 L535.0 1287.9 L540.0 1288.4 L545.0 1289.0 L560.0 1289.0 L560.0 1400.0 L20.0 1400.0 L20.0 1206.9Z" fill="#48807c"/>
<path d="M40.0 1208.0 L45.0 1211.5 L50.0 1215.0 L55.0 1216.4 L60.0 1217.8 L65.0 1219.2 L70.0 1220.6 L75.0 1222.0 L80.0 1225.1 L85.0 1228.2 L90.0 1231.3 L95.0 1234.4 L100.0 1237.5 L105.0 1241.0 L110.0 1244.5 L115.0 1248.0 L120.0 1251.5 L125.0 1255.0 L130.0 1257.0 L135.0 1259.0 L140.0 1261.0 L145.0 1263.0 L150.0 1265.0 L155.0 1266.5 L160.0 1268.0 L165.0 1269.5 L170.0 1271.0 L175.0 1272.5 L180.0 1275.0 L185.0 1277.5 L190.0 1280.0 L195.0 1282.5 L200.0 1285.0 L205.0 1289.2 L210.0 1293.3 L215.0 1296.2 L220.0 1298.1 L225.0 1300.0 L230.0 1301.2 L235.0 1302.5 L240.0 1304.6 L245.0 1307.3 L250.0 1310.0 L255.0 1312.5 L260.0 1315.0 L265.0 1315.3 L270.0 1315.7 L275.0 1316.0 L280.0 1316.0 L285.0 1316.0 L290.0 1316.0 L295.0 1316.0 L300.0 1316.0 L305.0 1315.8 L310.0 1315.6 L315.0 1315.4 L320.0 1315.2 L325.0 1315.0 L330.0 1314.0 L335.0 1313.0 L340.0 1312.0 L345.0 1311.0 L350.0 1310.0 L355.0 1308.6 L360.0 1307.2 L365.0 1305.8 L370.0 1304.4 L375.0 1303.0 L380.0 1302.4 L385.0 1301.8 L390.0 1301.2 L395.0 1300.6 L400.0 1300.0 L405.0 1299.2 L410.0 1298.4 L415.0 1297.6 L420.0 1296.8 L425.0 1296.0 L430.0 1295.3 L435.0 1294.6 L440.0 1293.9 L445.0 1293.2 L450.0 1292.5 L455.0 1291.8 L460.0 1291.1 L465.0 1290.4 L470.0 1289.7 L475.0 1289.0 L480.0 1288.2 L485.0 1287.5 L490.0 1286.8 L495.0 1286.0 L500.0 1286.0 L505.0 1286.0 L510.0 1286.3 L515.0 1286.8 L520.0 1287.4 L525.0 1287.9 L530.0 1288.4 L535.0 1288.9 L540.0 1289.5 L545.0 1290.0 L560.0 1290.0 L560.0 1400.0 L20.0 1400.0 L20.0 1208.0Z" fill="#4a8c88"/>
</g></g>
<g clip-path="url(#ce_rf)"><g filter="url(#eb4)">
<path d="M526.7 1200.2 L688.4 1036.6 L718.4 1006.6 L798.4 1006.6 L798.4 1280.2 L526.7 1280.2Z" fill="#e6e6e6"/>
<path d="M533.8 1207.2 L695.5 1043.7 L725.5 1013.7 L805.5 1013.7 L805.5 1287.2 L533.8 1287.2Z" fill="#cfcfcf"/>
<path d="M540.2 1213.5 L701.9 1050.0 L731.9 1020.0 L811.9 1020.0 L811.9 1293.5 L540.2 1293.5Z" fill="#a6a6a6"/>
<path d="M545.9 1219.1 L707.6 1055.6 L737.6 1025.6 L817.6 1025.6 L817.6 1299.1 L545.9 1299.1Z" fill="#7a7a7a"/>
<path d="M551.6 1224.8 L713.3 1061.2 L743.3 1031.2 L823.3 1031.2 L823.3 1304.8 L551.6 1304.8Z" fill="#525252"/>
<path d="M556.6 1229.7 L718.2 1066.2 L748.2 1036.2 L828.2 1036.2 L828.2 1309.7 L556.6 1309.7Z" fill="#46605e"/>
<path d="M560.8 1233.9 L722.5 1070.4 L752.5 1040.4 L832.5 1040.4 L832.5 1313.9 L560.8 1313.9Z" fill="#4c8e8a"/>
</g></g>
<g clip-path="url(#ce_lc)"><g filter="url(#eb2)"><path d="M40 1125 L-5 1215 L40 1215 L30 1172 Z" fill="#8a8a8a"/><path d="M28 1150 L-5 1215 L30 1215 L24 1170 Z" fill="#4a4a4a"/><path d="M14 1172 L-5 1215 L12 1215 Z" fill="#4a8c88"/></g></g>
<path d="M33.5 1174 L27 1177.5 L7.5 1204.5 L20 1204.5 Z" fill="#7bf52a"/>
<g filter="url(#eb07)">
<ellipse cx="286.0" cy="1211.5" rx="57.4" ry="31.6" fill="#e4e9fe"/>
<ellipse cx="285.9" cy="1210.0" rx="56.4" ry="31.0" fill="#e4e9fe"/>
<ellipse cx="285.8" cy="1209.3" rx="56.0" ry="30.8" fill="#c8d4fc"/>
<ellipse cx="285.7" cy="1208.5" rx="55.5" ry="30.5" fill="#c8d4fc"/>
<ellipse cx="285.6" cy="1207.1" rx="54.5" ry="30.0" fill="#c8d4fc"/>
<ellipse cx="285.5" cy="1206.2" rx="54.0" ry="29.7" fill="#a8b8fa"/>
<ellipse cx="285.5" cy="1205.6" rx="53.6" ry="29.5" fill="#a8b8fa"/>
<ellipse cx="285.4" cy="1204.1" rx="52.6" ry="28.9" fill="#a8b8fa"/>
<ellipse cx="285.2" cy="1202.6" rx="51.6" ry="28.4" fill="#a8b8fa"/>
<ellipse cx="285.2" cy="1202.5" rx="51.5" ry="28.3" fill="#88a0f8"/>
<ellipse cx="285.1" cy="1201.1" rx="50.5" ry="27.8" fill="#88a0f8"/>
<ellipse cx="285.0" cy="1199.7" rx="49.5" ry="27.2" fill="#88a0f8"/>
<ellipse cx="284.8" cy="1198.2" rx="48.4" ry="26.6" fill="#88a0f8"/>
<ellipse cx="284.8" cy="1198.1" rx="48.4" ry="26.6" fill="#6880f6"/>
<ellipse cx="284.7" cy="1196.7" rx="47.3" ry="26.0" fill="#6880f6"/>
<ellipse cx="284.6" cy="1195.2" rx="46.2" ry="25.4" fill="#6880f6"/>
<ellipse cx="284.5" cy="1193.7" rx="45.0" ry="24.7" fill="#6880f6"/>
<ellipse cx="284.4" cy="1193.1" rx="44.5" ry="24.5" fill="#5060f4"/>
<ellipse cx="284.3" cy="1192.3" rx="43.8" ry="24.1" fill="#5060f4"/>
<ellipse cx="284.2" cy="1190.8" rx="42.6" ry="23.4" fill="#5060f4"/>
<ellipse cx="284.1" cy="1189.3" rx="41.3" ry="22.7" fill="#5060f4"/>
<ellipse cx="283.9" cy="1187.8" rx="40.0" ry="22.0" fill="#5060f4"/>
<ellipse cx="283.9" cy="1187.5" rx="39.8" ry="21.9" fill="#3c40f4"/>
<ellipse cx="283.8" cy="1186.4" rx="38.7" ry="21.3" fill="#3c40f4"/>
<ellipse cx="283.7" cy="1184.9" rx="37.3" ry="20.5" fill="#3c40f4"/>
<ellipse cx="283.6" cy="1183.4" rx="35.9" ry="19.7" fill="#3c40f4"/>
<ellipse cx="283.4" cy="1181.9" rx="34.3" ry="18.9" fill="#3c40f4"/>
<ellipse cx="283.3" cy="1180.4" rx="32.8" ry="18.0" fill="#3c40f4"/>
<ellipse cx="283.2" cy="1179.0" rx="31.1" ry="17.1" fill="#3c40f4"/>
<ellipse cx="283.0" cy="1177.5" rx="29.4" ry="16.2" fill="#3c40f4"/>
<ellipse cx="282.9" cy="1176.0" rx="27.5" ry="15.1" fill="#3c40f4"/>
<ellipse cx="282.8" cy="1174.5" rx="25.5" ry="14.0" fill="#3c40f4"/>
<ellipse cx="282.8" cy="1174.2" rx="25.0" ry="13.8" fill="#2800f8"/>
<ellipse cx="282.7" cy="1173.0" rx="23.4" ry="12.9" fill="#2800f8"/>
<ellipse cx="282.5" cy="1171.6" rx="21.0" ry="11.5" fill="#2800f8"/>
<ellipse cx="282.4" cy="1170.1" rx="18.3" ry="10.1" fill="#2800f8"/>
<ellipse cx="282.3" cy="1168.6" rx="15.1" ry="8.3" fill="#2800f8"/>
<ellipse cx="282.2" cy="1167.1" rx="11.1" ry="6.1" fill="#2800f8"/>
</g>
<g filter="url(#eb07)">
<ellipse cx="521.0" cy="1176.5" rx="56.2" ry="30.9" fill="#e4e9fe"/>
<ellipse cx="521.3" cy="1175.0" rx="55.3" ry="30.4" fill="#e4e9fe"/>
<ellipse cx="521.4" cy="1174.3" rx="54.9" ry="30.2" fill="#c8d4fc"/>
<ellipse cx="521.6" cy="1173.6" rx="54.4" ry="29.9" fill="#c8d4fc"/>
<ellipse cx="521.9" cy="1172.1" rx="53.5" ry="29.4" fill="#c8d4fc"/>
<ellipse cx="522.0" cy="1171.3" rx="52.9" ry="29.1" fill="#a8b8fa"/>
<ellipse cx="522.2" cy="1170.7" rx="52.5" ry="28.9" fill="#a8b8fa"/>
<ellipse cx="522.4" cy="1169.2" rx="51.5" ry="28.3" fill="#a8b8fa"/>
<ellipse cx="522.7" cy="1167.8" rx="50.5" ry="27.8" fill="#a8b8fa"/>
<ellipse cx="522.8" cy="1167.7" rx="50.5" ry="27.8" fill="#88a0f8"/>
<ellipse cx="523.0" cy="1166.3" rx="49.5" ry="27.2" fill="#88a0f8"/>
<ellipse cx="523.3" cy="1164.9" rx="48.5" ry="26.7" fill="#88a0f8"/>
<ellipse cx="523.6" cy="1163.4" rx="47.4" ry="26.1" fill="#88a0f8"/>
<ellipse cx="523.6" cy="1163.4" rx="47.4" ry="26.1" fill="#6880f6"/>
<ellipse cx="523.9" cy="1162.0" rx="46.4" ry="25.5" fill="#6880f6"/>
<ellipse cx="524.2" cy="1160.5" rx="45.2" ry="24.9" fill="#6880f6"/>
<ellipse cx="524.5" cy="1159.1" rx="44.1" ry="24.3" fill="#6880f6"/>
<ellipse cx="524.6" cy="1158.5" rx="43.6" ry="24.0" fill="#5060f4"/>
<ellipse cx="524.8" cy="1157.6" rx="42.9" ry="23.6" fill="#5060f4"/>
<ellipse cx="525.0" cy="1156.2" rx="41.7" ry="23.0" fill="#5060f4"/>
<ellipse cx="525.3" cy="1154.7" rx="40.5" ry="22.3" fill="#5060f4"/>
<ellipse cx="525.6" cy="1153.3" rx="39.2" ry="21.6" fill="#5060f4"/>
<ellipse cx="525.7" cy="1153.0" rx="39.0" ry="21.4" fill="#3c40f4"/>
<ellipse cx="525.9" cy="1151.8" rx="37.9" ry="20.9" fill="#3c40f4"/>
<ellipse cx="526.2" cy="1150.4" rx="36.6" ry="20.1" fill="#3c40f4"/>
<ellipse cx="526.5" cy="1148.9" rx="35.1" ry="19.3" fill="#3c40f4"/>
<ellipse cx="526.8" cy="1147.5" rx="33.7" ry="18.5" fill="#3c40f4"/>
<ellipse cx="527.1" cy="1146.0" rx="32.1" ry="17.7" fill="#3c40f4"/>
<ellipse cx="527.4" cy="1144.6" rx="30.5" ry="16.8" fill="#3c40f4"/>
<ellipse cx="527.6" cy="1143.1" rx="28.8" ry="15.8" fill="#3c40f4"/>
<ellipse cx="527.9" cy="1141.7" rx="27.0" ry="14.8" fill="#3c40f4"/>
<ellipse cx="528.2" cy="1140.2" rx="25.0" ry="13.8" fill="#3c40f4"/>
<ellipse cx="528.3" cy="1139.9" rx="24.5" ry="13.5" fill="#2800f8"/>
<ellipse cx="528.5" cy="1138.8" rx="22.9" ry="12.6" fill="#2800f8"/>
<ellipse cx="528.8" cy="1137.3" rx="20.6" ry="11.3" fill="#2800f8"/>
<ellipse cx="529.1" cy="1135.9" rx="17.9" ry="9.9" fill="#2800f8"/>
<ellipse cx="529.4" cy="1134.4" rx="14.8" ry="8.2" fill="#2800f8"/>
<ellipse cx="529.7" cy="1133.0" rx="10.9" ry="6.0" fill="#2800f8"/>
</g>
<path d="M552 1178 L562 1168 L572 1170 L584 1185 L592 1205 L548 1205 Z" fill="#fff" filter="url(#eb2)"/>
<path d="M170.0 934.0 L190.0 935.0 L212.0 946.0 L237.0 962.0 L262.0 972.0 L280.0 977.0 L295.0 976.0 L315.0 965.0 L337.0 947.0 L357.0 927.0 L375.0 910.0 L395.0 901.0 L416.0 899.0" fill="none" stroke="#111" stroke-width="1.6" stroke-linejoin="round" stroke-linecap="butt" stroke-dasharray="4.5 4"/>
<path d="M292.0 977.0 L300.0 1010.0 L307.0 1047.0 L315.0 1110.0 L321.5 1166.0" fill="none" stroke="#111" stroke-width="1.6" stroke-linejoin="round" stroke-linecap="butt" stroke-dasharray="7.5 4"/>
<line x1="331.00" y1="986.20" x2="504.00" y2="1019.80" stroke="#b01418" stroke-width="2.8" />
<polygon points="320,984 342.5,980.5 340,995" fill="#b01418"/>
<polygon points="515,1022 492.5,1025.5 495,1011" fill="#b01418"/>
<text x="381.00" y="1030.00" font-size="44" text-anchor="start" fill="#b01418" >q</text>
<line x1="342.50" y1="1085.00" x2="545.00" y2="1047.00" stroke="#000" stroke-width="1.5" />
<line x1="545.00" y1="1047.00" x2="575.00" y2="1041.50" stroke="#000" stroke-width="1.5" stroke-dasharray="6 3 2 3"/>
<polygon points="590.5,1038 571,1036 574.5,1049.5" fill="#000"/>
<line x1="342.50" y1="1085.00" x2="389.00" y2="1190.00" stroke="#000" stroke-width="1.5" />
<polygon points="393,1199.5 379,1185.5 392.5,1179" fill="#000"/>
<text x="403.00" y="1122.50" font-size="50" text-anchor="middle" fill="#000" >A</text>
<text x="580.00" y="1096.00" font-size="50" text-anchor="middle" fill="#000" >H</text>
<text x="400.00" y="1243.50" font-size="50" text-anchor="middle" fill="#000" >L</text>
<text x="80.00" y="910.00" font-size="50" text-anchor="start" fill="#000" >(e)</text>
<text x="186.00" y="907.50" font-size="35.8" text-anchor="start" fill="#000" >Saddle point</text>
<defs><clipPath id="cd"><rect x="832.0" y="58.6" width="650.5" height="578.4"/></clipPath></defs>
<line x1="938.25" y1="58.60" x2="938.25" y2="637.00" stroke="#000" stroke-width="1.7" />
<line x1="1000.00" y1="58.60" x2="1000.00" y2="637.00" stroke="#000" stroke-width="1.7" />
<line x1="1123.25" y1="58.60" x2="1123.25" y2="637.00" stroke="#000" stroke-width="1.7" />
<line x1="1190.75" y1="58.60" x2="1190.75" y2="637.00" stroke="#000" stroke-width="1.7" />
<line x1="1297.50" y1="58.60" x2="1297.50" y2="637.00" stroke="#000" stroke-width="1.7" />
<line x1="1359.25" y1="58.60" x2="1359.25" y2="637.00" stroke="#000" stroke-width="1.7" />
<g clip-path="url(#cd)">
<path d="M861.5 55.0 L862.5 58.8 L868.8 100.0 L876.2 142.5 L885.0 190.0 L893.8 235.0 L902.5 275.0 L911.2 315.0 L918.8 347.5 L925.0 370.0 L930.0 385.0 L933.8 393.8 L938.2 397.0 L943.8 388.8 L947.5 372.5 L952.5 345.0 L957.5 315.0 L962.5 285.0 L967.5 262.5 L972.5 247.5 L977.5 237.5 L982.5 233.8 L987.5 239.5 L992.5 250.0 L1000.0 259.5 L1005.0 250.0 L1011.2 230.0 L1017.5 205.0 L1023.8 180.0 L1030.0 155.0 L1037.5 130.0 L1045.0 108.8 L1052.5 90.0 L1060.0 75.0 L1068.8 60.0 L1072.5 53.8" fill="none" stroke="#c6161c" stroke-width="3.1" stroke-linejoin="round" stroke-linecap="butt" />
<path d="M831.8 101.2 L836.2 105.0 L841.2 115.0 L847.5 132.5 L855.0 157.5 L863.8 190.0 L872.5 225.0 L881.2 260.0 L890.0 295.0 L898.8 327.5 L907.5 360.0 L915.0 387.5 L921.2 408.0 L923.8 415.0 L930.0 428.8 L933.8 435.0 L938.2 437.5 L943.8 433.8 L950.0 427.5 L956.2 422.5 L962.5 415.0 L967.5 407.5 L971.2 397.5 L977.5 380.0 L985.0 355.0 L992.5 327.5 L997.5 312.5 L1000.0 308.8 L1003.8 317.5 L1008.8 335.0 L1015.0 360.0 L1021.2 385.0 L1026.2 400.0 L1031.2 406.2 L1036.2 398.8 L1042.5 380.0 L1050.0 355.0 L1060.0 325.0 L1070.0 295.0 L1080.0 262.5 L1087.5 230.0 L1093.8 195.0 L1100.0 160.0 L1106.2 132.5 L1112.5 115.0 L1117.5 105.0 L1123.2 100.8 L1128.8 102.5 L1135.0 108.8 L1142.5 120.0 L1150.0 135.0 L1160.0 155.0 L1168.8 170.0 L1175.0 177.5 L1182.5 183.8 L1190.8 187.0 L1193.8 180.0 L1197.5 162.5 L1201.2 137.5 L1205.0 112.5 L1210.0 87.5 L1215.0 70.0 L1219.5 59.5 L1223.0 59.5 L1226.2 68.8 L1229.5 82.5 L1232.5 105.0 L1236.2 130.0 L1240.0 150.0 L1244.5 163.0 L1250.0 168.0 L1255.0 169.5 L1261.2 173.8 L1267.5 182.5 L1273.8 195.0 L1280.0 210.0 L1286.2 222.5 L1292.5 232.5 L1297.5 235.5 L1302.5 241.2 L1307.5 255.0 L1313.8 275.0 L1320.0 297.5 L1326.2 318.8 L1331.2 329.5 L1336.2 331.2 L1345.0 330.0 L1359.2 330.5 L1365.0 330.0 L1371.2 326.2 L1377.5 320.0 L1385.0 308.8 L1395.0 290.0 L1405.0 270.0 L1412.5 250.0 L1418.8 225.0 L1425.0 190.0 L1431.2 150.0 L1437.5 107.5 L1442.5 77.5 L1447.5 59.5 L1451.2 57.0 L1455.0 59.5 L1461.2 80.0 L1467.5 112.5 L1473.8 147.5 L1478.8 172.5 L1482.5 186.2" fill="none" stroke="#c6161c" stroke-width="3.1" stroke-linejoin="round" stroke-linecap="butt" />
<path d="M831.8 247.0 L837.5 248.8 L845.0 256.2 L855.0 270.0 L865.0 287.5 L875.0 310.0 L885.0 337.5 L892.5 362.5 L900.0 390.0 L905.0 408.0 L911.2 432.5 L917.5 457.5 L923.8 482.5 L928.8 500.0 L933.0 513.8 L938.2 519.5 L942.5 513.8 L947.5 505.0 L953.8 496.2 L960.0 492.0 L966.2 490.0 L972.5 491.2 L977.5 490.5 L982.5 481.2 L987.5 470.0 L993.8 462.0 L1000.0 459.5 L1005.0 461.2 L1011.2 466.2 L1016.2 469.5 L1021.2 467.0 L1026.2 461.2 L1032.0 457.5 L1037.5 461.2 L1043.8 465.5 L1048.8 461.2 L1053.8 447.5 L1058.8 427.5 L1062.5 410.0 L1065.5 400.0 L1071.2 375.0 L1077.5 340.0 L1083.8 310.0 L1090.0 287.5 L1097.5 270.0 L1105.0 258.8 L1112.5 251.2 L1118.8 247.5 L1125.0 247.0 L1131.2 250.0 L1137.5 256.2 L1145.0 265.0 L1152.5 272.5 L1160.0 278.0 L1167.5 282.0 L1173.8 283.0 L1182.5 282.0 L1190.8 280.5 L1196.2 291.2 L1201.2 315.0 L1206.2 340.0 L1212.0 367.5 L1217.5 375.0 L1222.5 360.0 L1227.5 340.0 L1232.5 322.5 L1238.8 306.2 L1244.5 305.5 L1248.8 320.0 L1253.8 342.5 L1260.0 372.5 L1266.2 398.8 L1270.0 408.0 L1272.5 413.8 L1276.2 417.5 L1281.2 418.0 L1286.2 423.8 L1290.0 435.0 L1293.8 448.8 L1297.5 459.5 L1305.0 459.0 L1312.5 461.2 L1322.5 467.5 L1332.5 475.0 L1342.5 481.2 L1351.2 484.5 L1359.2 485.5 L1365.0 485.0 L1371.2 481.2 L1377.5 472.5 L1383.8 457.5 L1390.0 437.5 L1396.2 415.0 L1399.5 400.0 L1402.5 387.5 L1407.5 370.0 L1412.5 352.5 L1418.8 335.0 L1423.8 325.0 L1428.8 322.0 L1434.5 325.0 L1440.0 337.5 L1446.2 357.5 L1451.2 371.2 L1455.5 378.8 L1460.0 370.0 L1465.0 350.0 L1470.0 327.5 L1475.0 305.0 L1478.8 290.0 L1482.5 282.5" fill="none" stroke="#c6161c" stroke-width="3.1" stroke-linejoin="round" stroke-linecap="butt" />
<path d="M831.8 367.0 L836.2 369.5 L841.2 377.5 L847.5 392.5 L853.8 408.0 L856.2 420.0 L862.5 442.5 L868.8 462.5 L875.0 480.0 L882.5 497.5 L890.0 515.0 L897.5 532.5 L905.0 550.0 L911.2 561.2 L916.2 566.2 L922.5 566.2 L927.5 562.5 L932.5 558.0 L938.2 555.5 L941.2 565.0 L945.0 577.5 L949.2 591.2 L955.0 590.5 L960.0 575.0 L965.0 555.0 L970.0 535.0 L975.0 517.5 L978.8 511.2 L983.0 508.8 L988.8 512.5 L995.0 516.2 L1000.0 517.5 L1005.0 516.2 L1011.2 511.2 L1016.2 505.0 L1021.2 503.0 L1026.2 504.5 L1032.0 505.5 L1037.5 503.8 L1043.8 500.0 L1048.8 497.0 L1055.0 496.2 L1061.2 495.0 L1066.2 492.5 L1072.5 486.2 L1078.8 477.5 L1085.0 465.0 L1091.2 447.5 L1097.5 425.0 L1102.5 407.5 L1107.5 392.5 L1112.5 380.0 L1117.5 370.0 L1123.2 367.0 L1128.8 367.0 L1137.5 370.0 L1146.2 377.5 L1153.8 390.0 L1161.2 408.0 L1162.5 412.5 L1168.8 430.0 L1175.0 450.0 L1180.0 470.0 L1185.0 487.5 L1190.8 496.2 L1196.2 490.0 L1201.2 475.0 L1206.2 457.5 L1212.0 440.0 L1217.5 432.5 L1222.5 438.8 L1228.8 451.2 L1236.2 463.8 L1245.0 475.0 L1255.0 485.0 L1263.8 495.0 L1271.2 502.0 L1276.2 504.5 L1281.2 503.8 L1286.2 498.8 L1291.2 487.5 L1297.5 472.5 L1305.0 482.5 L1312.5 493.8 L1320.0 505.0 L1326.2 520.0 L1332.5 540.0 L1338.8 562.5 L1345.0 585.0 L1350.0 605.0 L1355.0 620.0 L1359.2 626.2 L1363.8 621.2 L1368.8 605.0 L1375.0 580.0 L1381.2 552.5 L1387.5 525.0 L1393.8 502.5 L1400.0 485.0 L1406.2 473.8 L1413.8 467.5 L1421.2 464.5 L1428.8 461.2 L1436.2 456.2 L1443.8 446.2 L1450.0 437.5 L1455.8 431.2 L1460.0 440.0 L1465.0 457.5 L1471.2 477.5 L1477.5 490.0 L1482.5 495.0" fill="none" stroke="#c6161c" stroke-width="3.1" stroke-linejoin="round" stroke-linecap="butt" />
<path d="M1154.5 55.0 L1155.0 58.8 L1158.8 82.5 L1162.5 107.5 L1166.2 132.5 L1170.0 155.0 L1173.8 175.0 L1178.8 195.0 L1185.0 217.5 L1190.8 224.5 L1196.2 228.8 L1201.2 230.5 L1207.5 226.2 L1215.0 218.8 L1222.5 212.0 L1228.0 208.8 L1233.0 208.8 L1238.8 216.2 L1243.8 235.0 L1250.0 257.5 L1256.2 277.5 L1262.5 300.0 L1268.8 325.0 L1275.0 352.5 L1281.2 380.0 L1287.5 400.0 L1291.2 406.2 L1297.5 405.5 L1301.2 400.0 L1307.5 382.5 L1315.0 366.2 L1321.2 357.5 L1325.0 353.8 L1330.5 356.2 L1336.2 363.8 L1342.5 368.8 L1350.0 370.5 L1359.2 370.8 L1365.0 371.2 L1372.5 376.2 L1380.0 383.8 L1386.2 388.8 L1391.2 391.2 L1396.2 390.5 L1401.2 377.5 L1406.2 350.0 L1412.5 312.5 L1418.8 275.0 L1425.0 237.5 L1430.0 212.5 L1435.0 196.2 L1439.2 192.0 L1443.8 195.0 L1450.0 205.0 L1457.5 217.5 L1465.0 227.5 L1471.2 231.2 L1477.5 228.0 L1482.5 222.5" fill="none" stroke="#c6161c" stroke-width="3.1" stroke-linejoin="round" stroke-linecap="butt" />
<path d="M831.8 523.8 L836.2 525.5 L841.2 531.2 L847.5 542.5 L855.0 560.0 L862.5 576.2 L870.0 591.2 L877.5 602.5 L886.2 610.0 L895.0 614.5 L905.0 617.5 L911.2 621.2 L916.2 627.5 L922.5 636.2 L925.0 641.2" fill="none" stroke="#c6161c" stroke-width="3.1" stroke-linejoin="round" stroke-linecap="butt" />
<path d="M831.8 565.5 L837.5 567.5 L843.8 573.8 L850.0 585.0 L856.2 600.0 L861.2 615.0 L864.5 627.5 L866.2 636.2 L867.0 641.2" fill="none" stroke="#c6161c" stroke-width="3.1" stroke-linejoin="round" stroke-linecap="butt" />
<path d="M1070.0 642.5 L1072.5 636.2 L1077.5 622.5 L1083.8 605.0 L1090.0 585.0 L1096.2 565.0 L1102.5 547.5 L1108.8 535.0 L1115.0 527.5 L1120.0 524.5 L1125.0 523.8 L1135.0 524.2 L1150.0 526.2 L1162.5 528.8 L1175.0 530.5 L1190.8 531.2 L1196.2 536.2 L1202.5 546.2 L1210.0 558.8 L1218.8 572.5 L1227.5 583.8 L1236.2 591.2 L1245.0 594.5 L1252.5 593.8 L1261.2 588.8 L1268.8 580.0 L1276.2 566.2 L1282.5 552.5 L1288.8 538.8 L1293.8 532.5 L1297.5 531.2 L1301.2 536.2 L1306.2 552.5 L1311.2 572.5 L1316.2 592.5 L1321.2 610.0 L1326.2 625.0 L1331.2 636.2 L1333.8 642.5" fill="none" stroke="#c6161c" stroke-width="3.1" stroke-linejoin="round" stroke-linecap="butt" />
<path d="M1083.2 642.5 L1085.0 636.2 L1090.0 617.5 L1096.2 597.5 L1102.5 582.5 L1108.8 572.5 L1115.0 567.0 L1123.2 565.5 L1137.5 565.5 L1150.0 565.0 L1162.5 563.0 L1172.5 559.5 L1180.0 553.8 L1186.2 550.0 L1190.8 549.2 L1196.2 551.2 L1201.2 558.8 L1206.2 572.5 L1211.2 590.0 L1216.2 610.0 L1220.0 627.5 L1222.0 636.2 L1223.2 642.5" fill="none" stroke="#c6161c" stroke-width="3.1" stroke-linejoin="round" stroke-linecap="butt" />
<path d="M1417.5 642.5 L1422.5 636.2 L1428.8 627.5 L1436.2 612.5 L1443.8 595.0 L1451.2 577.5 L1458.8 562.5 L1466.2 550.0 L1473.8 540.0 L1478.8 534.5 L1482.5 532.5" fill="none" stroke="#c6161c" stroke-width="3.1" stroke-linejoin="round" stroke-linecap="butt" />
<path d="M1448.8 642.5 L1450.0 636.2 L1453.8 620.0 L1458.8 597.5 L1463.8 577.5 L1468.8 565.0 L1473.8 556.2 L1478.8 551.2 L1482.5 550.0" fill="none" stroke="#c6161c" stroke-width="3.1" stroke-linejoin="round" stroke-linecap="butt" />
</g>
<line x1="832.00" y1="203.00" x2="1482.50" y2="203.00" stroke="#000" stroke-width="1.8" stroke-dasharray="1.5 1.5"/>
<rect x="832.0" y="58.6" width="650.5" height="578.4" fill="none" stroke="#000" stroke-width="2"/>
<line x1="816.00" y1="58.55" x2="832.00" y2="58.55" stroke="#000" stroke-width="1.9" />
<text x="804.50" y="75.75" font-size="50" text-anchor="end" fill="#000" >1</text>
<line x1="816.00" y1="203.00" x2="832.00" y2="203.00" stroke="#000" stroke-width="1.9" />
<text x="804.50" y="220.20" font-size="50" text-anchor="end" fill="#000" >0</text>
<line x1="816.00" y1="347.45" x2="832.00" y2="347.45" stroke="#000" stroke-width="1.9" />
<text x="804.50" y="364.65" font-size="50" text-anchor="end" fill="#000" >-1</text>
<line x1="816.00" y1="491.90" x2="832.00" y2="491.90" stroke="#000" stroke-width="1.9" />
<text x="804.50" y="509.10" font-size="50" text-anchor="end" fill="#000" >-2</text>
<line x1="816.00" y1="636.35" x2="832.00" y2="636.35" stroke="#000" stroke-width="1.9" />
<text x="804.50" y="653.55" font-size="50" text-anchor="end" fill="#000" >-3</text>
<text x="831.75" y="683.50" font-size="50" text-anchor="middle" fill="#000" >Γ</text>
<text x="938.25" y="683.50" font-size="50" text-anchor="middle" fill="#000" >M</text>
<text x="1002.50" y="683.50" font-size="50" text-anchor="middle" fill="#000" >K</text>
<text x="1123.25" y="683.50" font-size="50" text-anchor="middle" fill="#000" >Γ</text>
<text x="1190.75" y="683.50" font-size="50" text-anchor="middle" fill="#000" >A</text>
<text x="1297.50" y="683.50" font-size="50" text-anchor="middle" fill="#000" >L</text>
<text x="1359.25" y="683.50" font-size="50" text-anchor="middle" fill="#000" >H</text>
<text x="1482.50" y="683.50" font-size="50" text-anchor="middle" fill="#000" >A</text>
<text x="712.00" y="104.00" font-size="50" text-anchor="start" fill="#000" >(d)</text>
<text transform="translate(727.5 444.5) rotate(-90)" font-size="47.5"><tspan font-style="italic">E</tspan>-<tspan font-style="italic">E</tspan><tspan font-size="32" dy="14.5">F</tspan><tspan dy="-14.5"> (eV)</tspan></text>
<line x1="1228.75" y1="269.50" x2="1228.75" y2="237.00" stroke="#000" stroke-width="3.4" />
<polygon points="1220.00,238.00 1237.50,238.00 1228.75,219.50" fill="#000"/>
<line x1="1441.25" y1="262.00" x2="1441.25" y2="229.50" stroke="#000" stroke-width="3.4" />
<polygon points="1432.50,230.50 1450.00,230.50 1441.25,212.00" fill="#000"/>
<defs>
<clipPath id="cf"><rect x="904.6" y="846.8" width="579.4" height="434.4000000000001"/></clipPath>
<filter id="heat" x="864.6" y="806.8" width="659.4" height="514.4000000000001" filterUnits="userSpaceOnUse" color-interpolation-filters="sRGB"><feGaussianBlur stdDeviation="2.6"/><feComponentTransfer><feFuncR type="table" tableValues="0.173 0.175 0.176 0.178 0.180 0.190 0.200 0.210 0.220 0.233 0.247 0.261 0.275 0.286 0.297 0.308 0.318 0.328 0.337 0.365 0.392 0.402 0.412 0.422 0.431 0.461 0.490 0.520 0.549 0.604 0.659 0.714 0.769 0.816 0.863 0.910 0.957 0.941 0.925 0.910 0.855 0.800 0.745 0.690 0.641 0.592 0.542 0.502 0.471 0.439 0.408"/><feFuncG type="table" tableValues="0.125 0.137 0.149 0.161 0.173 0.200 0.227 0.255 0.282 0.318 0.353 0.388 0.424 0.450 0.477 0.504 0.532 0.560 0.588 0.678 0.769 0.780 0.792 0.804 0.816 0.829 0.843 0.857 0.871 0.884 0.898 0.912 0.925 0.935 0.945 0.955 0.965 0.923 0.881 0.839 0.759 0.678 0.598 0.518 0.464 0.410 0.356 0.315 0.286 0.257 0.227"/><feFuncB type="table" tableValues="0.525 0.551 0.576 0.602 0.627 0.665 0.702 0.739 0.776 0.814 0.851 0.888 0.925 0.941 0.957 0.973 0.966 0.938 0.910 0.671 0.431 0.420 0.408 0.396 0.384 0.394 0.404 0.414 0.424 0.443 0.463 0.482 0.502 0.520 0.537 0.555 0.573 0.562 0.552 0.541 0.504 0.467 0.429 0.392 0.361 0.329 0.298 0.272 0.252 0.232 0.212"/><feFuncA type="linear" slope="0" intercept="1"/></feComponentTransfer></filter>
</defs>
<g clip-path="url(#cf)">
<g filter="url(#heat)">
<rect x="864.6" y="806.8" width="659.4" height="514.4000000000001" fill="#000"/>
<path d="M965.0 912.5 L958.8 960.0 L951.2 1022.5 L943.8 1080.0 L936.2 1130.0 L927.5 1185.0 L927.5 1185.0 L920.0 1242.5 L913.8 1282.5" fill="none" stroke="rgb(33,33,33)" stroke-width="22" stroke-linecap="round" stroke-linejoin="round"/>
<path d="M958.8 960.0 L951.2 1022.5 L943.8 1080.0 L936.2 1130.0 L927.5 1185.0 L927.5 1185.0" fill="none" stroke="rgb(43,43,43)" stroke-width="9" stroke-linecap="round" stroke-linejoin="round"/>
<path d="M961.2 982.5 L1015.0 980.0 L1065.0 978.8 L1140.0 980.0 L1155.0 982.5" fill="none" stroke="rgb(33,33,33)" stroke-width="44" stroke-linecap="round" stroke-linejoin="round"/>
<path d="M965.0 980.0 L1050.0 977.5" fill="none" stroke="rgb(43,43,43)" stroke-width="26" stroke-linecap="round" stroke-linejoin="round"/>
<path d="M970.0 975.0 L1002.5 975.0 L1045.0 973.8" fill="none" stroke="rgb(56,56,56)" stroke-width="12" stroke-linecap="round" stroke-linejoin="round"/>
<path d="M1095.0 977.5 L1130.0 978.8" fill="none" stroke="rgb(61,61,61)" stroke-width="14" stroke-linecap="round" stroke-linejoin="round"/>
<path d="M977.5 985.0 L985.0 1030.0" fill="none" stroke="rgb(43,43,43)" stroke-width="16" stroke-linecap="round" stroke-linejoin="round"/>
<path d="M997.5 985.0 L1001.2 1020.0" fill="none" stroke="rgb(43,43,43)" stroke-width="14" stroke-linecap="round" stroke-linejoin="round"/>
<path d="M1023.8 980.0 L1026.2 1015.0" fill="none" stroke="rgb(51,51,51)" stroke-width="16" stroke-linecap="round" stroke-linejoin="round"/>
<path d="M1040.0 955.0 L1037.5 990.0" fill="none" stroke="rgb(46,46,46)" stroke-width="12" stroke-linecap="round" stroke-linejoin="round"/>
<path d="M972.5 950.0 L971.2 980.0" fill="none" stroke="rgb(46,46,46)" stroke-width="12" stroke-linecap="round" stroke-linejoin="round"/>
<path d="M1022.5 973.8 L1023.8 983.8" fill="none" stroke="rgb(107,107,107)" stroke-width="13" stroke-linecap="round" stroke-linejoin="round"/>
<path d="M990.0 1042.5 L995.0 1105.0" fill="none" stroke="rgb(36,36,36)" stroke-width="10" stroke-linecap="round" stroke-linejoin="round"/>
<path d="M965.0 1055.0 L972.5 1155.0" fill="none" stroke="rgb(31,31,31)" stroke-width="10" stroke-linecap="round" stroke-linejoin="round"/>
<path d="M1010.0 1080.0 L1015.0 1167.5" fill="none" stroke="rgb(31,31,31)" stroke-width="10" stroke-linecap="round" stroke-linejoin="round"/>
<path d="M1130.0 977.5 L1155.0 980.0" fill="none" stroke="rgb(41,41,41)" stroke-width="24" stroke-linecap="round" stroke-linejoin="round"/>
<path d="M1197.5 980.0 L1230.0 982.5" fill="none" stroke="rgb(46,46,46)" stroke-width="20" stroke-linecap="round" stroke-linejoin="round"/>
<path d="M1211.2 970.0 L1210.0 1005.0" fill="none" stroke="rgb(41,41,41)" stroke-width="10" stroke-linecap="round" stroke-linejoin="round"/>
<path d="M911.2 852.5 L915.0 880.0" fill="none" stroke="rgb(76,76,76)" stroke-width="12" stroke-linecap="round" stroke-linejoin="round"/>
<path d="M913.8 853.8 L914.5 861.2" fill="none" stroke="rgb(115,115,115)" stroke-width="7" stroke-linecap="round" stroke-linejoin="round"/>
<path d="M927.5 860.0 L931.2 895.0" fill="none" stroke="rgb(64,64,64)" stroke-width="8" stroke-linecap="round" stroke-linejoin="round"/>
<path d="M936.2 880.0 L938.8 910.0" fill="none" stroke="rgb(56,56,56)" stroke-width="7" stroke-linecap="round" stroke-linejoin="round"/>
<path d="M957.5 852.5 L958.8 872.5" fill="none" stroke="rgb(76,76,76)" stroke-width="6" stroke-linecap="round" stroke-linejoin="round"/>
<path d="M946.2 852.5 L947.5 867.5" fill="none" stroke="rgb(56,56,56)" stroke-width="6" stroke-linecap="round" stroke-linejoin="round"/>
<path d="M988.8 848.8 L989.5 857.5" fill="none" stroke="rgb(64,64,64)" stroke-width="5" stroke-linecap="round" stroke-linejoin="round"/>
<path d="M1000.0 857.5 L1000.0 872.5" fill="none" stroke="rgb(51,51,51)" stroke-width="4" stroke-linecap="round" stroke-linejoin="round"/>
<path d="M905.0 848.8 L908.8 853.8" fill="none" stroke="rgb(107,107,107)" stroke-width="5" stroke-linecap="round" stroke-linejoin="round"/>
<path d="M905.0 860.0 L907.5 877.5" fill="none" stroke="rgb(76,76,76)" stroke-width="8" stroke-linecap="round" stroke-linejoin="round"/>
<path d="M932.5 848.8 L933.0 855.0" fill="none" stroke="rgb(89,89,89)" stroke-width="4" stroke-linecap="round" stroke-linejoin="round"/>
<path d="M920.0 867.5 L923.8 890.0" fill="none" stroke="rgb(51,51,51)" stroke-width="6" stroke-linecap="round" stroke-linejoin="round"/>
<path d="M1437.5 850.0 L1438.2 860.0" fill="none" stroke="rgb(107,107,107)" stroke-width="2.5" stroke-linecap="round" stroke-linejoin="round"/>
<path d="M1401.2 852.5 L1402.0 865.0" fill="none" stroke="rgb(102,102,102)" stroke-width="2.5" stroke-linecap="round" stroke-linejoin="round"/>
<path d="M1447.5 860.0 L1448.2 872.5" fill="none" stroke="rgb(76,76,76)" stroke-width="3" stroke-linecap="round" stroke-linejoin="round"/>
<path d="M1385.0 862.5 L1385.8 875.0" fill="none" stroke="rgb(71,71,71)" stroke-width="3" stroke-linecap="round" stroke-linejoin="round"/>
<path d="M1465.0 850.0 L1465.8 867.5" fill="none" stroke="rgb(76,76,76)" stroke-width="3" stroke-linecap="round" stroke-linejoin="round"/>
<path d="M1420.0 855.0 L1420.8 870.0" fill="none" stroke="rgb(64,64,64)" stroke-width="3" stroke-linecap="round" stroke-linejoin="round"/>
<path d="M1375.0 848.8 L1376.5 867.5" fill="none" stroke="rgb(56,56,56)" stroke-width="3" stroke-linecap="round" stroke-linejoin="round"/>
<path d="M1390.0 857.5 L1391.5 880.0" fill="none" stroke="rgb(51,51,51)" stroke-width="4" stroke-linecap="round" stroke-linejoin="round"/>
<path d="M1396.2 860.0 L1397.8 882.5" fill="none" stroke="rgb(61,61,61)" stroke-width="4" stroke-linecap="round" stroke-linejoin="round"/>
<path d="M1412.5 850.0 L1414.0 877.5" fill="none" stroke="rgb(51,51,51)" stroke-width="4" stroke-linecap="round" stroke-linejoin="round"/>
<path d="M1422.5 848.8 L1424.0 862.5" fill="none" stroke="rgb(66,66,66)" stroke-width="3" stroke-linecap="round" stroke-linejoin="round"/>
<path d="M1433.0 850.0 L1434.5 867.5" fill="none" stroke="rgb(92,92,92)" stroke-width="3" stroke-linecap="round" stroke-linejoin="round"/>
<path d="M1442.5 850.0 L1444.0 865.0" fill="none" stroke="rgb(46,46,46)" stroke-width="3" stroke-linecap="round" stroke-linejoin="round"/>
<path d="M1457.5 848.8 L1459.0 857.5" fill="none" stroke="rgb(56,56,56)" stroke-width="3" stroke-linecap="round" stroke-linejoin="round"/>
<path d="M1471.2 848.8 L1472.8 865.0" fill="none" stroke="rgb(56,56,56)" stroke-width="4" stroke-linecap="round" stroke-linejoin="round"/>
<path d="M1478.8 852.5 L1480.2 880.0" fill="none" stroke="rgb(56,56,56)" stroke-width="5" stroke-linecap="round" stroke-linejoin="round"/>
<path d="M1360.0 852.5 L1361.5 865.0" fill="none" stroke="rgb(36,36,36)" stroke-width="4" stroke-linecap="round" stroke-linejoin="round"/>
<path d="M1412.5 917.5 L1414.0 940.0" fill="none" stroke="rgb(33,33,33)" stroke-width="6" stroke-linecap="round" stroke-linejoin="round"/>
<path d="M1432.5 935.0 L1434.0 955.0" fill="none" stroke="rgb(31,31,31)" stroke-width="6" stroke-linecap="round" stroke-linejoin="round"/>
<path d="M1380.0 925.0 L1381.5 940.0" fill="none" stroke="rgb(28,28,28)" stroke-width="5" stroke-linecap="round" stroke-linejoin="round"/>
<path d="M1425.0 1035.0 L1431.2 1075.0" fill="none" stroke="rgb(31,31,31)" stroke-width="8" stroke-linecap="round" stroke-linejoin="round"/>
<path d="M1425.0 1040.0 L1432.5 1075.0" fill="none" stroke="rgb(26,26,26)" stroke-width="8" stroke-linecap="round" stroke-linejoin="round"/>
<path d="M1442.5 1105.0 L1445.0 1135.0" fill="none" stroke="rgb(26,26,26)" stroke-width="8" stroke-linecap="round" stroke-linejoin="round"/>
<path d="M1442.5 1220.0 L1450.0 1255.0" fill="none" stroke="rgb(26,26,26)" stroke-width="8" stroke-linecap="round" stroke-linejoin="round"/>
<path d="M1068.8 915.0 L1068.8 937.5" fill="none" stroke="rgb(71,71,71)" stroke-width="10" stroke-linecap="round" stroke-linejoin="round"/>
<path d="M1261.2 901.2 L1261.2 925.0" fill="none" stroke="rgb(71,71,71)" stroke-width="10" stroke-linecap="round" stroke-linejoin="round"/>
<path d="M1310.5 920.0 L1311.0 935.0" fill="none" stroke="rgb(71,71,71)" stroke-width="8" stroke-linecap="round" stroke-linejoin="round"/>
<path d="M1085.0 1172.5 L1082.5 1205.0 L1077.5 1255.0 L1074.5 1282.5" fill="none" stroke="rgb(51,51,51)" stroke-width="10" stroke-linecap="round" stroke-linejoin="round"/>
<path d="M1253.8 1165.0 L1260.0 1192.5 L1270.0 1230.0 L1278.8 1270.0" fill="none" stroke="rgb(51,51,51)" stroke-width="10" stroke-linecap="round" stroke-linejoin="round"/>
<path d="M1173.2 1227.5 L1173.2 1250.0" fill="none" stroke="rgb(76,76,76)" stroke-width="8" stroke-linecap="round" stroke-linejoin="round"/>
<path d="M1116.2 970.0 L1117.5 990.0" fill="none" stroke="rgb(61,61,61)" stroke-width="12" stroke-linecap="round" stroke-linejoin="round"/>
<path d="M1235.0 980.0 L1237.5 1002.5" fill="none" stroke="rgb(61,61,61)" stroke-width="12" stroke-linecap="round" stroke-linejoin="round"/>
<path d="M1068.8 936.2 L1077.5 942.5 L1087.5 960.0 L1095.5 975.0 L1095.0 990.0 L1087.5 1000.0 L1080.0 1005.0 L1073.8 1005.0 L1068.0 1006.2 L1063.8 1015.0 L1060.0 1037.5 L1056.2 1080.0 L1052.5 1130.0 L1048.8 1180.0 L1048.8 1180.0 L1045.0 1230.0 L1041.2 1282.5 L1035.0 1282.5 L1038.8 1230.0 L1042.5 1180.0 L1042.5 1180.0 L1046.2 1130.0 L1050.0 1080.0 L1053.0 1037.5 L1055.0 1005.0 L1056.2 980.0 L1060.0 955.0 L1063.8 942.5Z" fill="rgb(76,76,76)" stroke="rgb(76,76,76)" stroke-width="15" stroke-linejoin="round"/>
<path d="M1118.0 990.0 L1105.0 1002.5 L1098.8 1030.0 L1092.5 1067.5 L1087.5 1105.0 L1083.8 1142.5 L1082.5 1142.5 L1083.0 1165.0 L1086.2 1173.8 L1090.0 1160.0 L1097.5 1142.5 L1105.0 1125.0 L1110.0 1112.5 L1120.0 1137.5 L1130.0 1160.0 L1142.5 1182.5 L1155.0 1202.5 L1165.0 1217.5 L1173.2 1228.8 L1182.5 1216.2 L1192.5 1202.5 L1205.0 1182.5 L1216.2 1160.0 L1225.0 1135.0 L1235.0 1107.5 L1242.5 1130.0 L1248.8 1155.0 L1251.2 1166.2 L1256.2 1160.0 L1258.0 1142.5 L1257.5 1105.0 L1255.5 1067.5 L1252.5 1030.0 L1250.0 1015.0 L1247.0 1005.0 L1240.0 1000.0 L1230.0 1001.2 L1218.0 1005.0 L1218.0 1020.0 L1213.8 1045.0 L1205.0 1070.0 L1195.0 1095.0 L1185.0 1122.5 L1173.2 1150.0 L1165.0 1130.0 L1155.0 1105.0 L1145.0 1080.0 L1136.2 1055.0 L1128.8 1030.0 L1126.2 1015.0 L1128.8 1002.5 L1125.0 993.8Z" fill="rgb(76,76,76)" stroke="rgb(76,76,76)" stroke-width="15" stroke-linejoin="round"/>
<path d="M1261.2 923.8 L1270.0 935.0 L1277.5 955.0 L1285.0 975.0 L1291.2 1000.0 L1293.8 1037.5 L1297.0 1067.5 L1300.2 1105.0 L1303.5 1142.5 L1307.8 1180.0 L1307.8 1180.0 L1312.0 1230.0 L1315.5 1282.5 L1307.0 1282.5 L1303.5 1230.0 L1299.2 1180.0 L1299.2 1180.0 L1295.5 1142.5 L1291.8 1105.0 L1288.0 1067.5 L1284.2 1037.5 L1278.8 1020.0 L1271.2 1002.5 L1262.5 990.0 L1253.8 980.0 L1248.8 970.0 L1250.0 950.0 L1253.8 935.0Z" fill="rgb(76,76,76)" stroke="rgb(76,76,76)" stroke-width="15" stroke-linejoin="round"/>
<path d="M1311.2 933.8 L1318.8 940.0 L1323.8 960.0 L1327.5 992.5 L1330.0 1030.0 L1335.0 1080.0 L1341.2 1138.8 L1346.2 1180.0 L1346.2 1180.0 L1352.5 1230.0 L1357.5 1282.5 L1346.2 1282.5 L1342.0 1230.0 L1336.2 1180.0 L1336.2 1180.0 L1331.2 1138.8 L1325.0 1080.0 L1320.0 1030.0 L1313.8 1000.0 L1308.8 980.0 L1305.5 960.0 L1306.2 942.5Z" fill="rgb(76,76,76)" stroke="rgb(76,76,76)" stroke-width="15" stroke-linejoin="round"/>
<path d="M1068.8 936.2 L1077.5 942.5 L1087.5 960.0 L1095.5 975.0 L1095.0 990.0 L1087.5 1000.0 L1080.0 1005.0 L1073.8 1005.0 L1068.0 1006.2 L1063.8 1015.0 L1060.0 1037.5 L1056.2 1080.0 L1052.5 1130.0 L1048.8 1180.0 L1048.8 1180.0 L1045.0 1230.0 L1041.2 1282.5 L1035.0 1282.5 L1038.8 1230.0 L1042.5 1180.0 L1042.5 1180.0 L1046.2 1130.0 L1050.0 1080.0 L1053.0 1037.5 L1055.0 1005.0 L1056.2 980.0 L1060.0 955.0 L1063.8 942.5Z" fill="rgb(135,135,135)"/>
<path d="M1118.0 990.0 L1105.0 1002.5 L1098.8 1030.0 L1092.5 1067.5 L1087.5 1105.0 L1083.8 1142.5 L1082.5 1142.5 L1083.0 1165.0 L1086.2 1173.8 L1090.0 1160.0 L1097.5 1142.5 L1105.0 1125.0 L1110.0 1112.5 L1120.0 1137.5 L1130.0 1160.0 L1142.5 1182.5 L1155.0 1202.5 L1165.0 1217.5 L1173.2 1228.8 L1182.5 1216.2 L1192.5 1202.5 L1205.0 1182.5 L1216.2 1160.0 L1225.0 1135.0 L1235.0 1107.5 L1242.5 1130.0 L1248.8 1155.0 L1251.2 1166.2 L1256.2 1160.0 L1258.0 1142.5 L1257.5 1105.0 L1255.5 1067.5 L1252.5 1030.0 L1250.0 1015.0 L1247.0 1005.0 L1240.0 1000.0 L1230.0 1001.2 L1218.0 1005.0 L1218.0 1020.0 L1213.8 1045.0 L1205.0 1070.0 L1195.0 1095.0 L1185.0 1122.5 L1173.2 1150.0 L1165.0 1130.0 L1155.0 1105.0 L1145.0 1080.0 L1136.2 1055.0 L1128.8 1030.0 L1126.2 1015.0 L1128.8 1002.5 L1125.0 993.8Z" fill="rgb(135,135,135)"/>
<path d="M1261.2 923.8 L1270.0 935.0 L1277.5 955.0 L1285.0 975.0 L1291.2 1000.0 L1293.8 1037.5 L1297.0 1067.5 L1300.2 1105.0 L1303.5 1142.5 L1307.8 1180.0 L1307.8 1180.0 L1312.0 1230.0 L1315.5 1282.5 L1307.0 1282.5 L1303.5 1230.0 L1299.2 1180.0 L1299.2 1180.0 L1295.5 1142.5 L1291.8 1105.0 L1288.0 1067.5 L1284.2 1037.5 L1278.8 1020.0 L1271.2 1002.5 L1262.5 990.0 L1253.8 980.0 L1248.8 970.0 L1250.0 950.0 L1253.8 935.0Z" fill="rgb(135,135,135)"/>
<path d="M1311.2 933.8 L1318.8 940.0 L1323.8 960.0 L1327.5 992.5 L1330.0 1030.0 L1335.0 1080.0 L1341.2 1138.8 L1346.2 1180.0 L1346.2 1180.0 L1352.5 1230.0 L1357.5 1282.5 L1346.2 1282.5 L1342.0 1230.0 L1336.2 1180.0 L1336.2 1180.0 L1331.2 1138.8 L1325.0 1080.0 L1320.0 1030.0 L1313.8 1000.0 L1308.8 980.0 L1305.5 960.0 L1306.2 942.5Z" fill="rgb(135,135,135)"/>
<path d="M1068.8 950.0 L1068.8 970.0 L1073.8 1000.0" fill="none" stroke="rgb(173,173,173)" stroke-width="12" stroke-linecap="round" stroke-linejoin="round"/>
<path d="M1058.0 1037.5 L1052.5 1080.0 L1049.5 1130.0 L1045.5 1180.0 L1042.5 1205.0 L1040.0 1242.5 L1038.0 1280.0" fill="none" stroke="rgb(153,153,153)" stroke-width="3" stroke-linecap="round" stroke-linejoin="round"/>
<path d="M1111.2 1050.0 L1121.2 1067.5 L1136.2 1105.0 L1150.0 1145.0 L1161.2 1177.5" fill="none" stroke="rgb(168,168,168)" stroke-width="14" stroke-linecap="round" stroke-linejoin="round"/>
<path d="M1105.0 1070.0 L1101.2 1100.0" fill="none" stroke="rgb(178,178,178)" stroke-width="11" stroke-linecap="round" stroke-linejoin="round"/>
<path d="M1161.2 1177.5 L1173.2 1210.0" fill="none" stroke="rgb(168,168,168)" stroke-width="10" stroke-linecap="round" stroke-linejoin="round"/>
<path d="M1173.2 1210.0 L1185.0 1177.5 L1197.5 1135.0 L1210.0 1092.5 L1225.0 1052.5" fill="none" stroke="rgb(168,168,168)" stroke-width="13" stroke-linecap="round" stroke-linejoin="round"/>
<path d="M1240.5 1055.0 L1245.0 1090.0" fill="none" stroke="rgb(184,184,184)" stroke-width="10" stroke-linecap="round" stroke-linejoin="round"/>
<path d="M1225.0 1050.0 L1235.0 1020.0" fill="none" stroke="rgb(158,158,158)" stroke-width="8" stroke-linecap="round" stroke-linejoin="round"/>
<path d="M1262.0 937.5 L1268.8 955.0 L1277.5 980.0 L1286.2 1010.0" fill="none" stroke="rgb(178,178,178)" stroke-width="12" stroke-linecap="round" stroke-linejoin="round"/>
<path d="M1288.8 1037.5 L1292.5 1067.5 L1295.5 1092.5 L1298.8 1130.0 L1303.0 1180.0 L1303.0 1180.0 L1307.0 1230.0 L1311.0 1282.5" fill="none" stroke="rgb(153,153,153)" stroke-width="3" stroke-linecap="round" stroke-linejoin="round"/>
<path d="M1313.8 947.5 L1318.0 970.0 L1322.5 1005.0" fill="none" stroke="rgb(178,178,178)" stroke-width="6" stroke-linecap="round" stroke-linejoin="round"/>
<path d="M1322.5 1005.0 L1323.8 1022.5 L1330.0 1080.0 L1336.2 1138.8 L1340.5 1180.0 L1342.0 1196.2 L1348.0 1255.0 L1351.5 1282.5" fill="none" stroke="rgb(178,178,178)" stroke-width="4" stroke-linecap="round" stroke-linejoin="round"/>
<path d="M1068.0 958.8 L1066.5 990.0" fill="none" stroke="rgb(255,255,255)" stroke-width="8" stroke-linecap="round" stroke-linejoin="round"/>
<path d="M1263.8 948.8 L1272.5 970.0 L1281.2 990.0 L1285.5 1003.8" fill="none" stroke="rgb(255,255,255)" stroke-width="8" stroke-linecap="round" stroke-linejoin="round"/>
<path d="M1318.0 965.0 L1320.5 978.8" fill="none" stroke="rgb(224,224,224)" stroke-width="4" stroke-linecap="round" stroke-linejoin="round"/>
<path d="M1158.8 1170.0 L1167.0 1191.2" fill="none" stroke="rgb(235,235,235)" stroke-width="5.5" stroke-linecap="round" stroke-linejoin="round"/>
<path d="M1188.8 1153.8 L1180.8 1183.8" fill="none" stroke="rgb(235,235,235)" stroke-width="5.5" stroke-linecap="round" stroke-linejoin="round"/>
</g>
<path d="M976.8 845.0 L970.0 892.5 L962.5 935.0 L956.2 970.0 L950.0 1010.0 L943.8 1050.0 L937.5 1090.0 L931.2 1125.0 L925.0 1155.0 L918.8 1175.0 L916.2 1182.5 L905.0 1201.2" fill="none" stroke="#fff" stroke-width="3.5" stroke-linejoin="round" stroke-linecap="butt" stroke-dasharray="6.5 3.2"/>
<path d="M1030.8 1282.5 L1036.2 1242.5 L1040.0 1205.0 L1043.0 1167.5 L1046.2 1125.0 L1050.0 1080.0 L1055.0 1045.0 L1060.0 1022.5 L1066.2 1008.0 L1075.0 1006.2 L1082.5 1012.5 L1090.0 1027.5 L1097.5 1045.0 L1107.5 1070.0 L1117.5 1095.0 L1127.5 1120.0 L1137.5 1145.0 L1147.5 1168.8 L1156.2 1155.0 L1163.8 1135.0 L1173.2 1108.8 L1182.5 1135.0 L1190.5 1155.0 L1200.0 1170.0 L1208.8 1152.5 L1217.5 1127.5 L1227.5 1095.0 L1237.5 1060.0 L1247.5 1020.0 L1255.0 985.0 L1261.2 950.0 L1267.5 920.0 L1275.0 895.0 L1281.2 883.0 L1287.5 895.0 L1293.8 912.5 L1297.5 942.5 L1301.2 985.0 L1305.0 1030.0 L1308.8 1075.0 L1311.2 1117.5 L1314.5 1155.0 L1317.0 1185.0 L1320.0 1230.0 L1323.2 1282.5" fill="none" stroke="#fff" stroke-width="3.5" stroke-linejoin="round" stroke-linecap="butt" stroke-dasharray="6.5 3.2"/>
<path d="M1317.5 845.0 L1320.0 892.5 L1322.5 935.0 L1325.0 970.0 L1326.2 1005.0 L1328.8 1042.5 L1331.2 1080.0 L1335.0 1130.0 L1338.8 1180.0 L1338.8 1180.0 L1342.5 1230.0 L1346.5 1282.5" fill="none" stroke="#fff" stroke-width="3.5" stroke-linejoin="round" stroke-linecap="butt" stroke-dasharray="6.5 3.2"/>
<line x1="1173.25" y1="851.30" x2="1173.25" y2="1281.20" stroke="#000" stroke-width="3.6" stroke-dasharray="7.5 5.5"/>
<line x1="904.60" y1="963.75" x2="1484.00" y2="963.75" stroke="#000" stroke-width="3.2" stroke-dasharray="1.8 1.6"/>
<rect x="952.80" y="963.55" width="10.4" height="10.4" fill="none" stroke="#d0181c" stroke-width="3.2"/>
<rect x="946.55" y="1016.80" width="10.4" height="10.4" fill="none" stroke="#d0181c" stroke-width="3.2"/>
<rect x="940.80" y="1069.80" width="10.4" height="10.4" fill="none" stroke="#d0181c" stroke-width="3.2"/>
<rect x="934.80" y="1122.80" width="10.4" height="10.4" fill="none" stroke="#d0181c" stroke-width="3.2"/>
<rect x="929.05" y="1175.80" width="10.4" height="10.4" fill="none" stroke="#d0181c" stroke-width="3.2"/>
<rect x="923.05" y="1228.55" width="10.4" height="10.4" fill="none" stroke="#d0181c" stroke-width="3.2"/>
<path d="M1061.00 968.75h14M1068.00 961.75v14" stroke="#d0181c" stroke-width="3.9" fill="none"/>
<path d="M1073.00 980.00h14M1080.00 973.00v14" stroke="#d0181c" stroke-width="3.9" fill="none"/>
<path d="M1084.25 1006.25h14M1091.25 999.25v14" stroke="#d0181c" stroke-width="3.9" fill="none"/>
<path d="M1049.25 1037.50h14M1056.25 1030.50v14" stroke="#d0181c" stroke-width="3.9" fill="none"/>
<path d="M1098.50 1037.50h14M1105.50 1030.50v14" stroke="#d0181c" stroke-width="3.9" fill="none"/>
<path d="M1113.00 1069.50h14M1120.00 1062.50v14" stroke="#d0181c" stroke-width="3.9" fill="none"/>
<path d="M1127.50 1101.25h14M1134.50 1094.25v14" stroke="#d0181c" stroke-width="3.9" fill="none"/>
<path d="M1142.50 1143.75h14M1149.50 1136.75v14" stroke="#d0181c" stroke-width="3.9" fill="none"/>
<path d="M1043.00 1133.25h14M1050.00 1126.25v14" stroke="#d0181c" stroke-width="3.9" fill="none"/>
<path d="M1154.25 1175.75h14M1161.25 1168.75v14" stroke="#d0181c" stroke-width="3.9" fill="none"/>
<path d="M1166.25 1197.00h14M1173.25 1190.00v14" stroke="#d0181c" stroke-width="3.9" fill="none"/>
<path d="M1037.50 1208.25h14M1044.50 1201.25v14" stroke="#d0181c" stroke-width="3.9" fill="none"/>
<path d="M1032.25 1271.25h14M1039.25 1264.25v14" stroke="#d0181c" stroke-width="3.9" fill="none"/>
<path d="M1177.50 1170.00h14M1184.50 1163.00v14" stroke="#d0181c" stroke-width="3.9" fill="none"/>
<path d="M1188.50 1138.75h14M1195.50 1131.75v14" stroke="#d0181c" stroke-width="3.9" fill="none"/>
<path d="M1203.75 1091.25h14M1210.75 1084.25v14" stroke="#d0181c" stroke-width="3.9" fill="none"/>
<path d="M1218.00 1048.75h14M1225.00 1041.75v14" stroke="#d0181c" stroke-width="3.9" fill="none"/>
<path d="M1233.00 1006.25h14M1240.00 999.25v14" stroke="#d0181c" stroke-width="3.9" fill="none"/>
<path d="M1246.75 968.75h14M1253.75 961.75v14" stroke="#d0181c" stroke-width="3.9" fill="none"/>
<path d="M1256.75 947.50h14M1263.75 940.50v14" stroke="#d0181c" stroke-width="3.9" fill="none"/>
<path d="M1266.75 963.75h14M1273.75 956.75v14" stroke="#d0181c" stroke-width="3.9" fill="none"/>
<path d="M1276.75 995.50h14M1283.75 988.50v14" stroke="#d0181c" stroke-width="3.9" fill="none"/>
<path d="M1282.25 1037.50h14M1289.25 1030.50v14" stroke="#d0181c" stroke-width="3.9" fill="none"/>
<path d="M1288.50 1091.25h14M1295.50 1084.25v14" stroke="#d0181c" stroke-width="3.9" fill="none"/>
<path d="M1293.75 1143.75h14M1300.75 1136.75v14" stroke="#d0181c" stroke-width="3.9" fill="none"/>
<path d="M1299.75 1229.25h14M1306.75 1222.25v14" stroke="#d0181c" stroke-width="3.9" fill="none"/>
<circle cx="1320.00" cy="963.75" r="5.3" fill="none" stroke="#d0181c" stroke-width="3.1"/>
<circle cx="1324.50" cy="1022.00" r="5.3" fill="none" stroke="#d0181c" stroke-width="3.1"/>
<circle cx="1330.50" cy="1080.00" r="5.3" fill="none" stroke="#d0181c" stroke-width="3.1"/>
<circle cx="1336.25" cy="1138.75" r="5.3" fill="none" stroke="#d0181c" stroke-width="3.1"/>
<circle cx="1342.00" cy="1196.25" r="5.3" fill="none" stroke="#d0181c" stroke-width="3.1"/>
<circle cx="1348.00" cy="1255.00" r="5.3" fill="none" stroke="#d0181c" stroke-width="3.1"/>
</g>
<rect x="904.6" y="846.8" width="579.4" height="434.4000000000001" fill="none" stroke="#000" stroke-width="1.6"/>
<line x1="889.60" y1="858.25" x2="904.60" y2="858.25" stroke="#000" stroke-width="1.6" />
<text x="878.00" y="874.75" font-size="50" text-anchor="end" fill="#000" >0.1</text>
<line x1="889.60" y1="963.75" x2="904.60" y2="963.75" stroke="#000" stroke-width="1.6" />
<text x="878.00" y="980.25" font-size="50" text-anchor="end" fill="#000" >0.0</text>
<line x1="889.60" y1="1069.25" x2="904.60" y2="1069.25" stroke="#000" stroke-width="1.6" />
<text x="878.00" y="1085.75" font-size="50" text-anchor="end" fill="#000" >-0.1</text>
<line x1="889.60" y1="1174.75" x2="904.60" y2="1174.75" stroke="#000" stroke-width="1.6" />
<text x="878.00" y="1191.25" font-size="50" text-anchor="end" fill="#000" >-0.2</text>
<line x1="889.60" y1="1280.25" x2="904.60" y2="1280.25" stroke="#000" stroke-width="1.6" />
<text x="878.00" y="1296.75" font-size="50" text-anchor="end" fill="#000" >-0.3</text>
<line x1="1027.75" y1="1281.20" x2="1027.75" y2="1296.20" stroke="#000" stroke-width="1.6" />
<text x="1026.75" y="1342.50" font-size="50" text-anchor="middle" fill="#000" >-0.5</text>
<line x1="1173.25" y1="1281.20" x2="1173.25" y2="1296.20" stroke="#000" stroke-width="1.6" />
<text x="1173.25" y="1342.50" font-size="50" text-anchor="middle" fill="#000" >0.0</text>
<line x1="1318.75" y1="1281.20" x2="1318.75" y2="1296.20" stroke="#000" stroke-width="1.6" />
<text x="1318.75" y="1342.50" font-size="50" text-anchor="middle" fill="#000" >0.5</text>
<line x1="1464.25" y1="1281.20" x2="1464.25" y2="1296.20" stroke="#000" stroke-width="1.6" />
<text x="1464.25" y="1342.50" font-size="50" text-anchor="middle" fill="#000" >1.0</text>
<text x="754.50" y="865.00" font-size="45.5" text-anchor="start" fill="#000" >(f)</text>
<text x="892.00" y="835.00" font-size="50" text-anchor="start" fill="#000" >L</text>
<text x="1173.00" y="835.00" font-size="50" text-anchor="middle" fill="#000" >A</text>
<text x="1466.00" y="835.00" font-size="50" text-anchor="start" fill="#000" >H</text>
<line x1="925.00" y1="818.40" x2="1156.00" y2="818.40" stroke="#000" stroke-width="1.8" />
<line x1="1189.00" y1="818.40" x2="1458.00" y2="818.40" stroke="#000" stroke-width="1.8" />
<polygon points="918.5,818.4 938,813.6 938,823.2" fill="#000"/>
<polygon points="1466.5,818.4 1447,813.6 1447,823.2" fill="#000"/>
<text transform="translate(766.7 1161.5) rotate(-90)" font-size="47.5"><tspan font-style="italic">E</tspan>-<tspan font-style="italic">E</tspan><tspan font-size="32" dy="14.5">F</tspan><tspan dy="-14.5"> (eV)</tspan></text>
<text x="1121" y="1419" font-size="48.5"><tspan font-style="italic">k</tspan><tspan font-style="italic" font-size="32" dy="12">//</tspan><tspan dy="-12"> (Å</tspan><tspan font-size="34" dy="-18">-1</tspan><tspan dy="18">)</tspan></text>
</svg></body></html>
